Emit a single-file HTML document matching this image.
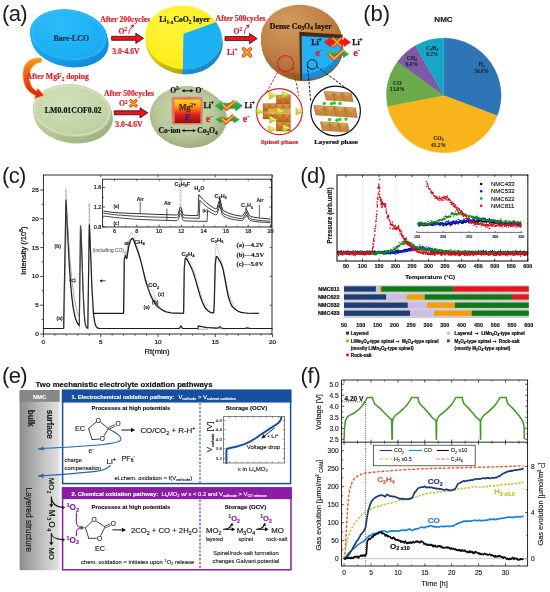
<!DOCTYPE html>
<html><head><meta charset="utf-8"><title>Figure</title>
<style>html,body{margin:0;padding:0;background:#fff;}svg{display:block;}</style>
</head><body>
<svg width="550" height="592" viewBox="0 0 550 592">
<defs><filter id="soft" x="0" y="0" width="550" height="592" filterUnits="userSpaceOnUse"><feGaussianBlur stdDeviation="0.38"/></filter></defs>
<rect width="550" height="592" fill="#ffffff"/>
<g filter="url(#soft)">
<g id="panel_a">
<defs>
<radialGradient id="gBlue" cx="0.35" cy="0.3" r="0.8"><stop offset="0" stop-color="#2fbcfa"/><stop offset="0.7" stop-color="#1bb0f5"/><stop offset="1" stop-color="#18a6ee"/></radialGradient>
<linearGradient id="gBlueRim" x1="0" y1="0" x2="0.6" y2="1"><stop offset="0" stop-color="#2aaef3"/><stop offset="0.6" stop-color="#1592dc"/><stop offset="1" stop-color="#0f7fcb"/></linearGradient>
<radialGradient id="gYel" cx="0.35" cy="0.3" r="0.8"><stop offset="0" stop-color="#fff53c"/><stop offset="0.8" stop-color="#fcee1c"/><stop offset="1" stop-color="#f4e418"/></radialGradient>
<linearGradient id="gYelRim" x1="0" y1="0" x2="0.5" y2="1"><stop offset="0" stop-color="#f7e820"/><stop offset="0.7" stop-color="#d9c916"/><stop offset="1" stop-color="#b3a510"/></linearGradient>
<radialGradient id="gBrown" cx="0.32" cy="0.28" r="0.85"><stop offset="0" stop-color="#d29a5e"/><stop offset="0.55" stop-color="#bf8147"/><stop offset="1" stop-color="#a4672f"/></radialGradient>
<linearGradient id="gBrownRim" x1="0" y1="0" x2="0.6" y2="1"><stop offset="0" stop-color="#c58a4f"/><stop offset="0.6" stop-color="#9b5f2a"/><stop offset="1" stop-color="#7a4519"/></linearGradient>
<radialGradient id="gGreen" cx="0.38" cy="0.32" r="0.8"><stop offset="0" stop-color="#d3e1bb"/><stop offset="0.7" stop-color="#c2d3a6"/><stop offset="1" stop-color="#b7c99a"/></radialGradient>
<linearGradient id="gGreenRim" x1="0" y1="0" x2="0.5" y2="1"><stop offset="0" stop-color="#c4d5a8"/><stop offset="0.7" stop-color="#a9bb8c"/><stop offset="1" stop-color="#93a676"/></linearGradient>
<radialGradient id="gGreen2" cx="0.45" cy="0.42" r="0.62"><stop offset="0" stop-color="#ccd9b1"/><stop offset="0.6" stop-color="#b9c89c"/><stop offset="1" stop-color="#98a97a"/></radialGradient>
<linearGradient id="gMg" x1="0" y1="0" x2="0" y2="1"><stop offset="0" stop-color="#ffd91c"/><stop offset="0.3" stop-color="#fb9a16"/><stop offset="0.62" stop-color="#e3241a"/><stop offset="1" stop-color="#8c1014"/></linearGradient>
<radialGradient id="gGlow" cx="0.5" cy="0.5" r="0.5"><stop offset="0.6" stop-color="#f0503a" stop-opacity="0.95"/><stop offset="1" stop-color="#f0705a" stop-opacity="0"/></radialGradient>
<linearGradient id="gArrG" x1="0" y1="0" x2="0" y2="1"><stop offset="0" stop-color="#55cf6a"/><stop offset="0.5" stop-color="#27ad45"/><stop offset="1" stop-color="#1c9a3a"/></linearGradient>
<linearGradient id="gCurv" x1="0" y1="0" x2="0" y2="1"><stop offset="0" stop-color="#f39a14"/><stop offset="0.45" stop-color="#ec5a14"/><stop offset="1" stop-color="#df1a14"/></linearGradient>
<linearGradient id="gBlueRimU" gradientUnits="userSpaceOnUse" x1="40" y1="20" x2="85" y2="70"><stop offset="0" stop-color="#27b6f8"/><stop offset="0.55" stop-color="#18a0ea"/><stop offset="1" stop-color="#128bd8"/></linearGradient>
<linearGradient id="gGreenRimU" gradientUnits="userSpaceOnUse" x1="45" y1="95" x2="90" y2="146"><stop offset="0" stop-color="#c6d7ab"/><stop offset="0.55" stop-color="#b3c596"/><stop offset="1" stop-color="#9fb283"/></linearGradient>
<linearGradient id="gBrownRimU" gradientUnits="userSpaceOnUse" x1="275" y1="20" x2="320" y2="84"><stop offset="0" stop-color="#c68b50"/><stop offset="0.6" stop-color="#a5682f"/><stop offset="1" stop-color="#85501f"/></linearGradient>
<clipPath id="cCut"><path d="M300.6 35.4 L346 38.4 L346 92 L301.8 92 Z"/></clipPath>
<linearGradient id="gBlueRimC" gradientUnits="userSpaceOnUse" x1="305" y1="40" x2="335" y2="84"><stop offset="0" stop-color="#22aef4"/><stop offset="0.6" stop-color="#168fdc"/><stop offset="1" stop-color="#0f78c4"/></linearGradient>
<clipPath id="cYface"><ellipse cx="183.4" cy="37.4" rx="38.4" ry="31.8" transform="rotate(6 183.4 37.4)"/></clipPath>
<clipPath id="cYrim"><ellipse cx="184.2" cy="41.6" rx="38.6" ry="32.6" transform="rotate(6 184.2 41.6)"/></clipPath>
<clipPath id="cSpinel"><circle cx="279.3" cy="111.6" r="23.0"/></clipPath>
<clipPath id="cLayer"><circle cx="335.6" cy="111" r="24.8"/></clipPath>
</defs>
<text x="2.00" y="20.60" font-family='"Liberation Sans", "DejaVu Sans", sans-serif' font-size="22.00" fill="#1a1a1a" letter-spacing="-0.65">(a)</text>
<ellipse cx="70.0" cy="41.5" rx="38.8" ry="25.6" transform="rotate(8 70.0 41.5)" fill="url(#gBlueRimU)" /><ellipse cx="69.8" cy="40.7" rx="38.8" ry="25.6" transform="rotate(8 69.8 40.7)" fill="url(#gBlueRimU)" /><ellipse cx="69.6" cy="39.9" rx="38.8" ry="25.6" transform="rotate(8 69.6 39.9)" fill="url(#gBlueRimU)" /><ellipse cx="69.4" cy="39.1" rx="38.8" ry="25.6" transform="rotate(8 69.4 39.1)" fill="url(#gBlueRimU)" /><ellipse cx="69.2" cy="38.2" rx="38.8" ry="25.6" transform="rotate(8 69.2 38.2)" fill="url(#gBlueRimU)" /><ellipse cx="69.1" cy="37.4" rx="38.8" ry="25.6" transform="rotate(8 69.1 37.4)" fill="url(#gBlueRimU)" /><ellipse cx="68.9" cy="36.6" rx="38.8" ry="25.6" transform="rotate(8 68.9 36.6)" fill="url(#gBlueRimU)" /><ellipse cx="68.7" cy="35.8" rx="38.8" ry="25.6" transform="rotate(8 68.7 35.8)" fill="url(#gBlueRimU)" /><ellipse cx="68.5" cy="35.0" rx="38.8" ry="25.6" transform="rotate(8 68.5 35.0)" fill="url(#gBlue)" />
<ellipse cx="68.5" cy="35.0" rx="36.8" ry="23.8" transform="rotate(8 68.5 35.0)" fill="none" stroke="#4cc4ff" stroke-width="1.6" opacity="0.35"/>
<text x="71.30" y="41.00" font-family='"Liberation Serif", "DejaVu Serif", serif' font-size="7.90" fill="#0e3148" font-weight="bold" text-anchor="middle" stroke="#0e3148" stroke-width="0.2">Bare-LCO</text>
<text x="125.20" y="22.00" font-family='"Liberation Serif", "DejaVu Serif", serif' font-size="7.70" fill="#d8222a" font-weight="bold" text-anchor="middle" stroke="#d8222a" stroke-width="0.2">After 200cycles</text>
<text x="118.60" y="33.60" font-family='"Liberation Serif", "DejaVu Serif", serif' font-size="7.70" fill="#d8222a" font-weight="bold" stroke="#d8222a" stroke-width="0.2">O<tspan dy="-2.77" font-size="5.24">2</tspan></text>
<path d="M128.9 33.8 C129.0 30.0, 130.4 28.2, 132.4 26.6" fill="none" stroke="#d8222a" stroke-width="1.0"/><path d="M130.6 25.0 L134.4 24.6 L133.0 28.2 Z" fill="#d8222a"/>
<polygon points="111.6,36.3 135.8,36.3 135.8,33.2 143.6,38.3 135.8,43.4 135.8,40.3 111.6,40.3" fill="#e8151c" stroke="#2a0606" stroke-width="0.75" stroke-linejoin="miter"/>
<text x="126.00" y="53.60" font-family='"Liberation Serif", "DejaVu Serif", serif' font-size="7.70" fill="#d8222a" font-weight="bold" text-anchor="middle" stroke="#d8222a" stroke-width="0.2">3.0-4.6V</text>
<ellipse cx="184.2" cy="41.6" rx="38.6" ry="32.6" transform="rotate(6 184.2 41.6)" fill="url(#gYelRim)" />
<path d="M182.4 60 L182.4 80 L230 80 L230 18 L214 18 Z" fill="url(#gBlueRim)" clip-path="url(#cYrim)"/>
<ellipse cx="183.4" cy="37.4" rx="38.4" ry="31.8" transform="rotate(6 183.4 37.4)" fill="url(#gYel)" />
<path d="M183.4 33.8 L218.5 21.2 L228 30 L228 72 L182.8 74 Z" fill="#1fb0f5" clip-path="url(#cYface)"/>
<text x="184.60" y="21.90" font-family='"Liberation Serif", "DejaVu Serif", serif' font-size="7.70" fill="#14140a" font-weight="bold" text-anchor="middle" stroke="#14140a" stroke-width="0.2">Li<tspan dy="1.69" font-size="5.24">1-x</tspan><tspan dy="-1.69">CoO</tspan><tspan dy="1.69" font-size="5.24">2</tspan><tspan dy="-1.69"> layer</tspan></text>
<text x="240.60" y="21.20" font-family='"Liberation Serif", "DejaVu Serif", serif' font-size="7.70" fill="#d8222a" font-weight="bold" text-anchor="middle" stroke="#d8222a" stroke-width="0.2">After 500cycles</text>
<text x="233.60" y="33.80" font-family='"Liberation Serif", "DejaVu Serif", serif' font-size="7.70" fill="#d8222a" font-weight="bold" stroke="#d8222a" stroke-width="0.2">O<tspan dy="-2.77" font-size="5.24">2</tspan></text>
<path d="M244.3 33.8 C244.4 30.0, 245.8 28.2, 247.8 26.6" fill="none" stroke="#d8222a" stroke-width="1.0"/><path d="M246.0 25.0 L249.8 24.6 L248.4 28.2 Z" fill="#d8222a"/>
<polygon points="225.0,36.6 249.4,36.6 249.4,33.5 257.2,38.6 249.4,43.7 249.4,40.6 225.0,40.6" fill="#e8151c" stroke="#2a0606" stroke-width="0.75" stroke-linejoin="miter"/>
<text x="227.00" y="54.80" font-family='"Liberation Serif", "DejaVu Serif", serif' font-size="8.00" fill="#d8222a" font-weight="bold" stroke="#d8222a" stroke-width="0.2">Li<tspan dy="-2.88" font-size="5.44">+</tspan></text>
<path d="M243.6 49.0 L250.4 55.8 M243.6 55.8 L250.4 49.0" fill="none" stroke="#e2301a" stroke-width="3.6" stroke-linecap="round"/><path d="M243.6 49.0 L250.4 55.8 M243.6 55.8 L250.4 49.0" fill="none" stroke="#f9b122" stroke-width="1.9" stroke-linecap="round"/>
<ellipse cx="302.5" cy="46.5" rx="40.8" ry="34.5" transform="rotate(8 302.5 46.5)" fill="url(#gBrownRimU)" /><ellipse cx="302.4" cy="45.6" rx="40.8" ry="34.5" transform="rotate(8 302.4 45.6)" fill="url(#gBrownRimU)" /><ellipse cx="302.2" cy="44.8" rx="40.8" ry="34.5" transform="rotate(8 302.2 44.8)" fill="url(#gBrownRimU)" /><ellipse cx="302.1" cy="43.9" rx="40.8" ry="34.5" transform="rotate(8 302.1 43.9)" fill="url(#gBrownRimU)" /><ellipse cx="302.0" cy="43.0" rx="40.8" ry="34.5" transform="rotate(8 302.0 43.0)" fill="url(#gBrownRimU)" /><ellipse cx="301.9" cy="42.1" rx="40.8" ry="34.5" transform="rotate(8 301.9 42.1)" fill="url(#gBrownRimU)" /><ellipse cx="301.8" cy="41.2" rx="40.8" ry="34.5" transform="rotate(8 301.8 41.2)" fill="url(#gBrownRimU)" /><ellipse cx="301.6" cy="40.4" rx="40.8" ry="34.5" transform="rotate(8 301.6 40.4)" fill="url(#gBrownRimU)" /><ellipse cx="301.5" cy="39.5" rx="40.8" ry="34.5" transform="rotate(8 301.5 39.5)" fill="url(#gBrown)" />
<g clip-path="url(#cCut)">
<ellipse cx="302.5" cy="45.9" rx="40.0" ry="33.7" transform="rotate(8 302.5 45.9)" fill="url(#gBlueRimC)" /><ellipse cx="302.4" cy="45.1" rx="40.0" ry="33.7" transform="rotate(8 302.4 45.1)" fill="url(#gBlueRimC)" /><ellipse cx="302.2" cy="44.3" rx="40.0" ry="33.7" transform="rotate(8 302.2 44.3)" fill="url(#gBlueRimC)" /><ellipse cx="302.1" cy="43.5" rx="40.0" ry="33.7" transform="rotate(8 302.1 43.5)" fill="url(#gBlueRimC)" /><ellipse cx="302.0" cy="42.7" rx="40.0" ry="33.7" transform="rotate(8 302.0 42.7)" fill="url(#gBlueRimC)" /><ellipse cx="301.9" cy="41.9" rx="40.0" ry="33.7" transform="rotate(8 301.9 41.9)" fill="url(#gBlueRimC)" /><ellipse cx="301.8" cy="41.1" rx="40.0" ry="33.7" transform="rotate(8 301.8 41.1)" fill="url(#gBlueRimC)" /><ellipse cx="301.6" cy="40.3" rx="40.0" ry="33.7" transform="rotate(8 301.6 40.3)" fill="url(#gBlueRimC)" /><ellipse cx="301.5" cy="39.5" rx="40.0" ry="33.7" transform="rotate(8 301.5 39.5)" fill="#20b1f5" />
</g>
<path d="M299.2 31.8 L342.8 34.8 L342.2 38.6 L301.6 36.0 L302.2 79.8 L300.2 81.0 Z" fill="#4a2a12"/>
<text x="300.80" y="28.70" font-family='"Liberation Serif", "DejaVu Serif", serif' font-size="7.85" fill="#1c1208" font-weight="bold" text-anchor="middle" stroke="#1c1208" stroke-width="0.2">Dense Co<tspan dy="1.73" font-size="5.34">3</tspan><tspan dy="-1.73">O</tspan><tspan dy="1.73" font-size="5.34">4</tspan><tspan dy="-1.73"> layer</tspan></text>
<text x="311.20" y="45.00" font-family='"Liberation Serif", "DejaVu Serif", serif' font-size="7.80" fill="#0a0a0a" font-weight="bold" stroke="#0a0a0a" stroke-width="0.25">Li<tspan dy="-2.81" font-size="5.30">+</tspan></text>
<polygon points="323.6,42.2 331.0,37.1 331.0,39.7 343.6,39.7 343.6,37.1 351.0,42.2 343.6,47.3 343.6,44.7 331.0,44.7 331.0,47.3" fill="#ee1a16" stroke="none" stroke-width="0"/>
<path d="M333.3 38.5 L340.7 45.9 M333.3 45.9 L340.7 38.5" fill="none" stroke="#e2301a" stroke-width="3.1" stroke-linecap="round"/><path d="M333.3 38.5 L340.7 45.9 M333.3 45.9 L340.7 38.5" fill="none" stroke="#f9b122" stroke-width="1.6" stroke-linecap="round"/>
<text x="352.20" y="45.00" font-family='"Liberation Serif", "DejaVu Serif", serif' font-size="7.80" fill="#0a0a0a" font-weight="bold" stroke="#0a0a0a" stroke-width="0.25">Li<tspan dy="-2.81" font-size="5.30">+</tspan></text>
<text x="315.40" y="56.00" font-family='"Liberation Serif", "DejaVu Serif", serif' font-size="10.20" fill="#d8222a" font-weight="bold" stroke="#d8222a" stroke-width="0.25">e<tspan dy="-3.67" font-size="6.94">-</tspan></text>
<polygon points="326.0,54.0 332.0,50.1 332.0,52.2 343.2,52.2 343.2,50.1 349.2,54.0 343.2,57.9 343.2,55.8 332.0,55.8 332.0,57.9" fill="url(#gArrG)" stroke="none" stroke-width="0"/>
<path d="M329.0 53.8 L334.2 58.8 L344.0 49.8" fill="none" stroke="#e2301a" stroke-width="3.7" stroke-linejoin="miter" stroke-linecap="butt"/><path d="M329.0 53.8 L334.2 58.8 L344.0 49.8" fill="none" stroke="#f9b122" stroke-width="2.0" stroke-linejoin="miter" stroke-linecap="butt"/>
<text x="353.20" y="56.00" font-family='"Liberation Serif", "DejaVu Serif", serif' font-size="10.20" fill="#d8222a" font-weight="bold" stroke="#d8222a" stroke-width="0.25">e<tspan dy="-3.67" font-size="6.94">-</tspan></text>
<circle cx="285.6" cy="63.6" r="8.0" fill="none" stroke="#dc2326" stroke-width="1.1"/>
<circle cx="312.2" cy="64.4" r="4.8" fill="none" stroke="#111" stroke-width="1.0"/>
<line x1="279.40" y1="68.80" x2="261.80" y2="101.00" stroke="#cf1c22" stroke-width="1" stroke-dasharray="2.6 1.4"/>
<line x1="293.00" y1="67.40" x2="299.00" y2="96.50" stroke="#cf1c22" stroke-width="1" stroke-dasharray="2.6 1.4"/>
<line x1="307.60" y1="66.00" x2="310.60" y2="100.50" stroke="#111" stroke-width="1" stroke-dasharray="2.6 1.4"/>
<line x1="316.60" y1="66.40" x2="348.00" y2="89.60" stroke="#111" stroke-width="1" stroke-dasharray="2.6 1.4"/>
<circle cx="279.3" cy="111.6" r="23.0" fill="#fff" stroke="#d8222a" stroke-width="1.2"/>
<g clip-path="url(#cSpinel)"><g>
<rect x="263.00" y="103.80" width="6.60" height="7.60" fill="#c9782a" stroke="#a85a18" stroke-width="0.4" /><path d="M263.0 103.8 L269.6 103.8 L266.3 107.6 Z" fill="#e09a48" opacity="0.7"/><path d="M263.0 111.4 L269.6 111.4 L266.3 107.6 Z" fill="#a85a18" opacity="0.55"/>
<rect x="269.60" y="103.80" width="6.60" height="7.60" fill="#c9782a" stroke="#a85a18" stroke-width="0.4" /><path d="M269.6 103.8 L276.2 103.8 L272.9 107.6 Z" fill="#e09a48" opacity="0.7"/><path d="M269.6 111.4 L276.2 111.4 L272.9 107.6 Z" fill="#a85a18" opacity="0.55"/>
<rect x="263.00" y="111.40" width="6.60" height="7.60" fill="#c9782a" stroke="#a85a18" stroke-width="0.4" /><path d="M263.0 111.4 L269.6 111.4 L266.3 115.2 Z" fill="#e09a48" opacity="0.7"/><path d="M263.0 119.0 L269.6 119.0 L266.3 115.2 Z" fill="#a85a18" opacity="0.55"/>
<rect x="269.60" y="111.40" width="6.60" height="7.60" fill="#c9782a" stroke="#a85a18" stroke-width="0.4" /><path d="M269.6 111.4 L276.2 111.4 L272.9 115.2 Z" fill="#e09a48" opacity="0.7"/><path d="M269.6 119.0 L276.2 119.0 L272.9 115.2 Z" fill="#a85a18" opacity="0.55"/>
<rect x="276.20" y="95.00" width="7.10" height="9.00" fill="#c9782a" stroke="#a85a18" stroke-width="0.4" /><path d="M276.2 95.0 L283.3 95.0 L279.8 99.5 Z" fill="#e09a48" opacity="0.7"/><path d="M276.2 104.0 L283.3 104.0 L279.8 99.5 Z" fill="#a85a18" opacity="0.55"/>
<rect x="283.30" y="95.00" width="7.10" height="9.00" fill="#c9782a" stroke="#a85a18" stroke-width="0.4" /><path d="M283.3 95.0 L290.4 95.0 L286.9 99.5 Z" fill="#e09a48" opacity="0.7"/><path d="M283.3 104.0 L290.4 104.0 L286.9 99.5 Z" fill="#a85a18" opacity="0.55"/>
<rect x="276.20" y="104.00" width="7.10" height="9.00" fill="#c9782a" stroke="#a85a18" stroke-width="0.4" /><path d="M276.2 104.0 L283.3 104.0 L279.8 108.5 Z" fill="#e09a48" opacity="0.7"/><path d="M276.2 113.0 L283.3 113.0 L279.8 108.5 Z" fill="#a85a18" opacity="0.55"/>
<rect x="283.30" y="104.00" width="7.10" height="9.00" fill="#c9782a" stroke="#a85a18" stroke-width="0.4" /><path d="M283.3 104.0 L290.4 104.0 L286.9 108.5 Z" fill="#e09a48" opacity="0.7"/><path d="M283.3 113.0 L290.4 113.0 L286.9 108.5 Z" fill="#a85a18" opacity="0.55"/>
<rect x="276.20" y="113.00" width="7.10" height="9.00" fill="#c9782a" stroke="#a85a18" stroke-width="0.4" /><path d="M276.2 113.0 L283.3 113.0 L279.8 117.5 Z" fill="#e09a48" opacity="0.7"/><path d="M276.2 122.0 L283.3 122.0 L279.8 117.5 Z" fill="#a85a18" opacity="0.55"/>
<rect x="283.30" y="113.00" width="7.10" height="9.00" fill="#c9782a" stroke="#a85a18" stroke-width="0.4" /><path d="M283.3 113.0 L290.4 113.0 L286.9 117.5 Z" fill="#e09a48" opacity="0.7"/><path d="M283.3 122.0 L290.4 122.0 L286.9 117.5 Z" fill="#a85a18" opacity="0.55"/>
<rect x="276.20" y="122.00" width="7.10" height="9.00" fill="#c9782a" stroke="#a85a18" stroke-width="0.4" /><path d="M276.2 122.0 L283.3 122.0 L279.8 126.5 Z" fill="#e09a48" opacity="0.7"/><path d="M276.2 131.0 L283.3 131.0 L279.8 126.5 Z" fill="#a85a18" opacity="0.55"/>
<rect x="283.30" y="122.00" width="7.10" height="9.00" fill="#c9782a" stroke="#a85a18" stroke-width="0.4" /><path d="M283.3 122.0 L290.4 122.0 L286.9 126.5 Z" fill="#e09a48" opacity="0.7"/><path d="M283.3 131.0 L290.4 131.0 L286.9 126.5 Z" fill="#a85a18" opacity="0.55"/>
<rect x="268.00" y="108.60" width="23.00" height="5.40" fill="#e8e070" stroke="none" stroke-width="1" opacity="0.55"/>
<path d="M269.2 91.8 L276.8 95.6 L269.2 99.4 Z" fill="#c6d530" stroke="#8fa01c" stroke-width="0.3"/><path d="M269.2 91.8 L276.8 95.6 L271.3 95.6 Z" fill="#e6ee62"/>
<path d="M282.0 90.8 L289.6 94.6 L282.0 98.4 Z" fill="#c6d530" stroke="#8fa01c" stroke-width="0.3"/><path d="M282.0 90.8 L289.6 94.6 L284.1 94.6 Z" fill="#e6ee62"/>
<path d="M295.8 107.7 L303.4 111.5 L295.8 115.3 Z" fill="#c6d530" stroke="#8fa01c" stroke-width="0.3"/><path d="M295.8 107.7 L303.4 111.5 L297.9 111.5 Z" fill="#e6ee62"/>
<path d="M255.8 107.7 L263.4 111.5 L255.8 115.3 Z" fill="#c6d530" stroke="#8fa01c" stroke-width="0.3"/><path d="M255.8 107.7 L263.4 111.5 L257.9 111.5 Z" fill="#e6ee62"/>
<path d="M269.5 116.0 L277.1 119.8 L269.5 123.6 Z" fill="#c6d530" stroke="#8fa01c" stroke-width="0.3"/><path d="M269.5 116.0 L277.1 119.8 L271.6 119.8 Z" fill="#e6ee62"/>
<path d="M268.4 125.6 L276.0 129.4 L268.4 133.2 Z" fill="#c6d530" stroke="#8fa01c" stroke-width="0.3"/><path d="M268.4 125.6 L276.0 129.4 L270.5 129.4 Z" fill="#e6ee62"/>
<path d="M282.8 124.4 L290.4 128.2 L282.8 132.0 Z" fill="#c6d530" stroke="#8fa01c" stroke-width="0.3"/><path d="M282.8 124.4 L290.4 128.2 L284.9 128.2 Z" fill="#e6ee62"/>
<path d="M276.6 107.6 L284.2 111.4 L276.6 115.2 Z" fill="#c6d530" stroke="#8fa01c" stroke-width="0.3"/><path d="M276.6 107.6 L284.2 111.4 L278.7 111.4 Z" fill="#e6ee62"/>
</g></g>
<text x="279.40" y="143.60" font-family='"Liberation Serif", "DejaVu Serif", serif' font-size="7.00" fill="#d8222a" font-weight="bold" text-anchor="middle" stroke="#d8222a" stroke-width="0.2">Spinel phase</text>
<circle cx="335.6" cy="111" r="24.8" fill="#fff" stroke="#111" stroke-width="1.2"/>
<g clip-path="url(#cLayer)">
<polygon points="324.2,91.4 333.2,91.9 335.2,100.5 326.2,100.0" fill="#c8883c" stroke="#8f5a1e" stroke-width="0.45"/><polygon points="324.2,91.4 333.2,91.9 329.7,96.0" fill="#dba65a" opacity="0.8"/><polygon points="333.2,91.9 342.2,92.5 344.2,101.1 335.2,100.5" fill="#c8883c" stroke="#8f5a1e" stroke-width="0.45"/><polygon points="333.2,91.9 342.2,92.5 338.7,96.5" fill="#dba65a" opacity="0.8"/><polygon points="342.2,92.5 351.2,93.0 353.2,101.6 344.2,101.1" fill="#c8883c" stroke="#8f5a1e" stroke-width="0.45"/><polygon points="342.2,92.5 351.2,93.0 347.7,97.1" fill="#dba65a" opacity="0.8"/>
<polygon points="313.8,105.4 324.2,106.0 326.2,115.6 315.8,115.0" fill="#c8883c" stroke="#8f5a1e" stroke-width="0.45"/><polygon points="313.8,105.4 324.2,106.0 320.0,110.5" fill="#dba65a" opacity="0.8"/><polygon points="324.2,106.0 334.6,106.6 336.6,116.2 326.2,115.6" fill="#c8883c" stroke="#8f5a1e" stroke-width="0.45"/><polygon points="324.2,106.0 334.6,106.6 330.4,111.1" fill="#dba65a" opacity="0.8"/><polygon points="334.6,106.6 345.0,107.3 347.0,116.9 336.6,116.2" fill="#c8883c" stroke="#8f5a1e" stroke-width="0.45"/><polygon points="334.6,106.6 345.0,107.3 340.8,111.8" fill="#dba65a" opacity="0.8"/><polygon points="345.0,107.3 355.4,107.9 357.4,117.5 347.0,116.9" fill="#c8883c" stroke="#8f5a1e" stroke-width="0.45"/><polygon points="345.0,107.3 355.4,107.9 351.2,112.4" fill="#dba65a" opacity="0.8"/>
<polygon points="320.4,121.8 329.4,122.3 331.4,130.9 322.4,130.4" fill="#c8883c" stroke="#8f5a1e" stroke-width="0.45"/><polygon points="320.4,121.8 329.4,122.3 325.9,126.4" fill="#dba65a" opacity="0.8"/><polygon points="329.4,122.3 338.4,122.9 340.4,131.5 331.4,130.9" fill="#c8883c" stroke="#8f5a1e" stroke-width="0.45"/><polygon points="329.4,122.3 338.4,122.9 334.9,126.9" fill="#dba65a" opacity="0.8"/><polygon points="338.4,122.9 347.4,123.4 349.4,132.0 340.4,131.5" fill="#c8883c" stroke="#8f5a1e" stroke-width="0.45"/><polygon points="338.4,122.9 347.4,123.4 343.9,127.4" fill="#dba65a" opacity="0.8"/>
<circle cx="324.2" cy="103.4" r="1.7" fill="#20cf20"/>
<circle cx="331.6" cy="103.8" r="1.7" fill="#20cf20"/>
<circle cx="334.4" cy="103.0" r="1.7" fill="#20cf20"/>
<circle cx="340.0" cy="103.4" r="1.7" fill="#20cf20"/>
<circle cx="329.6" cy="119.5" r="1.7" fill="#20cf20"/>
<circle cx="337.0" cy="120.2" r="1.7" fill="#20cf20"/>
<circle cx="339.8" cy="119.4" r="1.7" fill="#20cf20"/>
<circle cx="346.0" cy="119.1" r="1.7" fill="#20cf20"/>
</g>
<text x="336.00" y="143.60" font-family='"Liberation Serif", "DejaVu Serif", serif' font-size="7.00" fill="#111" font-weight="bold" text-anchor="middle" stroke="#111" stroke-width="0.2">Layered phase</text>
<ellipse cx="73.5" cy="117.0" rx="39.4" ry="26.3" transform="rotate(6 73.5 117.0)" fill="url(#gGreenRimU)" /><ellipse cx="73.3" cy="116.2" rx="39.4" ry="26.3" transform="rotate(6 73.3 116.2)" fill="url(#gGreenRimU)" /><ellipse cx="73.1" cy="115.4" rx="39.4" ry="26.3" transform="rotate(6 73.1 115.4)" fill="url(#gGreenRimU)" /><ellipse cx="72.9" cy="114.6" rx="39.4" ry="26.3" transform="rotate(6 72.9 114.6)" fill="url(#gGreenRimU)" /><ellipse cx="72.8" cy="113.8" rx="39.4" ry="26.3" transform="rotate(6 72.8 113.8)" fill="url(#gGreenRimU)" /><ellipse cx="72.6" cy="112.9" rx="39.4" ry="26.3" transform="rotate(6 72.6 112.9)" fill="url(#gGreenRimU)" /><ellipse cx="72.4" cy="112.1" rx="39.4" ry="26.3" transform="rotate(6 72.4 112.1)" fill="url(#gGreenRimU)" /><ellipse cx="72.2" cy="111.3" rx="39.4" ry="26.3" transform="rotate(6 72.2 111.3)" fill="url(#gGreenRimU)" /><ellipse cx="72.0" cy="110.5" rx="39.4" ry="26.3" transform="rotate(6 72.0 110.5)" fill="url(#gGreen)" />
<ellipse cx="72.0" cy="110.5" rx="37.4" ry="24.4" transform="rotate(6 72.0 110.5)" fill="none" stroke="#e2edcf" stroke-width="1.6" opacity="0.5"/>
<text x="73.20" y="113.40" font-family='"Liberation Serif", "DejaVu Serif", serif' font-size="7.85" fill="#10140c" font-weight="bold" text-anchor="middle" stroke="#10140c" stroke-width="0.2">LM0.01COF0.02</text>
<path d="M41.5 58.2 C27 57, 22.6 66, 23.0 76.5 C23.4 86, 28 92.5, 35.5 95.5 L34.6 98.8 L44.0 95.4 L37.6 88.0 L36.8 91.0 C31.5 88.5, 29.6 83, 29.6 76.5 C29.6 69, 33 63.4, 41.8 62.0 Z" fill="url(#gCurv)" stroke="#f8b830" stroke-width="0.7" stroke-linejoin="round"/>
<text x="26.60" y="79.40" font-family='"Liberation Serif", "DejaVu Serif", serif' font-size="7.70" fill="#d8222a" font-weight="bold" stroke="#d8222a" stroke-width="0.2">After MgF<tspan dy="1.69" font-size="5.24">2</tspan><tspan dy="-1.69"> doping</tspan></text>
<text x="129.00" y="95.60" font-family='"Liberation Serif", "DejaVu Serif", serif' font-size="7.70" fill="#d8222a" font-weight="bold" text-anchor="middle" stroke="#d8222a" stroke-width="0.2">After 500cycles</text>
<text x="119.00" y="106.40" font-family='"Liberation Serif", "DejaVu Serif", serif' font-size="7.70" fill="#d8222a" font-weight="bold" stroke="#d8222a" stroke-width="0.2">O<tspan dy="-2.77" font-size="5.24">2</tspan></text>
<path d="M130.8 100.7 L136.0 105.8 M130.8 105.8 L136.0 100.7" fill="none" stroke="#e2301a" stroke-width="3.1" stroke-linecap="round"/><path d="M130.8 100.7 L136.0 105.8 M130.8 105.8 L136.0 100.7" fill="none" stroke="#f9b122" stroke-width="1.6" stroke-linecap="round"/>
<polygon points="114.2,110.8 140.0,110.8 140.0,107.7 147.8,112.8 140.0,117.9 140.0,114.8 114.2,114.8" fill="#e8151c" stroke="#2a0606" stroke-width="0.75" stroke-linejoin="miter"/>
<text x="129.00" y="127.20" font-family='"Liberation Serif", "DejaVu Serif", serif' font-size="7.70" fill="#d8222a" font-weight="bold" text-anchor="middle" stroke="#d8222a" stroke-width="0.2">3.0-4.6V</text>
<ellipse cx="188.4" cy="117.0" rx="38.6" ry="30.8" transform="rotate(6 188.4 117.0)" fill="url(#gGreen2)" />
<text x="170.20" y="93.20" font-family='"Liberation Serif", "DejaVu Serif", serif' font-size="7.60" fill="#111" font-weight="bold" stroke="#111" stroke-width="0.2">O<tspan dy="-2.74" font-size="5.17">2-</tspan></text>
<line x1="184.1" y1="90.8" x2="191.1" y2="90.8" stroke="#111" stroke-width="1.1"/><path d="M181.6 90.8 L184.6 89.1 L184.6 92.5 Z M193.6 90.8 L190.6 89.1 L190.6 92.5 Z" fill="#111"/>
<text x="195.40" y="93.20" font-family='"Liberation Serif", "DejaVu Serif", serif' font-size="7.60" fill="#111" font-weight="bold" stroke="#111" stroke-width="0.2">O<tspan dy="-2.74" font-size="5.17">-</tspan></text>
<rect x="170.60" y="95.80" width="33.00" height="29.60" fill="url(#gGlow)" stroke="none" stroke-width="1" rx="3"/>
<rect x="171.60" y="96.80" width="31.00" height="27.60" fill="#ee4a38" stroke="none" stroke-width="1" rx="2.5" opacity="0.55"/>
<rect x="174.60" y="99.60" width="25.80" height="23.40" fill="url(#gMg)" stroke="none" stroke-width="1" />
<text x="187.60" y="109.80" font-family='"Liberation Serif", "DejaVu Serif", serif' font-size="8.00" fill="#55260a" font-weight="bold" text-anchor="middle" stroke="#55260a" stroke-width="0.25">Mg<tspan dy="-2.88" font-size="5.44">2+</tspan></text>
<text x="187.60" y="119.60" font-family='"Liberation Serif", "DejaVu Serif", serif' font-size="8.40" fill="#26269a" font-weight="bold" text-anchor="middle" stroke="#26269a" stroke-width="0.25">F</text>
<text x="203.40" y="108.20" font-family='"Liberation Serif", "DejaVu Serif", serif' font-size="7.90" fill="#111" font-weight="bold" stroke="#111" stroke-width="0.25">Li<tspan dy="-2.84" font-size="5.37">+</tspan></text>
<polygon points="214.8,105.8 222.2,100.1 222.2,102.8 235.4,102.8 235.4,100.1 242.8,105.8 235.4,111.5 235.4,108.8 222.2,108.8 222.2,111.5" fill="url(#gArrG)" stroke="none" stroke-width="0"/>
<path d="M222.6 104.6 L226.8 108.6 L234.6 101.4" fill="none" stroke="#e2301a" stroke-width="3.9" stroke-linejoin="miter" stroke-linecap="butt"/><path d="M222.6 104.6 L226.8 108.6 L234.6 101.4" fill="none" stroke="#f9b122" stroke-width="2.1" stroke-linejoin="miter" stroke-linecap="butt"/>
<text x="244.40" y="108.20" font-family='"Liberation Serif", "DejaVu Serif", serif' font-size="7.90" fill="#111" font-weight="bold" stroke="#111" stroke-width="0.25">Li<tspan dy="-2.84" font-size="5.37">+</tspan></text>
<text x="205.80" y="121.80" font-family='"Liberation Serif", "DejaVu Serif", serif' font-size="10.20" fill="#d8222a" font-weight="bold" stroke="#d8222a" stroke-width="0.25">e<tspan dy="-3.67" font-size="6.94">-</tspan></text>
<polygon points="215.4,119.4 221.6,115.4 221.6,117.6 233.6,117.6 233.6,115.4 239.8,119.4 233.6,123.4 233.6,121.2 221.6,121.2 221.6,123.4" fill="url(#gArrG)" stroke="none" stroke-width="0"/>
<path d="M221.9 118.4 L226.0 122.3 L233.7 115.3" fill="none" stroke="#e2301a" stroke-width="3.8" stroke-linejoin="miter" stroke-linecap="butt"/><path d="M221.9 118.4 L226.0 122.3 L233.7 115.3" fill="none" stroke="#f9b122" stroke-width="2.1" stroke-linejoin="miter" stroke-linecap="butt"/>
<text x="242.80" y="121.80" font-family='"Liberation Serif", "DejaVu Serif", serif' font-size="10.20" fill="#d8222a" font-weight="bold" stroke="#d8222a" stroke-width="0.25">e<tspan dy="-3.67" font-size="6.94">-</tspan></text>
<text x="158.60" y="133.00" font-family='"Liberation Serif", "DejaVu Serif", serif' font-size="7.60" fill="#111" font-weight="bold" stroke="#111" stroke-width="0.2">Co-ion</text>
<line x1="184.1" y1="130.6" x2="193.5" y2="130.6" stroke="#111" stroke-width="1.1"/><path d="M181.6 130.6 L184.6 128.9 L184.6 132.3 Z M196.0 130.6 L193.0 128.9 L193.0 132.3 Z" fill="#111"/>
<text x="197.20" y="133.00" font-family='"Liberation Serif", "DejaVu Serif", serif' font-size="7.60" fill="#111" font-weight="bold" stroke="#111" stroke-width="0.2">Co<tspan dy="1.67" font-size="5.17">3</tspan><tspan dy="-1.67">O</tspan><tspan dy="1.67" font-size="5.17">4</tspan></text>
</g>
<g id="panel_b">
<text x="363.30" y="20.60" font-family='"Liberation Sans", "DejaVu Sans", sans-serif' font-size="22.00" fill="#1a1a1a" letter-spacing="-0.05">(b)</text>
<text x="443.50" y="21.60" font-family='"Liberation Sans", "DejaVu Sans", sans-serif' font-size="8.10" fill="#222" font-weight="bold" text-anchor="middle" stroke="#222" stroke-width="0.178">NMC</text>
<path d="M443.80 95.40 L443.80 38.10 A57.30 57.30 0 0 1 497.34 115.82 Z" fill="#2e75b6" stroke="#2e75b6" stroke-width="0.3"/>
<path d="M443.80 95.40 L497.34 115.82 A57.30 57.30 0 0 1 387.51 106.14 Z" fill="#f9b41e" stroke="#f9b41e" stroke-width="0.3"/>
<path d="M443.80 95.40 L387.51 106.14 A57.30 57.30 0 0 1 397.44 61.72 Z" fill="#6aaa4a" stroke="#6aaa4a" stroke-width="0.3"/>
<path d="M443.80 95.40 L397.44 61.72 A57.30 57.30 0 0 1 415.57 45.54 Z" fill="#7c5aa6" stroke="#7c5aa6" stroke-width="0.3"/>
<path d="M443.80 95.40 L415.57 45.54 A57.30 57.30 0 0 1 443.80 38.10 Z" fill="#17a6c6" stroke="#17a6c6" stroke-width="0.3"/>
<text x="481.60" y="66.30" font-family='"Liberation Serif", "DejaVu Serif", serif' font-size="5.60" fill="#1c2530" font-weight="bold" text-anchor="middle" stroke="#1c2530" stroke-width="0.123">H<tspan dy="1.23" font-size="3.81">2</tspan></text>
<text x="481.60" y="72.60" font-family='"Liberation Serif", "DejaVu Serif", serif' font-size="5.30" fill="#1c2530" font-weight="bold" text-anchor="middle" stroke="#1c2530" stroke-width="0.117">30.8%</text>
<text x="438.40" y="140.20" font-family='"Liberation Serif", "DejaVu Serif", serif' font-size="5.60" fill="#1c2530" font-weight="bold" text-anchor="middle" stroke="#1c2530" stroke-width="0.123">CO<tspan dy="1.23" font-size="3.81">2</tspan></text>
<text x="438.40" y="146.50" font-family='"Liberation Serif", "DejaVu Serif", serif' font-size="5.30" fill="#1c2530" font-weight="bold" text-anchor="middle" stroke="#1c2530" stroke-width="0.117">41.2%</text>
<text x="397.30" y="84.60" font-family='"Liberation Serif", "DejaVu Serif", serif' font-size="5.60" fill="#1c2530" font-weight="bold" text-anchor="middle" stroke="#1c2530" stroke-width="0.123">CO</text>
<text x="397.30" y="90.90" font-family='"Liberation Serif", "DejaVu Serif", serif' font-size="5.30" fill="#1c2530" font-weight="bold" text-anchor="middle" stroke="#1c2530" stroke-width="0.117">13.0%</text>
<text x="411.80" y="59.80" font-family='"Liberation Serif", "DejaVu Serif", serif' font-size="5.60" fill="#1c2530" font-weight="bold" text-anchor="middle" stroke="#1c2530" stroke-width="0.123">CH<tspan dy="1.23" font-size="3.81">4</tspan></text>
<text x="411.80" y="66.10" font-family='"Liberation Serif", "DejaVu Serif", serif' font-size="5.30" fill="#1c2530" font-weight="bold" text-anchor="middle" stroke="#1c2530" stroke-width="0.117">6.8%</text>
<text x="432.20" y="49.60" font-family='"Liberation Serif", "DejaVu Serif", serif' font-size="5.60" fill="#1c2530" font-weight="bold" text-anchor="middle" stroke="#1c2530" stroke-width="0.123">C<tspan dy="1.23" font-size="3.81">2</tspan><tspan dy="-1.23">H</tspan><tspan dy="1.23" font-size="3.81">2</tspan></text>
<text x="432.20" y="55.90" font-family='"Liberation Serif", "DejaVu Serif", serif' font-size="5.30" fill="#1c2530" font-weight="bold" text-anchor="middle" stroke="#1c2530" stroke-width="0.117">8.2%</text>
</g>
<g id="panel_c">
<text x="2.00" y="182.50" font-family='"Liberation Sans", "DejaVu Sans", sans-serif' font-size="22.00" fill="#1a1a1a" letter-spacing="-0.65">(c)</text>
<rect x="43.40" y="175.00" width="228.60" height="159.00" fill="none" stroke="#1a1a1a" stroke-width="0.9" />
<line x1="40.20" y1="334.00" x2="43.40" y2="334.00" stroke="#1a1a1a" stroke-width="0.8" />
<text x="38.80" y="336.05" font-family='"Liberation Sans", "DejaVu Sans", sans-serif' font-size="5.70" fill="#1a1a1a" text-anchor="end" transform="translate(38.80 0) scale(1.12 1) translate(-38.80 0)" stroke="#1a1a1a" stroke-width="0.22">0</text>
<line x1="40.20" y1="305.20" x2="43.40" y2="305.20" stroke="#1a1a1a" stroke-width="0.8" />
<text x="38.80" y="307.25" font-family='"Liberation Sans", "DejaVu Sans", sans-serif' font-size="5.70" fill="#1a1a1a" text-anchor="end" transform="translate(38.80 0) scale(1.12 1) translate(-38.80 0)" stroke="#1a1a1a" stroke-width="0.22">5</text>
<line x1="40.20" y1="276.40" x2="43.40" y2="276.40" stroke="#1a1a1a" stroke-width="0.8" />
<text x="38.80" y="278.45" font-family='"Liberation Sans", "DejaVu Sans", sans-serif' font-size="5.70" fill="#1a1a1a" text-anchor="end" transform="translate(38.80 0) scale(1.12 1) translate(-38.80 0)" stroke="#1a1a1a" stroke-width="0.22">10</text>
<line x1="40.20" y1="247.60" x2="43.40" y2="247.60" stroke="#1a1a1a" stroke-width="0.8" />
<text x="38.80" y="249.65" font-family='"Liberation Sans", "DejaVu Sans", sans-serif' font-size="5.70" fill="#1a1a1a" text-anchor="end" transform="translate(38.80 0) scale(1.12 1) translate(-38.80 0)" stroke="#1a1a1a" stroke-width="0.22">15</text>
<line x1="40.20" y1="218.80" x2="43.40" y2="218.80" stroke="#1a1a1a" stroke-width="0.8" />
<text x="38.80" y="220.85" font-family='"Liberation Sans", "DejaVu Sans", sans-serif' font-size="5.70" fill="#1a1a1a" text-anchor="end" transform="translate(38.80 0) scale(1.12 1) translate(-38.80 0)" stroke="#1a1a1a" stroke-width="0.22">20</text>
<line x1="40.20" y1="190.00" x2="43.40" y2="190.00" stroke="#1a1a1a" stroke-width="0.8" />
<text x="38.80" y="192.05" font-family='"Liberation Sans", "DejaVu Sans", sans-serif' font-size="5.70" fill="#1a1a1a" text-anchor="end" transform="translate(38.80 0) scale(1.12 1) translate(-38.80 0)" stroke="#1a1a1a" stroke-width="0.22">25</text>
<line x1="41.60" y1="319.60" x2="43.40" y2="319.60" stroke="#1a1a1a" stroke-width="0.7" />
<line x1="41.60" y1="290.80" x2="43.40" y2="290.80" stroke="#1a1a1a" stroke-width="0.7" />
<line x1="41.60" y1="262.00" x2="43.40" y2="262.00" stroke="#1a1a1a" stroke-width="0.7" />
<line x1="41.60" y1="233.20" x2="43.40" y2="233.20" stroke="#1a1a1a" stroke-width="0.7" />
<line x1="41.60" y1="204.40" x2="43.40" y2="204.40" stroke="#1a1a1a" stroke-width="0.7" />
<line x1="43.40" y1="334.00" x2="43.40" y2="337.20" stroke="#1a1a1a" stroke-width="0.8" />
<text x="43.40" y="343.60" font-family='"Liberation Sans", "DejaVu Sans", sans-serif' font-size="5.70" fill="#1a1a1a" text-anchor="middle" transform="translate(43.40 0) scale(1.12 1) translate(-43.40 0)" stroke="#1a1a1a" stroke-width="0.22">0</text>
<line x1="54.86" y1="334.00" x2="54.86" y2="335.80" stroke="#1a1a1a" stroke-width="0.7" />
<line x1="66.32" y1="334.00" x2="66.32" y2="335.80" stroke="#1a1a1a" stroke-width="0.7" />
<line x1="77.78" y1="334.00" x2="77.78" y2="335.80" stroke="#1a1a1a" stroke-width="0.7" />
<line x1="89.24" y1="334.00" x2="89.24" y2="335.80" stroke="#1a1a1a" stroke-width="0.7" />
<line x1="100.70" y1="334.00" x2="100.70" y2="337.20" stroke="#1a1a1a" stroke-width="0.8" />
<text x="100.70" y="343.60" font-family='"Liberation Sans", "DejaVu Sans", sans-serif' font-size="5.70" fill="#1a1a1a" text-anchor="middle" transform="translate(100.70 0) scale(1.12 1) translate(-100.70 0)" stroke="#1a1a1a" stroke-width="0.22">5</text>
<line x1="112.16" y1="334.00" x2="112.16" y2="335.80" stroke="#1a1a1a" stroke-width="0.7" />
<line x1="123.62" y1="334.00" x2="123.62" y2="335.80" stroke="#1a1a1a" stroke-width="0.7" />
<line x1="135.08" y1="334.00" x2="135.08" y2="335.80" stroke="#1a1a1a" stroke-width="0.7" />
<line x1="146.54" y1="334.00" x2="146.54" y2="335.80" stroke="#1a1a1a" stroke-width="0.7" />
<line x1="158.00" y1="334.00" x2="158.00" y2="337.20" stroke="#1a1a1a" stroke-width="0.8" />
<text x="158.00" y="343.60" font-family='"Liberation Sans", "DejaVu Sans", sans-serif' font-size="5.70" fill="#1a1a1a" text-anchor="middle" transform="translate(158.00 0) scale(1.12 1) translate(-158.00 0)" stroke="#1a1a1a" stroke-width="0.22">10</text>
<line x1="169.46" y1="334.00" x2="169.46" y2="335.80" stroke="#1a1a1a" stroke-width="0.7" />
<line x1="180.92" y1="334.00" x2="180.92" y2="335.80" stroke="#1a1a1a" stroke-width="0.7" />
<line x1="192.38" y1="334.00" x2="192.38" y2="335.80" stroke="#1a1a1a" stroke-width="0.7" />
<line x1="203.84" y1="334.00" x2="203.84" y2="335.80" stroke="#1a1a1a" stroke-width="0.7" />
<line x1="215.30" y1="334.00" x2="215.30" y2="337.20" stroke="#1a1a1a" stroke-width="0.8" />
<text x="215.30" y="343.60" font-family='"Liberation Sans", "DejaVu Sans", sans-serif' font-size="5.70" fill="#1a1a1a" text-anchor="middle" transform="translate(215.30 0) scale(1.12 1) translate(-215.30 0)" stroke="#1a1a1a" stroke-width="0.22">15</text>
<line x1="226.76" y1="334.00" x2="226.76" y2="335.80" stroke="#1a1a1a" stroke-width="0.7" />
<line x1="238.22" y1="334.00" x2="238.22" y2="335.80" stroke="#1a1a1a" stroke-width="0.7" />
<line x1="249.68" y1="334.00" x2="249.68" y2="335.80" stroke="#1a1a1a" stroke-width="0.7" />
<line x1="261.14" y1="334.00" x2="261.14" y2="335.80" stroke="#1a1a1a" stroke-width="0.7" />
<line x1="272.60" y1="334.00" x2="272.60" y2="337.20" stroke="#1a1a1a" stroke-width="0.8" />
<text x="272.60" y="343.60" font-family='"Liberation Sans", "DejaVu Sans", sans-serif' font-size="5.70" fill="#1a1a1a" text-anchor="middle" transform="translate(272.60 0) scale(1.12 1) translate(-272.60 0)" stroke="#1a1a1a" stroke-width="0.22">20</text>
<line x1="43.40" y1="175.00" x2="43.40" y2="177.20" stroke="#1a1a1a" stroke-width="0.7" />
<line x1="100.70" y1="175.00" x2="100.70" y2="177.20" stroke="#1a1a1a" stroke-width="0.7" />
<line x1="158.00" y1="175.00" x2="158.00" y2="177.20" stroke="#1a1a1a" stroke-width="0.7" />
<line x1="215.30" y1="175.00" x2="215.30" y2="177.20" stroke="#1a1a1a" stroke-width="0.7" />
<line x1="272.60" y1="175.00" x2="272.60" y2="177.20" stroke="#1a1a1a" stroke-width="0.7" />
<line x1="269.80" y1="334.00" x2="272.00" y2="334.00" stroke="#1a1a1a" stroke-width="0.7" />
<line x1="269.80" y1="305.20" x2="272.00" y2="305.20" stroke="#1a1a1a" stroke-width="0.7" />
<line x1="269.80" y1="276.40" x2="272.00" y2="276.40" stroke="#1a1a1a" stroke-width="0.7" />
<line x1="269.80" y1="247.60" x2="272.00" y2="247.60" stroke="#1a1a1a" stroke-width="0.7" />
<line x1="269.80" y1="218.80" x2="272.00" y2="218.80" stroke="#1a1a1a" stroke-width="0.7" />
<line x1="269.80" y1="190.00" x2="272.00" y2="190.00" stroke="#1a1a1a" stroke-width="0.7" />
<text x="157.00" y="354.40" font-family='"Liberation Sans", "DejaVu Sans", sans-serif' font-size="7.70" fill="#111" text-anchor="middle" stroke="#111" stroke-width="0.2">Rt(min)</text>
<text x="25.60" y="250.60" font-family='"Liberation Sans", "DejaVu Sans", sans-serif' font-size="7.50" fill="#111" text-anchor="middle" transform="rotate(-90 25.60 250.60)" stroke="#111" stroke-width="0.25">Intensity (/10<tspan dy="-2.70" font-size="5.10">6</tspan><tspan dy="2.70">)</tspan></text>
<polyline points="43.4,328.5 63.5,328.5 63.6,328.2 66.0,200.0 69.1,262.2 70.4,281.7 71.7,296.1 73.2,308.0 74.9,316.4 75.8,319.5 76.9,322.1 78.0,324.2 79.3,325.7 80.5,225.9 80.8,228.5 81.2,235.9 83.1,291.1 84.1,313.0 84.7,320.0 85.5,324.9 86.0,326.4 86.4,327.3 87.0,328.0 87.8,328.3 89.3,224.8 89.9,235.3 91.9,286.7 93.2,308.9 94.0,317.4 94.9,322.8 95.4,324.8 96.1,326.3 96.7,327.3 97.5,327.9 99.0,328.4 101.9,328.5 178.4,328.5 179.1,328.4 179.6,328.1 180.6,326.2 180.9,325.9 181.3,326.3 182.2,328.1 183.0,328.5 198.1,328.5 198.2,325.9 201.8,326.7 206.0,327.3 216.5,328.1 218.0,328.0 219.4,326.9 219.9,326.8 220.3,326.9 221.7,328.1 223.2,328.3 244.0,328.5 245.2,328.4 247.4,327.8 249.5,328.4 250.7,328.5 272.6,328.5" fill="none" stroke="#1a1a1a" stroke-width="1.2" stroke-linejoin="round"/>
<polyline points="62.9,328.5 63.5,328.5 63.6,328.1 65.9,188.6 69.0,254.4 70.2,274.0 71.5,289.9 73.0,302.8 74.7,312.8 75.6,316.6 76.6,319.7 77.6,322.2 78.9,324.3" fill="none" stroke="#444" stroke-width="0.55" stroke-dasharray="0.7 0.7"/>
<polyline points="62.9,328.5 64.0,328.5 64.0,328.2 66.6,210.5 69.8,257.3 71.1,271.5 72.4,283.9 73.8,294.9 75.3,303.8 77.0,311.1 78.9,316.7" fill="none" stroke="#666" stroke-width="0.55" />
<polyline points="87.6,328.5 87.8,328.5 87.9,327.1 89.2,203.3 89.7,216.3 91.5,279.6 92.8,306.5 93.6,316.8 94.5,323.1 95.1,325.1 95.7,326.6 96.4,327.6 97.2,328.1" fill="none" stroke="#444" stroke-width="0.55" stroke-dasharray="0.7 0.7"/>
<polyline points="78.9,328.5 79.3,328.5 79.4,327.4 80.5,225.4 80.9,228.6 81.3,235.9 83.1,288.5 84.1,309.5 84.7,316.7 85.3,322.1 86.0,325.5 86.4,326.8 86.9,327.6" fill="none" stroke="#666" stroke-width="0.5" />
<polyline points="197.0,329.2 207.3,329.2 207.3,327.2 211.1,327.9 215.4,328.4 226.7,329.0" fill="none" stroke="#555" stroke-width="0.5" />
<polyline points="92.7,313.3 123.4,313.3 123.5,313.1 123.7,308.4 124.3,259.5 124.9,256.8 125.4,255.7 125.7,256.0 126.5,258.4 126.6,258.5 126.8,258.3 128.6,247.2 129.6,242.9 129.9,241.8 131.1,239.5 131.8,238.7 132.4,238.4 133.0,238.8 133.6,240.1 137.4,250.2 139.3,255.7 141.1,262.1 145.6,280.8 148.1,288.6 150.3,294.6 151.6,297.5 153.1,300.3 154.7,302.9 156.2,305.0 158.0,307.0 160.5,308.8 162.6,310.2 164.5,311.2 166.2,311.9 171.2,312.8 174.2,313.1 178.7,313.2 183.2,313.3 183.4,313.0 183.6,312.5 183.7,307.0 184.3,268.1 185.0,260.5 185.3,258.6 185.6,258.0 186.3,258.3 187.1,259.6 190.9,266.8 192.5,270.4 194.2,275.4 200.5,297.1 202.2,301.7 204.2,306.1 205.9,308.8 208.5,311.2 210.6,312.4 212.4,312.9 213.5,312.9 213.8,310.6 214.3,302.7 215.2,265.7 215.9,258.6 216.2,256.9 216.5,256.5 217.1,256.8 217.7,257.5 220.1,261.6 221.4,264.3 222.6,267.4 223.6,271.9 228.1,295.8 230.4,302.8 231.5,305.2 232.5,306.8 234.3,308.6 236.9,310.5 239.0,311.7 241.2,312.4 244.5,312.9 247.9,313.2 258.8,313.3" fill="none" stroke="#1a1a1a" stroke-width="1.3" stroke-linejoin="round"/>
<polyline points="127.1,253.4 128.5,242.1 129.2,237.6 130.2,234.4 130.9,233.0 131.2,232.7 131.5,232.6 132.2,233.3 134.8,239.4 137.1,246.4 139.5,254.7 144.1,272.5 148.8,287.9" fill="none" stroke="#555" stroke-width="0.55" stroke-dasharray="0.7 0.7"/>
<polyline points="123.8,264.9 124.6,254.2 124.9,251.2 125.0,251.1 125.2,251.4 125.9,256.1 126.1,256.7 126.2,256.7 127.2,246.6 127.9,244.6 129.3,241.8" fill="none" stroke="#777" stroke-width="0.45" />
<polyline points="214.2,305.2 215.1,260.4 215.8,247.4 216.0,245.0 216.2,244.1 216.6,244.5 216.9,245.3 218.6,253.0 221.5,261.4 222.6,265.2 225.9,279.8 227.9,290.0 228.8,293.5 231.2,299.8 235.9,309.2" fill="none" stroke="#555" stroke-width="0.55" stroke-dasharray="0.7 0.7"/>
<polyline points="183.8,311.0 184.7,264.5 185.4,257.4 185.8,255.6 186.1,255.1 186.8,255.4 187.5,256.5 189.9,261.6 192.5,266.1 193.7,268.7 195.2,273.3 200.7,293.4 202.2,298.2 204.3,303.0 208.4,310.4" fill="none" stroke="#777" stroke-width="0.55" stroke-dasharray="0.7 0.7"/>
<polyline points="147.7,286.2 149.1,289.2 149.7,290.1 150.2,290.2 151.8,289.7 152.3,289.9 152.9,290.6 153.5,292.1 155.9,300.5 156.7,302.5 158.3,305.0 161.4,308.7" fill="none" stroke="#666" stroke-width="0.55" stroke-dasharray="0.7 0.7"/>
<polyline points="147.7,286.8 150.0,292.5 152.3,296.1 155.9,302.2 158.2,305.4 161.4,308.7" fill="none" stroke="#888" stroke-width="0.4" />
<text x="54.60" y="247.60" font-family='"Liberation Sans", "DejaVu Sans", sans-serif' font-size="5.00" fill="#222" font-weight="bold" stroke="#222" stroke-width="0.11">(b)</text>
<text x="69.60" y="282.40" font-family='"Liberation Sans", "DejaVu Sans", sans-serif' font-size="5.00" fill="#222" font-weight="bold" stroke="#222" stroke-width="0.11">(c)</text>
<text x="56.60" y="320.20" font-family='"Liberation Sans", "DejaVu Sans", sans-serif' font-size="5.00" fill="#222" font-weight="bold" stroke="#222" stroke-width="0.11">(a)</text>
<text x="92.70" y="252.20" font-family='"Liberation Sans", "DejaVu Sans", sans-serif' font-size="4.90" fill="#666" stroke="#666" stroke-width="0.108">(including CO)</text>
<text x="124.20" y="244.80" font-family='"Liberation Sans", "DejaVu Sans", sans-serif' font-size="5.20" fill="#222" font-weight="bold" stroke="#222" stroke-width="0.114">air</text>
<text x="134.00" y="243.60" font-family='"Liberation Sans", "DejaVu Sans", sans-serif' font-size="5.90" fill="#222" font-weight="bold" stroke="#222" stroke-width="0.13">CH<tspan dy="1.30" font-size="4.01">4</tspan></text>
<text x="181.40" y="255.60" font-family='"Liberation Sans", "DejaVu Sans", sans-serif' font-size="5.90" fill="#222" font-weight="bold" stroke="#222" stroke-width="0.13">C<tspan dy="1.30" font-size="4.01">2</tspan><tspan dy="-1.30">H</tspan><tspan dy="1.30" font-size="4.01">4</tspan></text>
<text x="210.40" y="241.50" font-family='"Liberation Sans", "DejaVu Sans", sans-serif' font-size="5.90" fill="#222" font-weight="bold" stroke="#222" stroke-width="0.13">C<tspan dy="1.30" font-size="4.01">2</tspan><tspan dy="-1.30">H</tspan><tspan dy="1.30" font-size="4.01">6</tspan></text>
<text x="148.20" y="287.20" font-family='"Liberation Sans", "DejaVu Sans", sans-serif' font-size="5.90" fill="#222" font-weight="bold" stroke="#222" stroke-width="0.13">CO<tspan dy="1.30" font-size="4.01">2</tspan></text>
<text x="158.00" y="296.40" font-family='"Liberation Sans", "DejaVu Sans", sans-serif' font-size="5.00" fill="#222" font-weight="bold" stroke="#222" stroke-width="0.11">(c)</text>
<text x="152.00" y="304.20" font-family='"Liberation Sans", "DejaVu Sans", sans-serif' font-size="5.00" fill="#222" font-weight="bold" stroke="#222" stroke-width="0.11">(b)</text>
<text x="143.60" y="309.30" font-family='"Liberation Sans", "DejaVu Sans", sans-serif' font-size="5.00" fill="#222" font-weight="bold" stroke="#222" stroke-width="0.11">(a)</text>
<line x1="100.60" y1="280.80" x2="105.60" y2="280.80" stroke="#222" stroke-width="0.8" />
<path d="M99.6 280.8 L102.2 279.2 L102.2 282.4 Z" fill="#222"/>
<text x="236.50" y="247.20" font-family='"Liberation Serif", "DejaVu Serif", serif' font-size="6.60" fill="#1a1a1a" font-weight="bold" stroke="#1a1a1a" stroke-width="0.145">(a)—4.2V</text>
<text x="236.50" y="256.60" font-family='"Liberation Serif", "DejaVu Serif", serif' font-size="6.60" fill="#1a1a1a" font-weight="bold" stroke="#1a1a1a" stroke-width="0.145">(b)—4.5V</text>
<text x="236.50" y="266.00" font-family='"Liberation Serif", "DejaVu Serif", serif' font-size="6.60" fill="#1a1a1a" font-weight="bold" stroke="#1a1a1a" stroke-width="0.145">(c)—5.0V</text>
<rect x="102.60" y="179.20" width="169.00" height="47.80" fill="#fff" stroke="#1a1a1a" stroke-width="0.9" />
<line x1="103.40" y1="225.60" x2="103.40" y2="227.00" stroke="#1a1a1a" stroke-width="0.6" />
<line x1="114.54" y1="224.60" x2="114.54" y2="227.00" stroke="#1a1a1a" stroke-width="0.7" />
<line x1="114.54" y1="179.20" x2="114.54" y2="181.20" stroke="#1a1a1a" stroke-width="0.6" />
<text x="114.54" y="233.50" font-family='"Liberation Sans", "DejaVu Sans", sans-serif' font-size="5.00" fill="#1a1a1a" text-anchor="middle" transform="translate(114.54 0) scale(1.1 1) translate(-114.54 0)" stroke="#1a1a1a" stroke-width="0.2">6</text>
<line x1="125.68" y1="225.60" x2="125.68" y2="227.00" stroke="#1a1a1a" stroke-width="0.6" />
<line x1="136.82" y1="224.60" x2="136.82" y2="227.00" stroke="#1a1a1a" stroke-width="0.7" />
<line x1="136.82" y1="179.20" x2="136.82" y2="181.20" stroke="#1a1a1a" stroke-width="0.6" />
<text x="136.82" y="233.50" font-family='"Liberation Sans", "DejaVu Sans", sans-serif' font-size="5.00" fill="#1a1a1a" text-anchor="middle" transform="translate(136.82 0) scale(1.1 1) translate(-136.82 0)" stroke="#1a1a1a" stroke-width="0.2">8</text>
<line x1="147.96" y1="225.60" x2="147.96" y2="227.00" stroke="#1a1a1a" stroke-width="0.6" />
<line x1="159.10" y1="224.60" x2="159.10" y2="227.00" stroke="#1a1a1a" stroke-width="0.7" />
<line x1="159.10" y1="179.20" x2="159.10" y2="181.20" stroke="#1a1a1a" stroke-width="0.6" />
<text x="159.10" y="233.50" font-family='"Liberation Sans", "DejaVu Sans", sans-serif' font-size="5.00" fill="#1a1a1a" text-anchor="middle" transform="translate(159.10 0) scale(1.1 1) translate(-159.10 0)" stroke="#1a1a1a" stroke-width="0.2">10</text>
<line x1="170.24" y1="225.60" x2="170.24" y2="227.00" stroke="#1a1a1a" stroke-width="0.6" />
<line x1="181.38" y1="224.60" x2="181.38" y2="227.00" stroke="#1a1a1a" stroke-width="0.7" />
<line x1="181.38" y1="179.20" x2="181.38" y2="181.20" stroke="#1a1a1a" stroke-width="0.6" />
<text x="181.38" y="233.50" font-family='"Liberation Sans", "DejaVu Sans", sans-serif' font-size="5.00" fill="#1a1a1a" text-anchor="middle" transform="translate(181.38 0) scale(1.1 1) translate(-181.38 0)" stroke="#1a1a1a" stroke-width="0.2">12</text>
<line x1="192.52" y1="225.60" x2="192.52" y2="227.00" stroke="#1a1a1a" stroke-width="0.6" />
<line x1="203.66" y1="224.60" x2="203.66" y2="227.00" stroke="#1a1a1a" stroke-width="0.7" />
<line x1="203.66" y1="179.20" x2="203.66" y2="181.20" stroke="#1a1a1a" stroke-width="0.6" />
<text x="203.66" y="233.50" font-family='"Liberation Sans", "DejaVu Sans", sans-serif' font-size="5.00" fill="#1a1a1a" text-anchor="middle" transform="translate(203.66 0) scale(1.1 1) translate(-203.66 0)" stroke="#1a1a1a" stroke-width="0.2">14</text>
<line x1="214.80" y1="225.60" x2="214.80" y2="227.00" stroke="#1a1a1a" stroke-width="0.6" />
<line x1="225.94" y1="224.60" x2="225.94" y2="227.00" stroke="#1a1a1a" stroke-width="0.7" />
<line x1="225.94" y1="179.20" x2="225.94" y2="181.20" stroke="#1a1a1a" stroke-width="0.6" />
<text x="225.94" y="233.50" font-family='"Liberation Sans", "DejaVu Sans", sans-serif' font-size="5.00" fill="#1a1a1a" text-anchor="middle" transform="translate(225.94 0) scale(1.1 1) translate(-225.94 0)" stroke="#1a1a1a" stroke-width="0.2">16</text>
<line x1="237.08" y1="225.60" x2="237.08" y2="227.00" stroke="#1a1a1a" stroke-width="0.6" />
<line x1="248.22" y1="224.60" x2="248.22" y2="227.00" stroke="#1a1a1a" stroke-width="0.7" />
<line x1="248.22" y1="179.20" x2="248.22" y2="181.20" stroke="#1a1a1a" stroke-width="0.6" />
<text x="248.22" y="233.50" font-family='"Liberation Sans", "DejaVu Sans", sans-serif' font-size="5.00" fill="#1a1a1a" text-anchor="middle" transform="translate(248.22 0) scale(1.1 1) translate(-248.22 0)" stroke="#1a1a1a" stroke-width="0.2">18</text>
<line x1="259.36" y1="225.60" x2="259.36" y2="227.00" stroke="#1a1a1a" stroke-width="0.6" />
<line x1="270.50" y1="224.60" x2="270.50" y2="227.00" stroke="#1a1a1a" stroke-width="0.7" />
<line x1="270.50" y1="179.20" x2="270.50" y2="181.20" stroke="#1a1a1a" stroke-width="0.6" />
<text x="270.50" y="233.50" font-family='"Liberation Sans", "DejaVu Sans", sans-serif' font-size="5.00" fill="#1a1a1a" text-anchor="middle" transform="translate(270.50 0) scale(1.1 1) translate(-270.50 0)" stroke="#1a1a1a" stroke-width="0.2">20</text>
<line x1="102.60" y1="226.80" x2="105.00" y2="226.80" stroke="#1a1a1a" stroke-width="0.7" />
<line x1="269.20" y1="226.80" x2="271.60" y2="226.80" stroke="#1a1a1a" stroke-width="0.7" />
<text x="101.30" y="228.60" font-family='"Liberation Sans", "DejaVu Sans", sans-serif' font-size="5.00" fill="#1a1a1a" text-anchor="end" transform="translate(101.30 0) scale(1.1 1) translate(-101.30 0)" stroke="#1a1a1a" stroke-width="0.2">0.8</text>
<line x1="102.60" y1="207.12" x2="105.00" y2="207.12" stroke="#1a1a1a" stroke-width="0.7" />
<line x1="269.20" y1="207.12" x2="271.60" y2="207.12" stroke="#1a1a1a" stroke-width="0.7" />
<text x="101.30" y="208.92" font-family='"Liberation Sans", "DejaVu Sans", sans-serif' font-size="5.00" fill="#1a1a1a" text-anchor="end" transform="translate(101.30 0) scale(1.1 1) translate(-101.30 0)" stroke="#1a1a1a" stroke-width="0.2">1.2</text>
<line x1="102.60" y1="187.44" x2="105.00" y2="187.44" stroke="#1a1a1a" stroke-width="0.7" />
<line x1="269.20" y1="187.44" x2="271.60" y2="187.44" stroke="#1a1a1a" stroke-width="0.7" />
<text x="101.30" y="189.24" font-family='"Liberation Sans", "DejaVu Sans", sans-serif' font-size="5.00" fill="#1a1a1a" text-anchor="end" transform="translate(101.30 0) scale(1.1 1) translate(-101.30 0)" stroke="#1a1a1a" stroke-width="0.2">1.6</text>
<line x1="102.60" y1="216.96" x2="104.00" y2="216.96" stroke="#1a1a1a" stroke-width="0.6" />
<line x1="270.20" y1="216.96" x2="271.60" y2="216.96" stroke="#1a1a1a" stroke-width="0.6" />
<line x1="102.60" y1="197.28" x2="104.00" y2="197.28" stroke="#1a1a1a" stroke-width="0.6" />
<line x1="270.20" y1="197.28" x2="271.60" y2="197.28" stroke="#1a1a1a" stroke-width="0.6" />
<polyline points="103.4,211.1 112.7,212.4 120.5,212.9 154.5,214.3 176.4,215.0 177.4,214.7 178.1,213.8 178.8,212.0 179.9,207.7 180.2,207.0 180.5,206.7 181.1,207.7 182.7,213.4 183.2,214.5 183.8,215.0 185.1,215.2 198.0,215.7 198.8,194.7 202.5,199.0 206.5,202.8 211.0,206.2 213.6,207.9 215.3,208.7 216.0,208.8 216.4,208.6 217.2,207.4 218.8,201.9 219.1,201.1 219.4,200.9 219.6,197.6 220.2,199.6 221.7,206.7 222.6,209.3 223.1,210.1 224.0,210.9 227.5,212.7 230.8,213.9 234.7,215.0 240.0,216.0 241.9,216.1 242.5,215.8 243.1,215.3 245.1,212.1 245.5,211.7 246.0,211.5 246.1,209.1 246.9,210.2 249.0,214.8 249.9,215.8 251.0,216.5 253.8,217.2 258.1,217.9 270.5,219.1" fill="none" stroke="#1a1a1a" stroke-width="0.9" stroke-linejoin="round"/>
<polyline points="103.4,213.2 114.2,214.7 131.8,216.0 149.9,216.9 176.3,217.7 177.4,217.4 178.1,216.6 178.8,214.8 179.9,210.8 180.2,210.1 180.5,209.9 181.1,210.8 182.7,216.2 183.2,217.2 183.9,217.7 185.2,217.9 199.2,218.4 199.9,200.3 203.6,204.1 207.5,207.3 212.2,210.3 214.7,211.6 215.8,212.0 216.5,211.7 217.1,210.8 218.8,205.3 219.1,204.6 219.4,204.4 219.6,201.2 220.2,203.2 221.7,209.9 222.6,212.3 223.1,213.1 224.0,213.8 227.4,215.4 230.6,216.5 234.4,217.5 239.7,218.5 241.7,218.6 242.4,218.4 243.1,217.9 245.1,214.8 245.5,214.4 246.0,214.2 246.1,212.0 246.9,213.0 249.0,217.3 249.9,218.3 251.0,218.9 253.8,219.6 258.1,220.3 270.5,221.3" fill="none" stroke="#1a1a1a" stroke-width="0.8" stroke-linejoin="round"/>
<polyline points="103.4,216.0 114.3,217.4 133.3,219.1 148.1,219.8 176.3,220.7 177.4,220.4 178.1,219.7 178.8,218.2 179.9,214.5 180.2,213.9 180.5,213.7 181.1,214.6 182.8,219.6 183.3,220.4 184.0,220.8 185.9,221.0 207.0,221.4 207.7,210.7 210.7,212.5 213.9,214.1 215.4,214.7 216.3,214.7 216.8,214.3 217.2,213.5 218.8,208.8 219.1,208.2 219.4,208.0 219.6,205.1 220.2,206.9 221.7,212.9 222.6,215.1 223.1,215.7 224.0,216.4 227.5,217.9 230.8,218.9 234.7,219.7 240.0,220.5 241.9,220.6 242.5,220.3 243.1,219.9 245.1,217.2 245.5,216.8 246.0,216.6 246.1,214.6 246.9,215.5 249.0,219.3 249.9,220.2 251.0,220.8 253.9,221.4 258.2,221.9 270.5,222.7" fill="none" stroke="#1a1a1a" stroke-width="0.8" stroke-linejoin="round"/>
<line x1="180.04" y1="206.14" x2="180.04" y2="175.63" stroke="#666" stroke-width="0.7" stroke-dasharray="0.7 0.6"/>
<line x1="181.38" y1="206.14" x2="181.38" y2="187.44" stroke="#999" stroke-width="0.5" stroke-dasharray="0.7 0.6"/>
<line x1="140.16" y1="213.02" x2="140.16" y2="201.71" stroke="#1a1a1a" stroke-width="0.7" />
<line x1="166.90" y1="220.40" x2="166.90" y2="208.60" stroke="#1a1a1a" stroke-width="0.7" />
<line x1="259.36" y1="217.45" x2="259.36" y2="205.15" stroke="#1a1a1a" stroke-width="0.7" />
<text x="113.60" y="207.60" font-family='"Liberation Sans", "DejaVu Sans", sans-serif' font-size="4.60" fill="#222" font-weight="bold" stroke="#222" stroke-width="0.101">(a)</text>
<text x="113.60" y="225.00" font-family='"Liberation Sans", "DejaVu Sans", sans-serif' font-size="4.60" fill="#222" font-weight="bold" stroke="#222" stroke-width="0.101">(c)</text>
<text x="202.40" y="211.60" font-family='"Liberation Sans", "DejaVu Sans", sans-serif' font-size="4.40" fill="#222" font-weight="bold" stroke="#222" stroke-width="0.097">(b)</text>
<text x="140.16" y="200.80" font-family='"Liberation Sans", "DejaVu Sans", sans-serif' font-size="5.00" fill="#222" font-weight="bold" text-anchor="middle" stroke="#222" stroke-width="0.11">Air</text>
<text x="167.46" y="205.40" font-family='"Liberation Sans", "DejaVu Sans", sans-serif' font-size="5.00" fill="#222" font-weight="bold" text-anchor="middle" stroke="#222" stroke-width="0.11">Air</text>
<text x="259.92" y="201.60" font-family='"Liberation Sans", "DejaVu Sans", sans-serif' font-size="5.00" fill="#222" font-weight="bold" text-anchor="middle" stroke="#222" stroke-width="0.11">Air</text>
<text x="174.60" y="186.00" font-family='"Liberation Sans", "DejaVu Sans", sans-serif' font-size="5.50" fill="#222" font-weight="bold" stroke="#222" stroke-width="0.121">C<tspan dy="1.21" font-size="3.74">2</tspan><tspan dy="-1.21">H</tspan><tspan dy="1.21" font-size="3.74">5</tspan><tspan dy="-1.21">F</tspan></text>
<text x="194.20" y="190.40" font-family='"Liberation Sans", "DejaVu Sans", sans-serif' font-size="5.50" fill="#222" font-weight="bold" stroke="#222" stroke-width="0.121">H<tspan dy="1.21" font-size="3.74">2</tspan><tspan dy="-1.21">O</tspan></text>
<text x="214.60" y="198.00" font-family='"Liberation Sans", "DejaVu Sans", sans-serif' font-size="5.50" fill="#222" font-weight="bold" stroke="#222" stroke-width="0.121">C<tspan dy="1.21" font-size="3.74">2</tspan><tspan dy="-1.21">H</tspan><tspan dy="1.21" font-size="3.74">6</tspan></text>
<text x="241.00" y="207.40" font-family='"Liberation Sans", "DejaVu Sans", sans-serif' font-size="5.50" fill="#222" font-weight="bold" stroke="#222" stroke-width="0.121">C<tspan dy="1.21" font-size="3.74">3</tspan><tspan dy="-1.21">H</tspan><tspan dy="1.21" font-size="3.74">6</tspan></text>
</g>
<g id="panel_d">
<text x="300.20" y="182.50" font-family='"Liberation Sans", "DejaVu Sans", sans-serif' font-size="22.00" fill="#1a1a1a" letter-spacing="-0.45">(d)</text>
<line x1="346.00" y1="175.00" x2="346.00" y2="261.00" stroke="#c9c9c9" stroke-width="0.5" stroke-dasharray="0.7 0.9"/>
<line x1="362.52" y1="175.00" x2="362.52" y2="261.00" stroke="#c9c9c9" stroke-width="0.5" stroke-dasharray="0.7 0.9"/>
<line x1="379.04" y1="175.00" x2="379.04" y2="261.00" stroke="#c9c9c9" stroke-width="0.5" stroke-dasharray="0.7 0.9"/>
<line x1="395.56" y1="175.00" x2="395.56" y2="261.00" stroke="#c9c9c9" stroke-width="0.5" stroke-dasharray="0.7 0.9"/>
<line x1="412.08" y1="175.00" x2="412.08" y2="261.00" stroke="#c9c9c9" stroke-width="0.5" stroke-dasharray="0.7 0.9"/>
<line x1="428.60" y1="175.00" x2="428.60" y2="261.00" stroke="#c9c9c9" stroke-width="0.5" stroke-dasharray="0.7 0.9"/>
<line x1="445.12" y1="175.00" x2="445.12" y2="261.00" stroke="#c9c9c9" stroke-width="0.5" stroke-dasharray="0.7 0.9"/>
<line x1="461.64" y1="175.00" x2="461.64" y2="261.00" stroke="#c9c9c9" stroke-width="0.5" stroke-dasharray="0.7 0.9"/>
<line x1="478.16" y1="175.00" x2="478.16" y2="261.00" stroke="#c9c9c9" stroke-width="0.5" stroke-dasharray="0.7 0.9"/>
<line x1="494.68" y1="175.00" x2="494.68" y2="261.00" stroke="#c9c9c9" stroke-width="0.5" stroke-dasharray="0.7 0.9"/>
<line x1="511.20" y1="175.00" x2="511.20" y2="261.00" stroke="#c9c9c9" stroke-width="0.5" stroke-dasharray="0.7 0.9"/>
<line x1="527.72" y1="175.00" x2="527.72" y2="261.00" stroke="#c9c9c9" stroke-width="0.5" stroke-dasharray="0.7 0.9"/>
<path d="M337.7 252.2h.01M338.0 252.8h.01M338.3 252.5h.01M338.5 251.4h.01M338.8 252.9h.01M339.1 252.4h.01M339.3 252.3h.01M339.6 251.6h.01M339.9 252.6h.01M340.1 251.5h.01M340.4 252.6h.01M340.6 253.8h.01M340.9 251.6h.01M341.2 251.0h.01M341.4 252.2h.01M341.7 253.2h.01M342.0 252.8h.01M342.2 252.1h.01M342.5 253.5h.01M342.8 252.3h.01M343.0 252.4h.01M343.3 252.0h.01M343.6 251.3h.01M343.8 254.0h.01M344.1 252.2h.01M344.3 252.7h.01M344.6 252.7h.01M344.9 252.3h.01M345.1 252.8h.01M345.4 253.3h.01M345.7 251.3h.01M345.9 253.6h.01M346.2 251.9h.01M346.5 251.8h.01M346.7 251.7h.01M347.0 252.3h.01M347.3 253.4h.01M347.5 252.4h.01M347.8 253.0h.01M348.0 251.3h.01M348.3 253.1h.01M348.6 251.9h.01M348.8 252.1h.01M349.1 253.3h.01M349.4 252.9h.01M349.6 252.9h.01M349.9 252.5h.01M350.2 252.5h.01M350.4 253.1h.01M350.7 252.2h.01M351.0 252.7h.01M351.2 251.6h.01M351.5 252.1h.01M351.7 252.6h.01M352.0 252.2h.01M352.3 252.7h.01M352.5 252.9h.01M352.8 252.6h.01M353.1 252.2h.01M353.3 253.6h.01M353.6 252.0h.01M353.9 252.6h.01M354.1 253.0h.01M354.4 252.7h.01M354.7 252.7h.01M354.9 252.3h.01M355.2 252.6h.01M355.4 251.3h.01M355.7 251.6h.01M356.0 252.7h.01M356.2 252.8h.01M356.5 251.8h.01M356.8 252.2h.01M357.0 252.0h.01M357.3 251.5h.01M357.6 251.3h.01M357.8 253.0h.01M358.1 253.6h.01M358.4 253.0h.01M358.6 253.1h.01M358.9 252.8h.01M359.1 251.5h.01M359.4 253.2h.01M359.7 252.9h.01M359.9 252.0h.01M360.2 252.6h.01M360.5 253.1h.01M360.7 252.4h.01M361.0 252.9h.01M361.3 252.9h.01M361.5 252.8h.01M361.8 253.3h.01M362.1 251.3h.01M362.3 253.0h.01M362.6 253.2h.01M362.9 252.0h.01M363.1 252.0h.01M363.4 253.8h.01M363.6 252.9h.01M363.9 252.6h.01M364.2 253.2h.01M364.4 251.6h.01M364.7 253.0h.01M365.0 253.0h.01M365.2 252.4h.01M365.5 252.3h.01M365.8 252.3h.01M366.0 252.1h.01M366.3 252.5h.01M366.6 252.9h.01M366.8 253.6h.01M367.1 252.4h.01M367.3 252.5h.01M367.6 252.0h.01M367.9 253.0h.01M368.1 252.2h.01M368.4 252.6h.01M368.7 253.3h.01M368.9 252.3h.01M369.2 252.7h.01M369.5 251.3h.01M369.7 252.5h.01M370.0 251.7h.01M370.3 252.1h.01M370.5 251.6h.01M370.8 252.4h.01M371.0 252.8h.01M371.3 253.1h.01M371.6 251.9h.01M371.8 252.9h.01M372.1 253.0h.01M372.4 252.7h.01M372.6 252.5h.01M372.9 252.7h.01M373.2 252.9h.01M373.4 253.4h.01M373.7 252.0h.01M374.0 253.1h.01M374.2 252.2h.01M374.5 253.1h.01M374.7 251.1h.01M375.0 252.4h.01M375.3 252.4h.01M375.5 251.8h.01M375.8 253.1h.01M376.1 252.5h.01M376.3 251.9h.01M376.6 253.2h.01M376.9 252.5h.01M377.1 252.1h.01M377.4 252.4h.01M377.7 252.7h.01M377.9 252.4h.01M378.2 253.4h.01M378.4 251.5h.01M378.7 251.7h.01M379.0 252.7h.01M379.2 252.1h.01M379.5 252.1h.01M379.8 252.7h.01M380.0 252.6h.01M380.3 251.7h.01M380.6 252.5h.01M380.8 253.3h.01M381.1 252.3h.01M381.4 252.6h.01M381.6 251.6h.01M381.9 251.6h.01M382.1 251.6h.01M382.4 252.4h.01M382.7 251.8h.01M382.9 252.1h.01M383.2 252.1h.01M383.5 253.0h.01M383.7 252.0h.01M384.0 253.8h.01M384.3 251.0h.01M384.5 252.5h.01M384.8 252.5h.01M385.1 252.0h.01M385.3 253.1h.01M385.6 252.6h.01M385.8 252.0h.01M386.1 252.8h.01M386.4 251.0h.01M386.6 251.4h.01M386.9 253.6h.01M387.2 251.7h.01M387.4 253.2h.01M387.7 252.8h.01M388.0 252.4h.01M388.2 251.8h.01M388.5 251.5h.01M388.8 252.3h.01M389.0 252.3h.01M389.3 252.9h.01M389.5 252.2h.01M389.8 253.0h.01M390.1 252.7h.01M390.3 253.1h.01M390.6 252.9h.01M390.9 252.7h.01M391.1 251.3h.01M391.4 251.9h.01M391.7 252.1h.01M391.9 253.2h.01M392.2 251.3h.01M392.5 252.9h.01M392.7 251.9h.01M393.0 250.5h.01M393.2 251.4h.01M393.5 251.8h.01M393.8 252.0h.01M394.0 252.2h.01M394.3 252.0h.01M394.6 252.8h.01M394.8 252.5h.01M395.1 251.6h.01M395.4 252.4h.01M395.6 251.9h.01M395.9 252.6h.01M396.2 251.5h.01M396.4 251.8h.01M396.7 252.3h.01M396.9 250.2h.01M397.2 251.3h.01M397.5 251.5h.01M397.7 252.3h.01M398.0 250.0h.01M398.3 252.0h.01M398.5 251.6h.01M398.8 251.2h.01M399.1 252.4h.01M399.3 251.1h.01M399.6 251.5h.01M399.9 251.7h.01M400.1 251.7h.01M400.4 252.1h.01M400.6 250.7h.01M400.9 250.8h.01M401.2 252.0h.01M401.4 252.0h.01M401.7 250.9h.01M402.0 251.1h.01M402.2 251.3h.01M402.5 251.6h.01M402.8 250.8h.01M403.0 251.5h.01M403.3 250.9h.01M403.6 251.1h.01M403.8 249.6h.01M404.1 250.6h.01M404.3 251.1h.01M404.6 250.9h.01M404.9 250.7h.01M405.1 249.4h.01M405.4 249.3h.01M405.7 250.3h.01M405.9 249.5h.01M406.2 250.1h.01M406.5 251.3h.01M406.7 249.7h.01M407.0 251.0h.01M407.3 249.7h.01M407.5 250.1h.01M407.8 250.1h.01M408.0 249.0h.01M408.3 249.0h.01M408.6 249.7h.01M408.8 249.4h.01M409.1 249.5h.01M409.4 248.6h.01M409.6 249.7h.01M409.9 249.5h.01M410.2 249.2h.01M410.4 248.7h.01M410.7 248.7h.01M411.0 249.6h.01M411.2 247.9h.01M411.5 249.3h.01M411.7 248.6h.01M412.0 248.1h.01M412.3 249.2h.01M412.5 249.3h.01M412.8 249.2h.01M413.1 249.3h.01M413.3 249.6h.01M413.6 248.4h.01M413.9 249.5h.01M414.1 248.2h.01M414.4 248.3h.01M414.7 249.2h.01M414.9 248.8h.01M415.2 249.3h.01M415.5 248.9h.01M415.7 249.2h.01M416.0 249.0h.01M416.2 247.9h.01M416.5 248.7h.01M416.8 248.3h.01M417.0 247.8h.01M417.3 247.3h.01M417.6 247.7h.01M417.8 249.4h.01M418.1 249.6h.01M418.4 249.3h.01M418.6 249.2h.01M418.9 249.0h.01M419.2 248.5h.01M419.4 248.7h.01M419.7 249.1h.01M419.9 247.8h.01M420.2 249.1h.01M420.5 249.0h.01M420.7 249.7h.01M421.0 248.8h.01M421.3 248.8h.01M421.5 248.2h.01M421.8 248.0h.01M422.1 249.7h.01M422.3 249.6h.01M422.6 248.5h.01M422.9 249.5h.01M423.1 249.2h.01M423.4 249.1h.01M423.6 250.1h.01M423.9 249.5h.01M424.2 249.5h.01M424.4 249.1h.01M424.7 248.1h.01M425.0 248.9h.01M425.2 249.9h.01M425.5 248.9h.01M425.8 249.9h.01M426.0 248.9h.01M426.3 250.1h.01M426.6 250.0h.01M426.8 248.9h.01M427.1 249.4h.01M427.3 250.5h.01M427.6 249.6h.01M427.9 250.5h.01M428.1 248.4h.01M428.4 250.8h.01M428.7 250.0h.01M428.9 250.3h.01M429.2 249.9h.01M429.5 250.1h.01M429.7 249.7h.01M430.0 250.5h.01M430.3 251.2h.01M430.5 249.8h.01M430.8 251.3h.01M431.0 251.9h.01M431.3 251.9h.01M431.6 250.6h.01M431.8 252.6h.01M432.1 251.8h.01M432.4 250.4h.01M432.6 252.3h.01M432.9 251.1h.01M433.2 251.5h.01M433.4 250.7h.01M433.7 252.4h.01M434.0 250.8h.01M434.2 250.3h.01M434.5 251.2h.01M434.7 252.3h.01M435.0 251.4h.01M435.3 251.9h.01M435.5 250.7h.01M435.8 251.3h.01M436.1 251.5h.01M436.3 253.3h.01M436.6 251.1h.01M436.9 252.1h.01M437.1 251.3h.01M437.4 253.0h.01M437.7 251.7h.01M437.9 253.1h.01M438.2 252.5h.01M438.4 252.3h.01M438.7 252.6h.01M439.0 252.1h.01M439.2 251.3h.01M439.5 252.0h.01M439.8 252.2h.01M440.0 252.7h.01M440.3 252.2h.01M440.6 252.9h.01M440.8 251.7h.01M441.1 252.0h.01M441.4 251.3h.01M441.6 251.6h.01M441.9 252.6h.01M442.1 253.0h.01M442.4 252.1h.01M442.7 252.0h.01M442.9 252.4h.01M443.2 252.9h.01M443.5 252.1h.01M443.7 252.7h.01M444.0 252.4h.01M444.3 251.9h.01M444.5 252.6h.01M444.8 252.3h.01M445.1 252.6h.01M445.3 251.9h.01M445.6 253.0h.01M445.8 252.4h.01M446.1 251.7h.01M446.4 251.1h.01M446.6 252.2h.01M446.9 252.5h.01M447.2 251.5h.01M447.4 252.5h.01M447.7 252.3h.01M448.0 252.3h.01M448.2 251.8h.01M448.5 253.5h.01M448.8 252.2h.01M449.0 252.0h.01M449.3 253.5h.01M449.5 251.4h.01M449.8 253.7h.01M450.1 252.7h.01M450.3 252.2h.01M450.6 252.4h.01M450.9 252.7h.01M451.1 253.1h.01M451.4 252.9h.01M451.7 252.8h.01M451.9 253.2h.01M452.2 251.7h.01M452.5 252.9h.01M452.7 252.1h.01M453.0 252.1h.01M453.2 252.3h.01M453.5 253.4h.01M453.8 252.0h.01M454.0 253.3h.01M454.3 252.7h.01M454.6 253.5h.01M454.8 252.0h.01M455.1 252.8h.01M455.4 252.1h.01M455.6 252.9h.01M455.9 252.2h.01M456.2 251.8h.01M456.4 254.2h.01M456.7 252.1h.01M456.9 252.4h.01M457.2 253.0h.01M457.5 252.3h.01M457.7 252.7h.01M458.0 253.2h.01M458.3 253.0h.01M458.5 252.5h.01M458.8 252.3h.01M459.1 252.4h.01M459.3 253.7h.01M459.6 252.3h.01M459.9 252.1h.01M460.1 252.5h.01M460.4 252.6h.01M460.6 252.6h.01M460.9 252.0h.01M461.2 253.2h.01M461.4 251.9h.01M461.7 252.5h.01M462.0 253.2h.01M462.2 253.2h.01M462.5 253.0h.01M462.8 252.4h.01M463.0 252.4h.01M463.3 252.1h.01M463.6 253.2h.01M463.8 252.2h.01M464.1 252.9h.01M464.3 252.1h.01M464.6 252.7h.01M464.9 253.2h.01M465.1 252.6h.01M465.4 251.8h.01M465.7 252.9h.01M465.9 252.0h.01M466.2 251.7h.01M466.5 252.7h.01M466.7 252.5h.01M467.0 253.2h.01M467.3 252.4h.01M467.5 252.2h.01M467.8 254.0h.01M468.0 253.5h.01M468.3 251.5h.01M468.6 252.2h.01M468.8 253.6h.01M469.1 252.5h.01M469.4 252.2h.01M469.6 252.1h.01M469.9 251.9h.01M470.2 252.6h.01M470.4 253.5h.01M470.7 252.0h.01M471.0 251.8h.01M471.2 252.4h.01M471.5 251.7h.01M471.8 252.9h.01M472.0 251.2h.01M472.3 253.1h.01M472.5 251.5h.01M472.8 252.2h.01M473.1 253.1h.01M473.3 252.6h.01M473.6 253.1h.01M473.9 253.6h.01M474.1 252.3h.01M474.4 252.9h.01M474.7 251.8h.01M474.9 252.0h.01M475.2 251.6h.01M475.5 252.5h.01M475.7 251.9h.01M476.0 251.7h.01M476.2 252.0h.01M476.5 252.9h.01M476.8 253.0h.01M477.0 251.7h.01M477.3 252.2h.01M477.6 252.3h.01M477.8 253.0h.01M478.1 251.8h.01M478.4 252.8h.01M478.6 250.9h.01M478.9 252.4h.01M479.2 252.2h.01M479.4 252.5h.01M479.7 252.5h.01M479.9 252.9h.01M480.2 251.9h.01M480.5 251.3h.01M480.7 251.9h.01M481.0 252.5h.01M481.3 251.5h.01M481.5 253.1h.01M481.8 252.6h.01M482.1 253.1h.01M482.3 253.6h.01M482.6 252.3h.01M482.9 253.5h.01M483.1 251.0h.01M483.4 250.4h.01M483.6 252.5h.01M483.9 252.4h.01M484.2 252.3h.01M484.4 252.9h.01M484.7 252.8h.01M485.0 251.8h.01M485.2 253.0h.01M485.5 253.0h.01M485.8 251.7h.01M486.0 252.2h.01M486.3 252.7h.01M486.6 252.2h.01M486.8 252.7h.01M487.1 254.0h.01M487.3 252.7h.01M487.6 252.8h.01M487.9 253.3h.01M488.1 252.3h.01M488.4 252.4h.01M488.7 251.9h.01M488.9 253.2h.01M489.2 252.0h.01M489.5 252.6h.01M489.7 252.4h.01M490.0 252.6h.01M490.3 251.2h.01M490.5 251.5h.01M490.8 251.4h.01M491.0 252.6h.01M491.3 252.1h.01M491.6 252.6h.01M491.8 252.0h.01M492.1 251.5h.01M492.4 250.5h.01M492.6 251.7h.01M492.9 251.5h.01M493.2 251.5h.01M493.4 252.8h.01M493.7 252.8h.01M494.0 253.1h.01M494.2 253.3h.01M494.5 251.4h.01M494.7 251.7h.01M495.0 252.7h.01M495.3 252.9h.01M495.5 252.6h.01M495.8 252.4h.01M496.1 252.6h.01M496.3 252.4h.01M496.6 252.5h.01M496.9 252.6h.01M497.1 252.1h.01M497.4 253.2h.01M497.7 252.5h.01M497.9 253.3h.01M498.2 252.0h.01M498.4 251.5h.01M498.7 252.5h.01M499.0 253.1h.01M499.2 251.6h.01M499.5 252.4h.01M499.8 252.6h.01M500.0 252.9h.01M500.3 252.2h.01M500.6 252.2h.01M500.8 253.7h.01M501.1 251.7h.01M501.4 253.2h.01M501.6 252.6h.01M501.9 252.3h.01M502.1 253.5h.01M502.4 252.2h.01M502.7 253.7h.01M502.9 252.3h.01M503.2 252.8h.01M503.5 251.5h.01M503.7 252.4h.01M504.0 252.2h.01M504.3 253.6h.01M504.5 252.9h.01M504.8 252.8h.01M505.1 251.5h.01M505.3 253.0h.01M505.6 252.3h.01M505.8 251.4h.01M506.1 252.5h.01M506.4 251.7h.01M506.6 252.7h.01M506.9 253.3h.01M507.2 252.8h.01M507.4 251.6h.01M507.7 252.3h.01M508.0 251.3h.01M508.2 251.6h.01M508.5 253.5h.01M508.8 253.6h.01M509.0 251.9h.01M509.3 253.8h.01M509.5 251.8h.01M509.8 252.6h.01M510.1 252.3h.01M510.3 252.5h.01M510.6 252.3h.01M510.9 252.9h.01M511.1 253.2h.01M511.4 252.4h.01M511.7 253.5h.01M511.9 252.6h.01M512.2 252.7h.01M512.5 251.4h.01M512.7 251.4h.01M513.0 252.2h.01M513.2 252.0h.01M513.5 253.5h.01M513.8 252.0h.01M514.0 253.6h.01M514.3 252.3h.01M514.6 251.7h.01M514.8 252.9h.01M515.1 252.9h.01M515.4 253.5h.01M515.6 252.3h.01M515.9 253.2h.01M516.2 251.5h.01M516.4 252.5h.01M516.7 253.2h.01M516.9 252.0h.01M517.2 251.7h.01M517.5 252.8h.01M517.7 251.5h.01M518.0 253.3h.01M518.3 253.0h.01M518.5 252.3h.01M518.8 252.6h.01M519.1 252.4h.01M519.3 252.0h.01M519.6 252.3h.01M519.9 252.4h.01M520.1 251.3h.01M520.4 252.3h.01M520.6 251.2h.01M520.9 252.9h.01M521.2 252.7h.01M521.4 252.6h.01M521.7 253.9h.01M522.0 252.9h.01M522.2 251.7h.01M522.5 253.0h.01M522.8 252.7h.01M523.0 253.2h.01M523.3 253.6h.01M523.6 253.0h.01M523.8 251.7h.01M524.1 252.6h.01M524.3 251.9h.01M524.6 251.7h.01M524.9 252.5h.01M525.1 253.4h.01M525.4 252.7h.01M525.7 253.8h.01M525.9 253.3h.01M526.2 251.9h.01M526.5 252.4h.01M526.7 254.2h.01M527.0 251.8h.01M527.3 253.6h.01M527.5 252.7h.01" stroke="#000" stroke-width="1.44" stroke-linecap="round" fill="none"/>
<path d="M337.7 252.2h.01M338.0 251.6h.01M338.3 253.4h.01M338.5 252.9h.01M338.8 252.9h.01M339.1 253.3h.01M339.3 252.9h.01M339.6 252.5h.01M339.9 252.4h.01M340.1 253.5h.01M340.4 254.3h.01M340.6 253.9h.01M340.9 252.7h.01M341.2 252.3h.01M341.4 252.2h.01M341.7 253.1h.01M342.0 252.6h.01M342.2 253.0h.01M342.5 252.8h.01M342.8 253.2h.01M343.0 252.8h.01M343.3 252.4h.01M343.6 251.5h.01M343.8 252.2h.01M344.1 252.9h.01M344.3 254.0h.01M344.6 252.3h.01M344.9 253.4h.01M345.1 252.1h.01M345.4 253.3h.01M345.7 252.6h.01M345.9 252.4h.01M346.2 252.9h.01M346.5 252.0h.01M346.7 251.9h.01M347.0 252.3h.01M347.3 252.2h.01M347.5 252.3h.01M347.8 252.9h.01M348.0 251.2h.01M348.3 252.5h.01M348.6 252.6h.01M348.8 253.0h.01M349.1 251.9h.01M349.4 253.9h.01M349.6 252.4h.01M349.9 252.9h.01M350.2 253.3h.01M350.4 253.6h.01M350.7 253.3h.01M351.0 251.8h.01M351.2 252.1h.01M351.5 253.3h.01M351.7 253.0h.01M352.0 252.5h.01M352.3 253.7h.01M352.5 252.7h.01M352.8 253.0h.01M353.1 250.6h.01M353.3 252.4h.01M353.6 253.0h.01M353.9 253.1h.01M354.1 254.4h.01M354.4 252.5h.01M354.7 253.3h.01M354.9 253.7h.01M355.2 254.1h.01M355.4 253.0h.01M355.7 252.3h.01M356.0 253.4h.01M356.2 253.2h.01M356.5 251.9h.01M356.8 253.1h.01M357.0 253.0h.01M357.3 252.8h.01M357.6 253.3h.01M357.8 253.6h.01M358.1 253.4h.01M358.4 251.6h.01M358.6 251.4h.01M358.9 253.1h.01M359.1 253.1h.01M359.4 253.1h.01M359.7 252.8h.01M359.9 253.7h.01M360.2 253.1h.01M360.5 253.0h.01M360.7 253.5h.01M361.0 251.0h.01M361.3 253.3h.01M361.5 253.6h.01M361.8 252.6h.01M362.1 252.7h.01M362.3 251.6h.01M362.6 252.9h.01M362.9 253.1h.01M363.1 252.9h.01M363.4 253.4h.01M363.6 253.4h.01M363.9 252.2h.01M364.2 254.1h.01M364.4 253.5h.01M364.7 251.8h.01M365.0 252.2h.01M365.2 252.2h.01M365.5 253.2h.01M365.8 253.9h.01M366.0 252.3h.01M366.3 253.0h.01M366.6 251.2h.01M366.8 253.3h.01M367.1 252.8h.01M367.3 251.2h.01M367.6 251.5h.01M367.9 252.8h.01M368.1 253.1h.01M368.4 253.0h.01M368.7 252.4h.01M368.9 253.1h.01M369.2 253.6h.01M369.5 253.3h.01M369.7 253.1h.01M370.0 252.9h.01M370.3 253.4h.01M370.5 252.2h.01M370.8 252.8h.01M371.0 252.6h.01M371.3 252.4h.01M371.6 253.5h.01M371.8 253.2h.01M372.1 253.6h.01M372.4 253.0h.01M372.6 250.7h.01M372.9 252.9h.01M373.2 253.6h.01M373.4 251.8h.01M373.7 252.2h.01M374.0 252.4h.01M374.2 251.7h.01M374.5 251.1h.01M374.7 252.1h.01M375.0 251.9h.01M375.3 252.5h.01M375.5 252.9h.01M375.8 252.4h.01M376.1 253.7h.01M376.3 253.0h.01M376.6 253.2h.01M376.9 253.8h.01M377.1 252.8h.01M377.4 252.9h.01M377.7 252.9h.01M377.9 252.8h.01M378.2 252.6h.01M378.4 252.8h.01M378.7 251.3h.01M379.0 251.5h.01M379.2 251.8h.01M379.5 252.1h.01M379.8 252.1h.01M380.0 253.0h.01M380.3 253.0h.01M380.6 252.0h.01M380.8 253.1h.01M381.1 253.4h.01M381.4 253.0h.01M381.6 252.4h.01M381.9 253.1h.01M382.1 252.0h.01M382.4 252.7h.01M382.7 253.5h.01M382.9 252.8h.01M383.2 253.4h.01M383.5 254.2h.01M383.7 251.6h.01M384.0 252.4h.01M384.3 252.6h.01M384.5 252.9h.01M384.8 253.1h.01M385.1 251.7h.01M385.3 253.0h.01M385.6 254.1h.01M385.8 252.8h.01M386.1 252.4h.01M386.4 252.5h.01M386.6 252.2h.01M386.9 253.5h.01M387.2 252.3h.01M387.4 252.5h.01M387.7 253.5h.01M388.0 252.8h.01M388.2 252.4h.01M388.5 253.8h.01M388.8 253.0h.01M389.0 251.8h.01M389.3 252.3h.01M389.5 253.1h.01M389.8 253.1h.01M390.1 254.0h.01M390.3 252.8h.01M390.6 252.6h.01M390.9 252.1h.01M391.1 252.8h.01M391.4 252.6h.01M391.7 252.0h.01M391.9 252.1h.01M392.2 253.3h.01M392.5 252.0h.01M392.7 251.5h.01M393.0 252.0h.01M393.2 253.3h.01M393.5 252.1h.01M393.8 253.2h.01M394.0 252.4h.01M394.3 253.1h.01M394.6 252.1h.01M394.8 253.8h.01M395.1 251.3h.01M395.4 252.2h.01M395.6 251.2h.01M395.9 254.1h.01M396.2 251.0h.01M396.4 252.7h.01M396.7 252.9h.01M396.9 250.8h.01M397.2 252.9h.01M397.5 252.5h.01M397.7 252.0h.01M398.0 252.5h.01M398.3 253.2h.01M398.5 252.5h.01M398.8 252.4h.01M399.1 252.5h.01M399.3 250.8h.01M399.6 251.7h.01M399.9 251.5h.01M400.1 252.0h.01M400.4 251.9h.01M400.6 252.0h.01M400.9 252.3h.01M401.2 251.3h.01M401.4 252.5h.01M401.7 251.6h.01M402.0 251.2h.01M402.2 251.2h.01M402.5 251.2h.01M402.8 252.1h.01M403.0 251.3h.01M403.3 250.8h.01M403.6 251.8h.01M403.8 250.4h.01M404.1 250.8h.01M404.3 251.6h.01M404.6 250.9h.01M404.9 251.8h.01M405.1 252.0h.01M405.4 250.8h.01M405.7 250.7h.01M405.9 251.1h.01M406.2 250.9h.01M406.5 250.3h.01M406.7 251.4h.01M407.0 251.6h.01M407.3 250.5h.01M407.5 249.9h.01M407.8 251.1h.01M408.0 249.4h.01M408.3 251.1h.01M408.6 250.4h.01M408.8 249.0h.01M409.1 249.3h.01M409.4 249.4h.01M409.6 249.9h.01M409.9 250.5h.01M410.2 250.7h.01M410.4 248.7h.01M410.7 248.8h.01M411.0 249.8h.01M411.2 250.7h.01M411.5 249.9h.01M411.7 249.4h.01M412.0 249.9h.01M412.3 249.8h.01M412.5 250.1h.01M412.8 250.6h.01M413.1 248.2h.01M413.3 249.0h.01M413.6 247.9h.01M413.9 248.3h.01M414.1 250.5h.01M414.4 249.2h.01M414.7 249.1h.01M414.9 248.1h.01M415.2 250.1h.01M415.5 247.9h.01M415.7 249.0h.01M416.0 248.9h.01M416.2 249.3h.01M416.5 247.6h.01M416.8 248.4h.01M417.0 247.6h.01M417.3 248.2h.01M417.6 249.4h.01M417.8 248.7h.01M418.1 249.0h.01M418.4 248.2h.01M418.6 248.5h.01M418.9 247.6h.01M419.2 248.6h.01M419.4 247.1h.01M419.7 245.1h.01M419.9 246.7h.01M420.2 248.1h.01M420.5 247.8h.01M420.7 247.9h.01M421.0 247.9h.01M421.3 247.3h.01M421.5 248.9h.01M421.8 248.8h.01M422.1 247.8h.01M422.3 248.0h.01M422.6 246.3h.01M422.9 247.4h.01M423.1 247.9h.01M423.4 248.1h.01M423.6 248.0h.01M423.9 246.9h.01M424.2 248.5h.01M424.4 248.9h.01M424.7 248.8h.01M425.0 248.3h.01M425.2 248.1h.01M425.5 248.7h.01M425.8 248.9h.01M426.0 248.8h.01M426.3 250.3h.01M426.6 248.8h.01M426.8 246.9h.01M427.1 248.7h.01M427.3 248.7h.01M427.6 249.5h.01M427.9 248.8h.01M428.1 248.7h.01M428.4 250.0h.01M428.7 249.0h.01M428.9 247.5h.01M429.2 248.9h.01M429.5 249.0h.01M429.7 249.5h.01M430.0 250.1h.01M430.3 248.2h.01M430.5 250.1h.01M430.8 250.0h.01M431.0 250.1h.01M431.3 251.9h.01M431.6 249.0h.01M431.8 250.9h.01M432.1 248.1h.01M432.4 250.2h.01M432.6 250.6h.01M432.9 249.3h.01M433.2 249.8h.01M433.4 250.3h.01M433.7 250.4h.01M434.0 250.9h.01M434.2 251.1h.01M434.5 251.6h.01M434.7 249.0h.01M435.0 251.0h.01M435.3 250.3h.01M435.5 250.6h.01M435.8 250.9h.01M436.1 250.1h.01M436.3 251.1h.01M436.6 249.9h.01M436.9 250.6h.01M437.1 250.6h.01M437.4 251.3h.01M437.7 251.1h.01M437.9 251.7h.01M438.2 250.2h.01M438.4 251.0h.01M438.7 250.1h.01M439.0 251.3h.01M439.2 250.1h.01M439.5 251.8h.01M439.8 252.2h.01M440.0 252.2h.01M440.3 253.1h.01M440.6 252.3h.01M440.8 251.9h.01M441.1 251.4h.01M441.4 251.3h.01M441.6 251.7h.01M441.9 251.7h.01M442.1 251.5h.01M442.4 251.8h.01M442.7 253.0h.01M442.9 251.0h.01M443.2 252.9h.01M443.5 252.1h.01M443.7 252.9h.01M444.0 253.1h.01M444.3 252.3h.01M444.5 252.1h.01M444.8 250.9h.01M445.1 252.1h.01M445.3 252.5h.01M445.6 252.1h.01M445.8 252.2h.01M446.1 251.5h.01M446.4 251.6h.01M446.6 251.5h.01M446.9 250.9h.01M447.2 252.7h.01M447.4 252.1h.01M447.7 251.4h.01M448.0 253.4h.01M448.2 250.9h.01M448.5 252.9h.01M448.8 251.3h.01M449.0 253.8h.01M449.3 252.5h.01M449.5 251.3h.01M449.8 253.0h.01M450.1 251.6h.01M450.3 251.6h.01M450.6 252.7h.01M450.9 253.4h.01M451.1 253.3h.01M451.4 252.0h.01M451.7 252.0h.01M451.9 253.6h.01M452.2 251.4h.01M452.5 252.3h.01M452.7 251.5h.01M453.0 251.9h.01M453.2 253.1h.01M453.5 252.4h.01M453.8 253.1h.01M454.0 252.1h.01M454.3 253.9h.01M454.6 251.7h.01M454.8 252.1h.01M455.1 251.9h.01M455.4 252.0h.01M455.6 253.4h.01M455.9 252.2h.01M456.2 251.9h.01M456.4 253.0h.01M456.7 252.9h.01M456.9 252.1h.01M457.2 252.1h.01M457.5 252.6h.01M457.7 251.3h.01M458.0 252.5h.01M458.3 250.8h.01M458.5 252.9h.01M458.8 253.3h.01M459.1 252.9h.01M459.3 252.5h.01M459.6 252.0h.01M459.9 252.5h.01M460.1 253.6h.01M460.4 253.4h.01M460.6 251.9h.01M460.9 252.4h.01M461.2 252.8h.01M461.4 254.1h.01M461.7 252.3h.01M462.0 252.9h.01M462.2 251.6h.01M462.5 252.6h.01M462.8 252.8h.01M463.0 252.9h.01M463.3 252.7h.01M463.6 253.3h.01M463.8 252.2h.01M464.1 251.7h.01M464.3 252.2h.01M464.6 252.1h.01M464.9 250.8h.01M465.1 253.2h.01M465.4 252.5h.01M465.7 253.7h.01M465.9 253.0h.01M466.2 252.9h.01M466.5 252.3h.01M466.7 252.1h.01M467.0 252.3h.01M467.3 251.4h.01M467.5 253.2h.01M467.8 253.2h.01M468.0 252.1h.01M468.3 252.8h.01M468.6 253.8h.01M468.8 252.1h.01M469.1 252.0h.01M469.4 251.0h.01M469.6 253.2h.01M469.9 253.6h.01M470.2 252.7h.01M470.4 252.8h.01M470.7 252.2h.01M471.0 253.0h.01M471.2 253.2h.01M471.5 252.2h.01M471.8 252.6h.01M472.0 253.4h.01M472.3 252.7h.01M472.5 253.0h.01M472.8 252.3h.01M473.1 253.9h.01M473.3 251.6h.01M473.6 252.3h.01M473.9 251.6h.01M474.1 253.7h.01M474.4 252.0h.01M474.7 253.1h.01M474.9 252.7h.01M475.2 252.0h.01M475.5 251.1h.01M475.7 252.0h.01M476.0 252.3h.01M476.2 253.0h.01M476.5 252.1h.01M476.8 252.9h.01M477.0 251.8h.01M477.3 252.5h.01M477.6 253.7h.01M477.8 253.1h.01M478.1 252.0h.01M478.4 252.4h.01M478.6 253.1h.01M478.9 252.1h.01M479.2 252.6h.01M479.4 252.0h.01M479.7 252.1h.01M479.9 253.2h.01M480.2 253.8h.01M480.5 252.2h.01M480.7 252.9h.01M481.0 252.8h.01M481.3 252.0h.01M481.5 251.6h.01M481.8 251.2h.01M482.1 251.6h.01M482.3 253.0h.01M482.6 253.3h.01M482.9 253.6h.01M483.1 252.2h.01M483.4 252.6h.01M483.6 252.8h.01M483.9 253.2h.01M484.2 253.2h.01M484.4 252.6h.01M484.7 253.4h.01M485.0 253.2h.01M485.2 252.8h.01M485.5 251.4h.01M485.8 253.8h.01M486.0 250.6h.01M486.3 252.8h.01M486.6 254.4h.01M486.8 253.3h.01M487.1 253.1h.01M487.3 253.1h.01M487.6 252.8h.01M487.9 252.9h.01M488.1 252.9h.01M488.4 252.9h.01M488.7 251.6h.01M488.9 253.3h.01M489.2 252.6h.01M489.5 252.4h.01M489.7 253.1h.01M490.0 252.8h.01M490.3 252.8h.01M490.5 254.0h.01M490.8 253.0h.01M491.0 252.1h.01M491.3 252.1h.01M491.6 252.9h.01M491.8 253.9h.01M492.1 253.3h.01M492.4 251.7h.01M492.6 252.8h.01M492.9 252.6h.01M493.2 253.0h.01M493.4 252.7h.01M493.7 251.7h.01M494.0 252.1h.01M494.2 251.6h.01M494.5 252.8h.01M494.7 251.4h.01M495.0 253.2h.01M495.3 251.9h.01M495.5 254.1h.01M495.8 253.0h.01M496.1 253.6h.01M496.3 253.9h.01M496.6 253.0h.01M496.9 253.2h.01M497.1 253.3h.01M497.4 252.0h.01M497.7 252.8h.01M497.9 252.6h.01M498.2 252.8h.01M498.4 252.2h.01M498.7 251.4h.01M499.0 252.2h.01M499.2 252.5h.01M499.5 253.2h.01M499.8 252.5h.01M500.0 252.1h.01M500.3 253.0h.01M500.6 250.2h.01M500.8 254.6h.01M501.1 252.2h.01M501.4 253.5h.01M501.6 252.5h.01M501.9 252.4h.01M502.1 252.9h.01M502.4 253.4h.01M502.7 251.9h.01M502.9 253.0h.01M503.2 253.2h.01M503.5 251.7h.01M503.7 253.5h.01M504.0 254.1h.01M504.3 251.8h.01M504.5 252.8h.01M504.8 252.2h.01M505.1 251.7h.01M505.3 251.7h.01M505.6 252.2h.01M505.8 255.2h.01M506.1 252.5h.01M506.4 252.7h.01M506.6 251.9h.01M506.9 252.1h.01M507.2 252.8h.01M507.4 252.2h.01M507.7 251.8h.01M508.0 252.5h.01M508.2 251.7h.01M508.5 253.4h.01M508.8 252.9h.01M509.0 252.1h.01M509.3 252.7h.01M509.5 252.4h.01M509.8 252.3h.01M510.1 252.2h.01M510.3 253.5h.01M510.6 251.8h.01M510.9 253.0h.01M511.1 253.0h.01M511.4 253.6h.01M511.7 252.1h.01M511.9 252.8h.01M512.2 252.7h.01M512.5 251.7h.01M512.7 252.7h.01M513.0 252.8h.01M513.2 253.6h.01M513.5 251.8h.01M513.8 252.5h.01M514.0 253.2h.01M514.3 253.6h.01M514.6 252.4h.01M514.8 252.0h.01M515.1 252.1h.01M515.4 250.7h.01M515.6 253.4h.01M515.9 252.9h.01M516.2 253.7h.01M516.4 252.7h.01M516.7 252.2h.01M516.9 253.0h.01M517.2 252.9h.01M517.5 253.3h.01M517.7 251.4h.01M518.0 252.7h.01M518.3 253.0h.01M518.5 253.3h.01M518.8 252.5h.01M519.1 252.6h.01M519.3 253.2h.01M519.6 252.4h.01M519.9 252.2h.01M520.1 252.8h.01M520.4 251.4h.01M520.6 253.0h.01M520.9 252.4h.01M521.2 253.7h.01M521.4 252.9h.01M521.7 253.0h.01M522.0 252.3h.01M522.2 252.8h.01M522.5 253.1h.01M522.8 252.7h.01M523.0 252.3h.01M523.3 251.6h.01M523.6 253.3h.01M523.8 251.3h.01M524.1 252.5h.01M524.3 253.0h.01M524.6 252.7h.01M524.9 252.2h.01M525.1 252.5h.01M525.4 253.7h.01M525.7 252.4h.01M525.9 252.9h.01M526.2 253.2h.01M526.5 251.7h.01M526.7 253.4h.01M527.0 254.3h.01M527.3 252.9h.01M527.5 252.7h.01" stroke="#0a14e8" stroke-width="1.44" stroke-linecap="round" fill="none"/>
<path d="M337.7 253.6h.01M338.0 252.9h.01M338.3 253.8h.01M338.5 253.5h.01M338.8 252.7h.01M339.1 252.7h.01M339.3 252.3h.01M339.6 253.3h.01M339.9 253.9h.01M340.1 253.8h.01M340.4 253.5h.01M340.6 252.2h.01M340.9 252.8h.01M341.2 253.1h.01M341.4 253.3h.01M341.7 252.9h.01M342.0 252.7h.01M342.2 253.1h.01M342.5 255.3h.01M342.8 252.7h.01M343.0 253.4h.01M343.3 253.3h.01M343.6 252.6h.01M343.8 254.4h.01M344.1 251.9h.01M344.3 252.6h.01M344.6 252.8h.01M344.9 252.6h.01M345.1 252.5h.01M345.4 252.7h.01M345.7 251.6h.01M345.9 252.6h.01M346.2 254.3h.01M346.5 253.6h.01M346.7 252.6h.01M347.0 253.0h.01M347.3 251.3h.01M347.5 254.4h.01M347.8 254.1h.01M348.0 252.4h.01M348.3 252.9h.01M348.6 254.0h.01M348.8 252.6h.01M349.1 253.0h.01M349.4 254.4h.01M349.6 252.2h.01M349.9 255.1h.01M350.2 252.4h.01M350.4 253.2h.01M350.7 253.0h.01M351.0 252.5h.01M351.2 252.2h.01M351.5 254.0h.01M351.7 252.5h.01M352.0 253.4h.01M352.3 253.6h.01M352.5 253.0h.01M352.8 252.7h.01M353.1 252.3h.01M353.3 254.2h.01M353.6 252.4h.01M353.9 253.3h.01M354.1 253.3h.01M354.4 252.2h.01M354.7 253.7h.01M354.9 253.2h.01M355.2 253.8h.01M355.4 253.5h.01M355.7 253.2h.01M356.0 252.6h.01M356.2 253.3h.01M356.5 254.0h.01M356.8 254.4h.01M357.0 253.0h.01M357.3 251.9h.01M357.6 252.7h.01M357.8 254.6h.01M358.1 252.7h.01M358.4 252.7h.01M358.6 253.4h.01M358.9 253.1h.01M359.1 252.9h.01M359.4 254.1h.01M359.7 253.0h.01M359.9 251.7h.01M360.2 253.4h.01M360.5 253.8h.01M360.7 253.2h.01M361.0 253.3h.01M361.3 252.8h.01M361.5 253.0h.01M361.8 253.2h.01M362.1 252.4h.01M362.3 252.5h.01M362.6 252.0h.01M362.9 253.5h.01M363.1 251.9h.01M363.4 253.3h.01M363.6 252.7h.01M363.9 253.1h.01M364.2 253.9h.01M364.4 252.6h.01M364.7 252.9h.01M365.0 252.7h.01M365.2 254.2h.01M365.5 253.6h.01M365.8 253.9h.01M366.0 253.5h.01M366.3 254.7h.01M366.6 253.8h.01M366.8 253.6h.01M367.1 252.3h.01M367.3 252.4h.01M367.6 253.4h.01M367.9 254.0h.01M368.1 251.0h.01M368.4 252.6h.01M368.7 252.3h.01M368.9 253.7h.01M369.2 253.4h.01M369.5 254.0h.01M369.7 252.3h.01M370.0 251.9h.01M370.3 252.7h.01M370.5 252.1h.01M370.8 253.1h.01M371.0 253.0h.01M371.3 253.4h.01M371.6 253.6h.01M371.8 252.7h.01M372.1 251.2h.01M372.4 254.1h.01M372.6 252.4h.01M372.9 254.2h.01M373.2 253.0h.01M373.4 252.7h.01M373.7 254.4h.01M374.0 254.7h.01M374.2 253.4h.01M374.5 253.9h.01M374.7 253.6h.01M375.0 254.5h.01M375.3 252.5h.01M375.5 253.7h.01M375.8 253.2h.01M376.1 254.7h.01M376.3 252.2h.01M376.6 253.6h.01M376.9 252.6h.01M377.1 253.7h.01M377.4 253.4h.01M377.7 252.7h.01M377.9 252.1h.01M378.2 253.1h.01M378.4 253.2h.01M378.7 252.5h.01M379.0 252.5h.01M379.2 251.8h.01M379.5 253.7h.01M379.8 252.3h.01M380.0 251.6h.01M380.3 252.8h.01M380.6 252.5h.01M380.8 252.7h.01M381.1 253.3h.01M381.4 252.6h.01M381.6 252.3h.01M381.9 252.4h.01M382.1 252.5h.01M382.4 252.2h.01M382.7 252.7h.01M382.9 252.5h.01M383.2 253.5h.01M383.5 254.3h.01M383.7 254.1h.01M384.0 252.2h.01M384.3 252.5h.01M384.5 252.5h.01M384.8 253.6h.01M385.1 252.4h.01M385.3 252.6h.01M385.6 251.4h.01M385.8 251.2h.01M386.1 252.2h.01M386.4 252.5h.01M386.6 251.6h.01M386.9 252.3h.01M387.2 251.9h.01M387.4 250.4h.01M387.7 251.7h.01M388.0 252.3h.01M388.2 251.8h.01M388.5 250.5h.01M388.8 251.6h.01M389.0 251.8h.01M389.3 252.2h.01M389.5 251.4h.01M389.8 251.1h.01M390.1 251.1h.01M390.3 250.3h.01M390.6 251.2h.01M390.9 249.5h.01M391.1 251.7h.01M391.4 251.3h.01M391.7 250.7h.01M391.9 250.2h.01M392.2 250.2h.01M392.5 250.4h.01M392.7 250.2h.01M393.0 251.4h.01M393.2 249.6h.01M393.5 251.1h.01M393.8 247.8h.01M394.0 250.0h.01M394.3 248.7h.01M394.6 249.7h.01M394.8 248.6h.01M395.1 249.4h.01M395.4 248.4h.01M395.6 248.8h.01M395.9 247.4h.01M396.2 246.4h.01M396.4 246.6h.01M396.7 248.0h.01M396.9 247.1h.01M397.2 246.5h.01M397.5 246.4h.01M397.7 247.6h.01M398.0 245.8h.01M398.3 245.4h.01M398.5 246.6h.01M398.8 246.6h.01M399.1 242.6h.01M399.3 245.6h.01M399.6 246.0h.01M399.9 245.1h.01M400.1 244.8h.01M400.4 244.3h.01M400.6 243.9h.01M400.9 243.6h.01M401.2 244.1h.01M401.4 243.9h.01M401.7 243.4h.01M402.0 241.8h.01M402.2 243.9h.01M402.5 243.6h.01M402.8 243.0h.01M403.0 243.2h.01M403.3 244.5h.01M403.6 241.5h.01M403.8 242.6h.01M404.1 241.9h.01M404.3 241.3h.01M404.6 243.5h.01M404.9 244.5h.01M405.1 242.0h.01M405.4 243.0h.01M405.7 240.9h.01M405.9 241.4h.01M406.2 242.7h.01M406.5 242.8h.01M406.7 243.4h.01M407.0 242.8h.01M407.3 242.3h.01M407.5 243.4h.01M407.8 243.0h.01M408.0 242.1h.01M408.3 243.8h.01M408.6 242.8h.01M408.8 242.0h.01M409.1 243.7h.01M409.4 242.6h.01M409.6 244.0h.01M409.9 243.3h.01M410.2 242.5h.01M410.4 243.4h.01M410.7 244.8h.01M411.0 245.1h.01M411.2 243.5h.01M411.5 244.8h.01M411.7 245.6h.01M412.0 243.3h.01M412.3 244.8h.01M412.5 245.2h.01M412.8 246.4h.01M413.1 246.6h.01M413.3 244.8h.01M413.6 246.5h.01M413.9 246.0h.01M414.1 245.0h.01M414.4 246.3h.01M414.7 246.2h.01M414.9 246.8h.01M415.2 246.8h.01M415.5 246.4h.01M415.7 247.7h.01M416.0 247.2h.01M416.2 246.7h.01M416.5 248.0h.01M416.8 246.9h.01M417.0 247.1h.01M417.3 246.6h.01M417.6 247.8h.01M417.8 247.3h.01M418.1 248.4h.01M418.4 248.2h.01M418.6 247.3h.01M418.9 247.9h.01M419.2 249.2h.01M419.4 248.4h.01M419.7 247.5h.01M419.9 248.1h.01M420.2 249.4h.01M420.5 248.5h.01M420.7 249.3h.01M421.0 249.1h.01M421.3 249.7h.01M421.5 246.7h.01M421.8 249.3h.01M422.1 248.2h.01M422.3 248.2h.01M422.6 248.2h.01M422.9 249.6h.01M423.1 247.7h.01M423.4 249.0h.01M423.6 249.9h.01M423.9 248.6h.01M424.2 250.7h.01M424.4 249.8h.01M424.7 249.6h.01M425.0 249.2h.01M425.2 248.4h.01M425.5 250.1h.01M425.8 249.1h.01M426.0 248.5h.01M426.3 249.8h.01M426.6 249.2h.01M426.8 249.0h.01M427.1 250.1h.01M427.3 250.5h.01M427.6 249.8h.01M427.9 249.3h.01M428.1 250.2h.01M428.4 250.6h.01M428.7 248.1h.01M428.9 249.5h.01M429.2 248.6h.01M429.5 249.9h.01M429.7 249.7h.01M430.0 249.9h.01M430.3 250.1h.01M430.5 250.4h.01M430.8 249.9h.01M431.0 250.3h.01M431.3 250.9h.01M431.6 249.8h.01M431.8 250.1h.01M432.1 249.5h.01M432.4 250.0h.01M432.6 251.3h.01M432.9 250.7h.01M433.2 251.0h.01M433.4 250.7h.01M433.7 249.9h.01M434.0 249.8h.01M434.2 251.4h.01M434.5 249.9h.01M434.7 250.4h.01M435.0 250.2h.01M435.3 248.6h.01M435.5 250.9h.01M435.8 249.2h.01M436.1 250.5h.01M436.3 250.1h.01M436.6 250.3h.01M436.9 249.2h.01M437.1 251.1h.01M437.4 250.4h.01M437.7 251.0h.01M437.9 250.6h.01M438.2 250.4h.01M438.4 250.4h.01M438.7 249.8h.01M439.0 251.1h.01M439.2 250.8h.01M439.5 249.7h.01M439.8 252.2h.01M440.0 250.7h.01M440.3 250.6h.01M440.6 251.1h.01M440.8 251.7h.01M441.1 249.4h.01M441.4 251.8h.01M441.6 250.1h.01M441.9 251.8h.01M442.1 250.3h.01M442.4 251.6h.01M442.7 250.4h.01M442.9 251.3h.01M443.2 250.9h.01M443.5 250.7h.01M443.7 253.1h.01M444.0 251.5h.01M444.3 251.4h.01M444.5 252.4h.01M444.8 252.5h.01M445.1 250.6h.01M445.3 251.0h.01M445.6 251.7h.01M445.8 250.8h.01M446.1 252.5h.01M446.4 250.6h.01M446.6 250.9h.01M446.9 250.7h.01M447.2 251.7h.01M447.4 250.8h.01M447.7 253.1h.01M448.0 251.2h.01M448.2 251.8h.01M448.5 252.3h.01M448.8 251.3h.01M449.0 251.1h.01M449.3 252.2h.01M449.5 250.6h.01M449.8 252.5h.01M450.1 252.3h.01M450.3 251.2h.01M450.6 251.5h.01M450.9 249.6h.01M451.1 251.8h.01M451.4 251.2h.01M451.7 250.9h.01M451.9 251.9h.01M452.2 251.4h.01M452.5 251.9h.01M452.7 251.6h.01M453.0 251.6h.01M453.2 252.2h.01M453.5 253.0h.01M453.8 250.9h.01M454.0 251.4h.01M454.3 250.7h.01M454.6 253.1h.01M454.8 252.5h.01M455.1 251.6h.01M455.4 251.3h.01M455.6 253.6h.01M455.9 252.3h.01M456.2 253.0h.01M456.4 251.4h.01M456.7 251.3h.01M456.9 251.8h.01M457.2 251.9h.01M457.5 251.3h.01M457.7 252.0h.01M458.0 252.0h.01M458.3 252.9h.01M458.5 252.5h.01M458.8 251.6h.01M459.1 252.2h.01M459.3 252.4h.01M459.6 253.5h.01M459.9 251.0h.01M460.1 251.7h.01M460.4 252.5h.01M460.6 253.0h.01M460.9 251.4h.01M461.2 253.1h.01M461.4 251.8h.01M461.7 251.6h.01M462.0 252.6h.01M462.2 251.3h.01M462.5 251.5h.01M462.8 251.5h.01M463.0 251.1h.01M463.3 252.5h.01M463.6 252.1h.01M463.8 252.2h.01M464.1 251.7h.01M464.3 251.3h.01M464.6 252.9h.01M464.9 252.4h.01M465.1 251.3h.01M465.4 253.4h.01M465.7 253.7h.01M465.9 252.7h.01M466.2 252.2h.01M466.5 252.2h.01M466.7 252.4h.01M467.0 251.9h.01M467.3 252.1h.01M467.5 253.7h.01M467.8 251.4h.01M468.0 251.3h.01M468.3 252.4h.01M468.6 252.1h.01M468.8 252.8h.01M469.1 253.0h.01M469.4 252.0h.01M469.6 253.9h.01M469.9 253.3h.01M470.2 253.0h.01M470.4 252.7h.01M470.7 252.5h.01M471.0 252.8h.01M471.2 252.9h.01M471.5 253.2h.01M471.8 251.1h.01M472.0 253.0h.01M472.3 251.8h.01M472.5 252.1h.01M472.8 251.2h.01M473.1 252.2h.01M473.3 253.8h.01M473.6 252.2h.01M473.9 252.1h.01M474.1 252.9h.01M474.4 252.0h.01M474.7 252.4h.01M474.9 252.1h.01M475.2 252.1h.01M475.5 252.4h.01M475.7 252.3h.01M476.0 251.5h.01M476.2 253.6h.01M476.5 252.5h.01M476.8 253.8h.01M477.0 251.2h.01M477.3 251.9h.01M477.6 252.5h.01M477.8 253.0h.01M478.1 253.8h.01M478.4 252.2h.01M478.6 253.0h.01M478.9 251.7h.01M479.2 253.8h.01M479.4 252.3h.01M479.7 253.6h.01M479.9 251.9h.01M480.2 253.9h.01M480.5 251.5h.01M480.7 253.5h.01M481.0 253.1h.01M481.3 252.8h.01M481.5 255.6h.01M481.8 253.8h.01M482.1 254.0h.01M482.3 252.9h.01M482.6 252.1h.01M482.9 252.0h.01M483.1 254.2h.01M483.4 253.5h.01M483.6 251.6h.01M483.9 252.1h.01M484.2 252.7h.01M484.4 252.9h.01M484.7 252.6h.01M485.0 253.8h.01M485.2 253.7h.01M485.5 253.1h.01M485.8 253.6h.01M486.0 253.8h.01M486.3 252.6h.01M486.6 253.7h.01M486.8 252.1h.01M487.1 252.5h.01M487.3 254.2h.01M487.6 254.8h.01M487.9 252.3h.01M488.1 254.8h.01M488.4 253.2h.01M488.7 253.3h.01M488.9 252.7h.01M489.2 252.6h.01M489.5 252.7h.01M489.7 253.1h.01M490.0 252.9h.01M490.3 252.1h.01M490.5 253.0h.01M490.8 253.1h.01M491.0 253.5h.01M491.3 253.1h.01M491.6 252.7h.01M491.8 252.2h.01M492.1 253.5h.01M492.4 251.8h.01M492.6 252.8h.01M492.9 253.3h.01M493.2 252.8h.01M493.4 252.4h.01M493.7 252.8h.01M494.0 251.4h.01M494.2 252.6h.01M494.5 251.3h.01M494.7 254.1h.01M495.0 252.5h.01M495.3 251.8h.01M495.5 252.3h.01M495.8 253.6h.01M496.1 253.4h.01M496.3 252.4h.01M496.6 252.0h.01M496.9 252.9h.01M497.1 252.6h.01M497.4 252.1h.01M497.7 252.7h.01M497.9 253.6h.01M498.2 252.8h.01M498.4 253.2h.01M498.7 252.8h.01M499.0 253.1h.01M499.2 252.8h.01M499.5 253.5h.01M499.8 254.1h.01M500.0 253.2h.01M500.3 251.9h.01M500.6 251.5h.01M500.8 253.7h.01M501.1 253.5h.01M501.4 252.1h.01M501.6 252.1h.01M501.9 252.8h.01M502.1 253.2h.01M502.4 253.6h.01M502.7 252.0h.01M502.9 253.0h.01M503.2 252.3h.01M503.5 252.5h.01M503.7 252.3h.01M504.0 252.6h.01M504.3 251.8h.01M504.5 252.9h.01M504.8 252.2h.01M505.1 253.5h.01M505.3 252.3h.01M505.6 251.9h.01M505.8 252.6h.01M506.1 252.0h.01M506.4 253.3h.01M506.6 251.7h.01M506.9 251.6h.01M507.2 252.2h.01M507.4 253.0h.01M507.7 252.9h.01M508.0 254.1h.01M508.2 252.8h.01M508.5 252.4h.01M508.8 254.3h.01M509.0 253.2h.01M509.3 253.6h.01M509.5 254.2h.01M509.8 251.5h.01M510.1 252.2h.01M510.3 253.5h.01M510.6 253.2h.01M510.9 251.9h.01M511.1 252.9h.01M511.4 254.6h.01M511.7 253.4h.01M511.9 251.4h.01M512.2 252.7h.01M512.5 252.6h.01M512.7 253.5h.01M513.0 252.6h.01M513.2 254.0h.01M513.5 253.5h.01M513.8 251.4h.01M514.0 253.8h.01M514.3 252.5h.01M514.6 254.0h.01M514.8 252.4h.01M515.1 251.8h.01M515.4 251.2h.01M515.6 253.5h.01M515.9 252.7h.01M516.2 253.6h.01M516.4 253.0h.01M516.7 253.1h.01M516.9 253.4h.01M517.2 252.9h.01M517.5 254.5h.01M517.7 254.7h.01M518.0 252.8h.01M518.3 252.7h.01M518.5 253.9h.01M518.8 252.5h.01M519.1 253.8h.01M519.3 254.0h.01M519.6 252.6h.01M519.9 252.8h.01M520.1 252.9h.01M520.4 252.4h.01M520.6 253.8h.01M520.9 252.5h.01M521.2 254.1h.01M521.4 252.8h.01M521.7 251.8h.01M522.0 254.1h.01M522.2 253.7h.01M522.5 253.4h.01M522.8 253.0h.01M523.0 253.0h.01M523.3 254.8h.01M523.6 253.3h.01M523.8 252.5h.01M524.1 254.0h.01M524.3 253.4h.01M524.6 252.8h.01M524.9 255.3h.01M525.1 253.4h.01M525.4 254.2h.01M525.7 252.8h.01M525.9 253.7h.01M526.2 251.8h.01M526.5 252.8h.01M526.7 252.8h.01M527.0 253.3h.01M527.3 253.9h.01M527.5 251.6h.01" stroke="#0c8a12" stroke-width="1.44" stroke-linecap="round" fill="none"/>
<path d="M337.7 253.3h.01M337.9 253.8h.01M338.2 254.2h.01M338.4 254.4h.01M338.4 251.4h.01M338.7 255.6h.01M339.2 253.2h.01M339.6 253.0h.01M339.9 253.4h.01M340.7 254.3h.01M340.4 253.9h.01M340.8 252.5h.01M341.2 252.8h.01M341.4 253.5h.01M341.7 254.5h.01M341.9 253.0h.01M341.9 253.8h.01M342.1 253.0h.01M342.4 253.1h.01M342.9 253.0h.01M343.0 252.8h.01M342.8 254.0h.01M343.8 252.9h.01M344.0 253.6h.01M343.7 254.3h.01M343.7 253.3h.01M344.8 252.5h.01M345.3 252.9h.01M345.5 253.2h.01M345.6 253.3h.01M346.4 253.7h.01M346.2 253.9h.01M346.2 253.2h.01M346.6 254.2h.01M347.0 253.8h.01M346.9 254.0h.01M347.0 253.4h.01M346.9 252.8h.01M347.7 252.3h.01M347.7 254.1h.01M348.5 254.3h.01M348.9 253.9h.01M349.1 253.6h.01M349.5 252.2h.01M349.3 254.2h.01M349.9 253.5h.01M349.8 254.1h.01M350.1 252.5h.01M350.8 253.1h.01M350.8 252.1h.01M350.2 253.8h.01M351.7 251.6h.01M351.3 253.9h.01M351.8 253.5h.01M352.0 252.6h.01M352.6 254.2h.01M352.7 251.6h.01M353.3 253.4h.01M353.2 255.0h.01M353.7 253.3h.01M353.9 253.9h.01M353.7 253.5h.01M353.6 252.2h.01M354.5 254.6h.01M354.4 254.4h.01M355.0 254.9h.01M355.1 255.8h.01M355.6 253.2h.01M355.8 252.0h.01M356.1 253.2h.01M356.4 253.2h.01M355.7 251.3h.01M356.6 252.4h.01M357.3 252.5h.01M357.4 253.3h.01M358.0 253.5h.01M357.9 252.6h.01M358.2 253.9h.01M358.3 254.0h.01M358.3 253.2h.01M359.0 253.2h.01M359.5 253.9h.01M359.2 252.7h.01M359.7 252.8h.01M359.8 252.5h.01M360.4 253.5h.01M360.6 254.1h.01M360.0 253.4h.01M360.9 254.0h.01M361.4 253.8h.01M361.9 251.9h.01M361.5 254.4h.01M362.5 252.8h.01M362.7 254.1h.01M362.2 252.9h.01M363.0 253.3h.01M363.7 253.9h.01M363.7 252.9h.01M363.3 252.9h.01M364.3 254.9h.01M363.9 253.3h.01M363.7 254.4h.01M364.3 254.1h.01M365.4 252.3h.01M365.0 254.0h.01M365.9 253.0h.01M365.4 253.7h.01M366.4 252.5h.01M366.1 254.3h.01M366.6 252.7h.01M366.8 253.8h.01M367.4 253.6h.01M367.3 252.1h.01M367.8 253.8h.01M367.9 253.4h.01M368.2 254.2h.01M368.3 252.4h.01M368.9 253.1h.01M368.8 253.7h.01M369.1 253.3h.01M369.1 254.4h.01M369.3 254.5h.01M369.6 252.8h.01M370.1 254.1h.01M370.6 253.0h.01M370.4 254.2h.01M370.9 253.7h.01M371.0 253.0h.01M371.4 253.6h.01M371.7 253.6h.01M371.1 254.0h.01M371.7 253.2h.01M370.9 252.6h.01M372.0 252.4h.01M372.2 252.9h.01M372.3 251.0h.01M372.5 251.3h.01M372.5 248.5h.01M372.3 250.0h.01M372.8 246.8h.01M373.0 247.5h.01M373.3 246.8h.01M373.4 244.6h.01M372.9 243.6h.01M374.0 241.5h.01M374.0 240.3h.01M373.5 240.7h.01M373.8 239.1h.01M373.8 238.2h.01M374.6 235.0h.01M374.7 235.8h.01M374.9 231.2h.01M375.1 231.1h.01M374.9 230.5h.01M374.8 228.5h.01M375.0 228.4h.01M375.6 226.2h.01M375.8 225.3h.01M376.0 221.5h.01M375.9 221.8h.01M376.0 220.8h.01M376.4 218.8h.01M376.4 216.5h.01M376.4 214.2h.01M376.9 214.8h.01M377.1 211.0h.01M376.8 214.2h.01M377.3 205.8h.01M377.4 207.0h.01M377.2 204.2h.01M377.2 201.9h.01M377.4 199.0h.01M377.6 197.6h.01M378.1 198.9h.01M378.0 194.7h.01M378.4 193.1h.01M379.0 186.9h.01M377.8 187.6h.01M378.8 188.8h.01M378.7 185.5h.01M378.9 184.3h.01M379.7 179.5h.01M379.9 187.6h.01M379.3 189.0h.01M379.5 191.4h.01M379.8 194.3h.01M379.5 196.5h.01M379.8 197.3h.01M380.4 198.0h.01M380.4 199.9h.01M380.5 197.8h.01M380.7 200.7h.01M381.4 199.2h.01M381.2 200.8h.01M380.9 204.9h.01M381.1 203.9h.01M381.4 201.6h.01M381.4 202.9h.01M381.6 207.4h.01M381.9 201.3h.01M382.5 204.7h.01M382.3 206.6h.01M382.0 204.3h.01M382.3 203.0h.01M382.5 203.5h.01M383.2 204.3h.01M383.2 204.7h.01M382.7 202.6h.01M383.8 203.7h.01M384.4 204.1h.01M384.6 204.2h.01M384.7 205.3h.01M384.7 206.7h.01M385.2 204.9h.01M385.5 207.0h.01M385.5 203.9h.01M385.8 206.3h.01M386.3 209.2h.01M386.2 211.3h.01M386.2 212.6h.01M386.5 213.3h.01M387.4 216.8h.01M387.8 215.2h.01M387.3 217.0h.01M388.4 215.4h.01M388.6 217.3h.01M387.6 218.2h.01M389.3 219.9h.01M389.3 220.0h.01M388.7 216.4h.01M389.2 220.1h.01M389.4 220.1h.01M390.2 224.2h.01M389.8 221.0h.01M390.5 222.9h.01M390.1 228.0h.01M391.3 224.5h.01M390.8 224.7h.01M391.2 225.3h.01M391.9 225.0h.01M392.3 224.4h.01M392.4 222.1h.01M392.9 225.6h.01M393.7 226.4h.01M392.5 228.7h.01M393.2 225.3h.01M393.7 229.0h.01M394.6 226.9h.01M394.3 228.0h.01M394.3 227.2h.01M394.7 228.0h.01M395.4 225.6h.01M395.4 229.0h.01M396.0 228.1h.01M395.7 229.0h.01M395.9 228.2h.01M396.2 228.3h.01M396.3 228.5h.01M396.6 227.8h.01M396.7 229.6h.01M397.5 227.8h.01M397.3 228.2h.01M397.9 226.7h.01M398.2 226.2h.01M398.8 225.9h.01M398.5 227.9h.01M398.9 229.1h.01M399.5 230.9h.01M399.8 229.3h.01M399.7 229.9h.01M400.4 230.8h.01M400.1 230.3h.01M400.8 231.0h.01M400.1 233.5h.01M401.2 234.1h.01M401.7 234.3h.01M401.8 234.2h.01M401.7 232.1h.01M401.6 235.6h.01M402.7 235.7h.01M402.5 236.9h.01M403.0 236.6h.01M403.1 235.6h.01M403.2 237.9h.01M404.2 239.8h.01M404.0 238.7h.01M404.3 238.8h.01M404.7 240.0h.01M404.5 241.4h.01M405.0 238.7h.01M406.0 239.2h.01M405.6 239.8h.01M406.2 238.1h.01M406.2 239.7h.01M406.9 244.0h.01M406.9 241.2h.01M407.3 244.6h.01M407.3 242.3h.01M407.9 241.6h.01M407.6 243.2h.01M408.0 244.7h.01M408.2 242.8h.01M408.1 244.0h.01M408.9 245.5h.01M409.2 243.4h.01M409.5 244.4h.01M410.0 245.1h.01M409.8 245.2h.01M410.4 245.9h.01M411.2 247.5h.01M410.3 246.5h.01M411.2 247.5h.01M411.3 247.2h.01M411.0 245.8h.01M411.9 246.8h.01M412.0 248.2h.01M411.7 246.1h.01M412.6 247.5h.01M412.6 249.3h.01M412.9 248.4h.01M413.4 247.1h.01M414.1 249.3h.01M413.6 250.2h.01M413.8 248.7h.01M414.0 249.4h.01M414.4 250.0h.01M414.7 250.2h.01M415.3 250.5h.01M415.5 250.5h.01M415.4 248.8h.01M416.0 249.4h.01M416.3 250.7h.01M416.4 250.8h.01M416.9 250.1h.01M417.1 251.9h.01M417.5 252.0h.01M417.4 251.1h.01M418.3 251.7h.01M418.1 252.2h.01M418.0 251.4h.01M418.7 251.6h.01M419.3 252.1h.01M419.3 251.1h.01M419.3 251.9h.01M419.8 252.4h.01M419.9 252.6h.01M420.8 252.2h.01M420.2 253.3h.01M421.1 252.6h.01M421.2 250.8h.01M421.3 252.5h.01M422.1 252.9h.01M422.3 252.7h.01M421.9 252.5h.01M421.9 252.5h.01M422.9 251.7h.01M422.8 253.9h.01M423.1 253.4h.01M423.4 253.4h.01M423.0 254.2h.01M424.0 252.6h.01M424.0 253.0h.01M424.6 252.2h.01M424.3 252.1h.01M425.2 252.4h.01M425.2 252.2h.01M425.4 252.8h.01M425.5 254.1h.01M426.0 252.5h.01M426.9 252.5h.01M426.1 251.9h.01M427.2 253.5h.01M427.1 254.2h.01M427.3 253.9h.01M428.1 253.6h.01M428.1 253.5h.01M428.1 254.5h.01M428.5 253.6h.01M428.1 252.7h.01M428.7 253.4h.01M429.3 253.6h.01M429.4 253.8h.01M429.8 254.2h.01M429.4 254.4h.01M430.8 254.5h.01M430.3 252.9h.01M430.7 254.7h.01M431.1 252.0h.01M430.3 253.8h.01M432.2 252.4h.01M431.6 253.7h.01M432.1 254.4h.01M431.8 253.8h.01M432.4 254.4h.01M432.9 254.6h.01M432.7 252.9h.01M433.1 253.4h.01M433.4 252.8h.01M433.7 252.5h.01M434.4 253.4h.01M434.0 254.0h.01M434.2 254.1h.01M434.8 255.2h.01M435.4 253.3h.01M435.7 254.0h.01M435.9 251.4h.01M435.9 253.5h.01M436.6 253.0h.01M436.6 253.7h.01M436.4 253.4h.01M437.2 253.7h.01M437.3 253.8h.01M437.6 254.1h.01M437.8 252.7h.01M438.0 253.9h.01M438.9 253.1h.01M439.1 253.4h.01M439.4 252.2h.01M439.1 252.0h.01M439.0 253.5h.01M439.8 253.2h.01M440.0 253.2h.01M440.7 253.4h.01M441.1 255.3h.01M440.5 254.3h.01M440.9 255.0h.01M441.4 255.3h.01M441.5 253.6h.01M441.6 254.0h.01M442.2 253.9h.01M442.4 254.5h.01M442.6 253.3h.01M442.6 253.4h.01M443.0 254.7h.01M443.7 253.3h.01M443.8 253.1h.01M444.2 252.6h.01M444.5 253.7h.01M444.5 253.8h.01M444.4 254.0h.01M445.0 254.5h.01M445.4 254.9h.01M445.7 253.0h.01M446.0 252.9h.01M445.8 253.9h.01M446.1 253.6h.01M446.9 253.4h.01M446.6 252.8h.01M447.9 253.5h.01M447.4 253.9h.01M448.0 253.4h.01M447.6 253.6h.01M447.9 252.7h.01M447.9 253.9h.01M448.6 255.0h.01M448.8 253.6h.01M449.6 252.5h.01M449.7 253.2h.01M449.4 254.2h.01M450.0 253.0h.01M450.3 255.1h.01M450.8 254.0h.01M450.6 253.8h.01M451.2 253.7h.01M451.5 254.7h.01M451.1 254.0h.01M452.0 253.7h.01M451.9 255.1h.01M452.4 253.8h.01M452.5 253.6h.01M452.8 253.8h.01M452.7 252.6h.01M453.3 253.6h.01M453.5 254.4h.01M454.0 254.5h.01M454.3 252.1h.01M454.6 255.0h.01M454.8 253.8h.01M454.7 254.1h.01M455.0 252.5h.01M455.6 254.5h.01M455.7 253.7h.01M455.9 255.2h.01M456.5 253.6h.01M456.5 254.0h.01M457.2 253.4h.01M456.9 254.1h.01M457.4 252.7h.01M457.6 253.6h.01M457.8 254.0h.01M458.3 255.2h.01M458.6 254.5h.01M458.6 253.9h.01M458.8 253.3h.01M459.5 255.6h.01M459.7 254.2h.01M459.9 254.5h.01M460.0 253.8h.01M460.5 255.1h.01M460.6 252.6h.01M461.1 254.0h.01M460.9 253.2h.01M460.4 253.3h.01M461.6 254.3h.01M461.9 253.1h.01M462.0 253.9h.01M462.6 254.1h.01M462.9 252.4h.01M463.0 254.1h.01M462.9 254.0h.01M463.3 252.9h.01M463.4 254.3h.01M464.2 254.7h.01M464.5 254.3h.01M464.2 253.7h.01M464.7 255.5h.01M464.8 252.9h.01M465.0 254.7h.01M465.4 254.5h.01M465.7 254.7h.01M465.7 253.5h.01M466.6 253.7h.01M466.4 255.0h.01M466.5 253.2h.01M467.5 255.2h.01M467.5 252.9h.01M467.3 253.2h.01M468.0 255.0h.01M468.5 254.7h.01M468.4 254.5h.01M469.0 254.6h.01M469.0 253.6h.01M469.6 255.1h.01M469.5 254.2h.01M470.2 255.1h.01M470.6 253.9h.01M470.7 253.0h.01M470.0 253.6h.01M471.0 252.7h.01M471.1 254.0h.01M471.4 254.1h.01M472.0 253.7h.01M471.8 254.3h.01M472.5 253.6h.01M472.9 254.5h.01M472.6 253.9h.01M472.8 254.4h.01M473.3 255.5h.01M472.8 252.9h.01M473.6 254.3h.01M474.0 253.3h.01M474.5 253.6h.01M474.7 254.6h.01M475.1 252.7h.01M474.9 254.3h.01M475.3 253.3h.01M475.8 254.0h.01M476.0 254.6h.01M476.1 254.7h.01M476.5 254.1h.01M477.0 252.6h.01M476.5 253.0h.01M477.5 254.0h.01M477.3 253.1h.01M477.3 254.1h.01M478.0 254.2h.01M478.6 254.1h.01M479.0 253.6h.01M479.3 254.2h.01M478.9 254.0h.01M480.0 252.9h.01M479.4 253.6h.01M479.9 254.0h.01M480.7 253.7h.01M480.6 253.5h.01M480.3 253.8h.01M480.9 254.4h.01M481.6 253.5h.01M481.8 253.1h.01M482.2 252.7h.01M481.8 254.1h.01M482.1 253.0h.01M482.7 253.1h.01M483.1 252.8h.01M483.3 254.5h.01M483.5 254.7h.01M483.5 253.8h.01M484.2 253.1h.01M484.0 253.7h.01M484.3 253.7h.01M483.9 253.9h.01M485.0 254.8h.01M485.4 253.4h.01M485.3 253.1h.01M485.6 253.4h.01M486.3 254.2h.01M486.4 253.6h.01M486.4 254.3h.01M486.5 254.3h.01M487.3 253.4h.01M487.3 253.2h.01M488.0 254.2h.01M488.1 253.7h.01M487.8 253.8h.01M488.7 255.2h.01M488.8 253.9h.01M489.0 254.7h.01M488.8 254.6h.01M489.2 254.1h.01M489.9 254.1h.01M490.0 254.9h.01M490.1 253.6h.01M490.2 254.1h.01M490.9 253.8h.01M490.4 254.3h.01M491.4 253.2h.01M491.4 253.9h.01M491.6 254.1h.01M492.1 253.0h.01M491.5 253.2h.01M493.0 254.8h.01M492.7 253.1h.01M493.5 254.4h.01M493.7 255.3h.01M493.8 254.0h.01M493.7 254.0h.01M493.9 254.7h.01M494.4 255.1h.01M494.6 254.2h.01M494.7 254.6h.01M495.0 254.9h.01M495.6 252.5h.01M495.3 254.1h.01M496.0 255.5h.01M496.0 253.7h.01M496.5 254.1h.01M497.3 253.8h.01M496.6 255.1h.01M497.4 252.7h.01M497.4 253.7h.01M497.9 254.5h.01M498.0 253.5h.01M498.1 253.8h.01M498.7 254.3h.01M498.3 253.2h.01M499.3 255.2h.01M499.7 252.1h.01M499.1 254.3h.01M500.0 254.0h.01M500.8 253.1h.01M500.9 254.0h.01M500.6 252.3h.01M500.7 255.1h.01M501.3 254.5h.01M501.7 253.8h.01M502.1 254.2h.01M502.0 253.7h.01M502.1 254.1h.01M502.6 254.8h.01M502.8 253.2h.01M502.6 254.5h.01M504.1 253.9h.01M503.0 254.6h.01M503.7 254.4h.01M504.3 254.5h.01M504.5 253.7h.01M505.0 253.7h.01M505.3 253.4h.01M505.3 253.3h.01M505.8 253.4h.01M505.5 254.6h.01M506.1 253.8h.01M506.0 253.9h.01M506.7 254.4h.01M506.6 254.3h.01M506.5 253.9h.01M507.1 254.5h.01M507.5 255.7h.01M507.9 254.1h.01M507.5 252.8h.01M508.7 253.4h.01M509.0 253.3h.01M509.1 253.3h.01M509.3 254.4h.01M509.7 253.3h.01M509.4 254.3h.01M510.1 254.4h.01M509.9 254.5h.01M510.5 253.0h.01M510.7 254.6h.01M511.1 254.0h.01M511.4 253.6h.01M512.0 253.9h.01M511.4 252.8h.01M512.0 253.6h.01M512.6 251.9h.01M512.9 254.8h.01M512.8 254.9h.01M513.0 253.8h.01M513.3 255.2h.01M514.1 254.8h.01M513.6 254.0h.01M513.9 254.0h.01M514.7 255.0h.01M514.7 254.1h.01M515.0 253.1h.01M515.8 254.2h.01M516.0 254.6h.01M515.4 253.4h.01M516.3 254.6h.01M516.6 253.9h.01M516.9 253.1h.01M516.8 253.0h.01M517.4 254.2h.01M517.6 253.7h.01M516.9 253.3h.01M518.0 253.9h.01M518.5 254.8h.01M518.3 254.5h.01M518.2 254.4h.01M518.4 254.3h.01M518.6 254.3h.01M520.0 253.8h.01M520.0 254.8h.01M519.2 252.4h.01M520.3 253.0h.01M520.5 256.1h.01M521.4 254.4h.01M520.9 254.3h.01M521.5 253.8h.01M522.1 252.4h.01M522.4 253.6h.01M522.6 253.8h.01M522.3 253.4h.01M522.8 254.2h.01M523.9 255.2h.01M523.2 252.9h.01M523.5 254.4h.01M523.2 253.9h.01M524.4 253.5h.01M523.8 254.5h.01M525.1 253.8h.01M524.9 254.9h.01M525.3 253.4h.01M525.2 253.9h.01M525.6 254.9h.01M525.6 254.3h.01M526.1 252.2h.01M526.6 254.1h.01M526.3 252.5h.01M527.2 255.3h.01M527.2 253.8h.01M527.7 253.4h.01" stroke="#d4111f" stroke-width="1.56" stroke-linecap="round" fill="none"/>
<rect x="337.00" y="175.00" width="190.80" height="86.00" fill="none" stroke="#000" stroke-width="1" />
<line x1="346.00" y1="258.80" x2="346.00" y2="261.00" stroke="#000" stroke-width="0.7" />
<line x1="346.00" y1="175.00" x2="346.00" y2="177.20" stroke="#000" stroke-width="0.7" />
<text x="346.00" y="267.90" font-family='"Liberation Sans", "DejaVu Sans", sans-serif' font-size="5.40" fill="#111" font-weight="bold" text-anchor="middle" stroke="#111" stroke-width="0.15">50</text>
<line x1="362.52" y1="258.80" x2="362.52" y2="261.00" stroke="#000" stroke-width="0.7" />
<line x1="362.52" y1="175.00" x2="362.52" y2="177.20" stroke="#000" stroke-width="0.7" />
<text x="362.52" y="267.90" font-family='"Liberation Sans", "DejaVu Sans", sans-serif' font-size="5.40" fill="#111" font-weight="bold" text-anchor="middle" stroke="#111" stroke-width="0.15">100</text>
<line x1="379.04" y1="258.80" x2="379.04" y2="261.00" stroke="#000" stroke-width="0.7" />
<line x1="379.04" y1="175.00" x2="379.04" y2="177.20" stroke="#000" stroke-width="0.7" />
<text x="379.04" y="267.90" font-family='"Liberation Sans", "DejaVu Sans", sans-serif' font-size="5.40" fill="#111" font-weight="bold" text-anchor="middle" stroke="#111" stroke-width="0.15">150</text>
<line x1="395.56" y1="258.80" x2="395.56" y2="261.00" stroke="#000" stroke-width="0.7" />
<line x1="395.56" y1="175.00" x2="395.56" y2="177.20" stroke="#000" stroke-width="0.7" />
<text x="395.56" y="267.90" font-family='"Liberation Sans", "DejaVu Sans", sans-serif' font-size="5.40" fill="#111" font-weight="bold" text-anchor="middle" stroke="#111" stroke-width="0.15">200</text>
<line x1="412.08" y1="258.80" x2="412.08" y2="261.00" stroke="#000" stroke-width="0.7" />
<line x1="412.08" y1="175.00" x2="412.08" y2="177.20" stroke="#000" stroke-width="0.7" />
<text x="412.08" y="267.90" font-family='"Liberation Sans", "DejaVu Sans", sans-serif' font-size="5.40" fill="#111" font-weight="bold" text-anchor="middle" stroke="#111" stroke-width="0.15">250</text>
<line x1="428.60" y1="258.80" x2="428.60" y2="261.00" stroke="#000" stroke-width="0.7" />
<line x1="428.60" y1="175.00" x2="428.60" y2="177.20" stroke="#000" stroke-width="0.7" />
<text x="428.60" y="267.90" font-family='"Liberation Sans", "DejaVu Sans", sans-serif' font-size="5.40" fill="#111" font-weight="bold" text-anchor="middle" stroke="#111" stroke-width="0.15">300</text>
<line x1="445.12" y1="258.80" x2="445.12" y2="261.00" stroke="#000" stroke-width="0.7" />
<line x1="445.12" y1="175.00" x2="445.12" y2="177.20" stroke="#000" stroke-width="0.7" />
<text x="445.12" y="267.90" font-family='"Liberation Sans", "DejaVu Sans", sans-serif' font-size="5.40" fill="#111" font-weight="bold" text-anchor="middle" stroke="#111" stroke-width="0.15">350</text>
<line x1="461.64" y1="258.80" x2="461.64" y2="261.00" stroke="#000" stroke-width="0.7" />
<line x1="461.64" y1="175.00" x2="461.64" y2="177.20" stroke="#000" stroke-width="0.7" />
<text x="461.64" y="267.90" font-family='"Liberation Sans", "DejaVu Sans", sans-serif' font-size="5.40" fill="#111" font-weight="bold" text-anchor="middle" stroke="#111" stroke-width="0.15">400</text>
<line x1="478.16" y1="258.80" x2="478.16" y2="261.00" stroke="#000" stroke-width="0.7" />
<line x1="478.16" y1="175.00" x2="478.16" y2="177.20" stroke="#000" stroke-width="0.7" />
<text x="478.16" y="267.90" font-family='"Liberation Sans", "DejaVu Sans", sans-serif' font-size="5.40" fill="#111" font-weight="bold" text-anchor="middle" stroke="#111" stroke-width="0.15">450</text>
<line x1="494.68" y1="258.80" x2="494.68" y2="261.00" stroke="#000" stroke-width="0.7" />
<line x1="494.68" y1="175.00" x2="494.68" y2="177.20" stroke="#000" stroke-width="0.7" />
<text x="494.68" y="267.90" font-family='"Liberation Sans", "DejaVu Sans", sans-serif' font-size="5.40" fill="#111" font-weight="bold" text-anchor="middle" stroke="#111" stroke-width="0.15">500</text>
<line x1="511.20" y1="258.80" x2="511.20" y2="261.00" stroke="#000" stroke-width="0.7" />
<line x1="511.20" y1="175.00" x2="511.20" y2="177.20" stroke="#000" stroke-width="0.7" />
<text x="511.20" y="267.90" font-family='"Liberation Sans", "DejaVu Sans", sans-serif' font-size="5.40" fill="#111" font-weight="bold" text-anchor="middle" stroke="#111" stroke-width="0.15">550</text>
<line x1="527.72" y1="258.80" x2="527.72" y2="261.00" stroke="#000" stroke-width="0.7" />
<line x1="527.72" y1="175.00" x2="527.72" y2="177.20" stroke="#000" stroke-width="0.7" />
<text x="527.72" y="267.90" font-family='"Liberation Sans", "DejaVu Sans", sans-serif' font-size="5.40" fill="#111" font-weight="bold" text-anchor="middle" stroke="#111" stroke-width="0.15">600</text>
<text x="430.20" y="279.00" font-family='"Liberation Sans", "DejaVu Sans", sans-serif' font-size="6.20" fill="#111" font-weight="bold" text-anchor="middle" stroke="#111" stroke-width="0.15">Temperature (°C)</text>
<text x="332.40" y="215.50" font-family='"Liberation Sans", "DejaVu Sans", sans-serif' font-size="6.30" fill="#111" font-weight="bold" text-anchor="middle" transform="rotate(-90 332.40 215.50)" stroke="#111" stroke-width="0.139">Pressure (arb.unit)</text>
<rect x="415.50" y="178.50" width="110.00" height="52.00" fill="#fff" stroke="none" stroke-width="1" />
<line x1="428.60" y1="176.00" x2="428.60" y2="240.00" stroke="#d5d5d5" stroke-width="0.5" stroke-dasharray="0.7 0.9"/>
<line x1="445.12" y1="176.00" x2="445.12" y2="240.00" stroke="#d5d5d5" stroke-width="0.5" stroke-dasharray="0.7 0.9"/>
<line x1="461.64" y1="176.00" x2="461.64" y2="240.00" stroke="#d5d5d5" stroke-width="0.5" stroke-dasharray="0.7 0.9"/>
<line x1="478.16" y1="176.00" x2="478.16" y2="240.00" stroke="#d5d5d5" stroke-width="0.5" stroke-dasharray="0.7 0.9"/>
<line x1="494.68" y1="176.00" x2="494.68" y2="240.00" stroke="#d5d5d5" stroke-width="0.5" stroke-dasharray="0.7 0.9"/>
<line x1="511.20" y1="176.00" x2="511.20" y2="240.00" stroke="#d5d5d5" stroke-width="0.5" stroke-dasharray="0.7 0.9"/>
<line x1="527.72" y1="176.00" x2="527.72" y2="240.00" stroke="#d5d5d5" stroke-width="0.5" stroke-dasharray="0.7 0.9"/>
<path d="M418.0 223.8h.01M418.3 225.0h.01M418.6 223.3h.01M418.9 225.2h.01M419.2 224.5h.01M419.5 225.3h.01M419.8 222.7h.01M420.1 225.3h.01M420.3 224.2h.01M420.6 224.8h.01M420.9 223.6h.01M421.2 223.4h.01M421.5 225.2h.01M421.8 224.6h.01M422.1 224.7h.01M422.3 224.8h.01M422.6 224.7h.01M422.9 222.9h.01M423.2 224.0h.01M423.5 224.0h.01M423.8 225.9h.01M424.1 225.3h.01M424.4 223.5h.01M424.6 223.0h.01M424.9 224.8h.01M425.2 224.7h.01M425.5 225.4h.01M425.8 223.3h.01M426.1 225.6h.01M426.4 224.4h.01M426.6 225.3h.01M426.9 224.5h.01M427.2 223.9h.01M427.5 223.6h.01M427.8 225.3h.01M428.1 221.6h.01M428.4 225.1h.01M428.7 224.8h.01M428.9 223.7h.01M429.2 224.9h.01M429.5 224.1h.01M429.8 223.1h.01M430.1 224.0h.01M430.4 224.7h.01M430.7 224.2h.01M431.0 223.6h.01M431.2 224.8h.01M431.5 224.8h.01M431.8 225.2h.01M432.1 224.4h.01M432.4 225.4h.01M432.7 223.6h.01M433.0 223.8h.01M433.2 223.0h.01M433.5 224.1h.01M433.8 224.2h.01M434.1 224.1h.01M434.4 223.1h.01M434.7 225.0h.01M435.0 222.7h.01M435.3 223.4h.01M435.5 221.7h.01M435.8 225.0h.01M436.1 224.8h.01M436.4 223.9h.01M436.7 224.4h.01M437.0 223.1h.01M437.3 223.2h.01M437.5 223.3h.01M437.8 224.3h.01M438.1 223.7h.01M438.4 224.2h.01M438.7 223.2h.01M439.0 222.9h.01M439.3 224.4h.01M439.6 224.3h.01M439.8 224.4h.01M440.1 223.5h.01M440.4 224.2h.01M440.7 222.7h.01M441.0 223.1h.01M441.3 224.2h.01M441.6 223.2h.01M441.8 223.0h.01M442.1 223.2h.01M442.4 225.3h.01M442.7 223.6h.01M443.0 224.2h.01M443.3 223.8h.01M443.6 225.9h.01M443.9 223.8h.01M444.1 224.8h.01M444.4 224.7h.01M444.7 224.2h.01M445.0 223.9h.01M445.3 222.6h.01M445.6 224.3h.01M445.9 225.6h.01M446.2 224.2h.01M446.4 225.5h.01M446.7 224.4h.01M447.0 224.5h.01M447.3 223.4h.01M447.6 223.6h.01M447.9 224.1h.01M448.2 224.6h.01M448.4 222.8h.01M448.7 222.5h.01M449.0 223.5h.01M449.3 223.5h.01M449.6 224.0h.01M449.9 225.0h.01M450.2 223.1h.01M450.5 225.1h.01M450.7 224.0h.01M451.0 223.5h.01M451.3 222.1h.01M451.6 224.7h.01M451.9 224.9h.01M452.2 223.8h.01M452.5 223.8h.01M452.7 223.0h.01M453.0 221.7h.01M453.3 222.6h.01M453.6 222.1h.01M453.9 222.1h.01M454.2 222.5h.01M454.5 222.7h.01M454.8 223.6h.01M455.0 224.2h.01M455.3 222.9h.01M455.6 223.7h.01M455.9 222.7h.01M456.2 222.7h.01M456.5 223.2h.01M456.8 222.4h.01M457.1 223.1h.01M457.3 222.4h.01M457.6 222.1h.01M457.9 222.2h.01M458.2 224.0h.01M458.5 222.9h.01M458.8 222.3h.01M459.1 222.8h.01M459.3 222.0h.01M459.6 222.2h.01M459.9 222.2h.01M460.2 221.1h.01M460.5 222.3h.01M460.8 222.8h.01M461.1 222.6h.01M461.4 222.2h.01M461.6 223.2h.01M461.9 221.6h.01M462.2 223.2h.01M462.5 223.0h.01M462.8 222.4h.01M463.1 223.4h.01M463.4 221.5h.01M463.6 222.3h.01M463.9 222.0h.01M464.2 221.4h.01M464.5 221.7h.01M464.8 222.3h.01M465.1 222.3h.01M465.4 222.4h.01M465.7 221.3h.01M465.9 221.8h.01M466.2 221.7h.01M466.5 221.3h.01M466.8 221.8h.01M467.1 220.0h.01M467.4 220.8h.01M467.7 221.3h.01M468.0 221.3h.01M468.2 222.1h.01M468.5 221.1h.01M468.8 222.9h.01M469.1 220.4h.01M469.4 223.0h.01M469.7 220.7h.01M470.0 220.5h.01M470.2 220.8h.01M470.5 220.9h.01M470.8 221.2h.01M471.1 221.0h.01M471.4 221.7h.01M471.7 222.0h.01M472.0 220.5h.01M472.3 222.3h.01M472.5 221.5h.01M472.8 221.3h.01M473.1 222.0h.01M473.4 221.2h.01M473.7 222.4h.01M474.0 220.3h.01M474.3 222.2h.01M474.5 220.8h.01M474.8 221.8h.01M475.1 220.8h.01M475.4 222.5h.01M475.7 221.5h.01M476.0 221.8h.01M476.3 220.3h.01M476.6 220.0h.01M476.8 221.4h.01M477.1 222.4h.01M477.4 221.3h.01M477.7 220.0h.01M478.0 222.6h.01M478.3 220.8h.01M478.6 221.8h.01M478.8 220.6h.01M479.1 220.6h.01M479.4 221.5h.01M479.7 219.1h.01M480.0 220.4h.01M480.3 220.9h.01M480.6 220.9h.01M480.9 220.0h.01M481.1 222.2h.01M481.4 221.1h.01M481.7 221.2h.01M482.0 219.8h.01M482.3 221.3h.01M482.6 221.9h.01M482.9 222.0h.01M483.2 221.9h.01M483.4 221.3h.01M483.7 221.2h.01M484.0 221.6h.01M484.3 222.0h.01M484.6 221.3h.01M484.9 221.3h.01M485.2 221.8h.01M485.4 221.3h.01M485.7 221.8h.01M486.0 221.7h.01M486.3 220.9h.01M486.6 222.8h.01M486.9 222.2h.01M487.2 221.0h.01M487.5 221.0h.01M487.7 221.4h.01M488.0 221.3h.01M488.3 221.0h.01M488.6 222.0h.01M488.9 221.6h.01M489.2 221.2h.01M489.5 223.2h.01M489.7 221.7h.01M490.0 222.3h.01M490.3 221.0h.01M490.6 221.2h.01M490.9 221.3h.01M491.2 222.9h.01M491.5 222.7h.01M491.8 222.0h.01M492.0 222.0h.01M492.3 222.5h.01M492.6 221.6h.01M492.9 222.1h.01M493.2 223.1h.01M493.5 221.7h.01M493.8 222.9h.01M494.1 222.4h.01M494.3 222.6h.01M494.6 222.4h.01M494.9 223.2h.01M495.2 223.3h.01M495.5 223.0h.01M495.8 221.4h.01M496.1 222.8h.01M496.3 223.6h.01M496.6 221.9h.01M496.9 221.6h.01M497.2 222.6h.01M497.5 223.5h.01M497.8 221.9h.01M498.1 223.2h.01M498.4 222.7h.01M498.6 222.9h.01M498.9 223.3h.01M499.2 222.9h.01M499.5 222.6h.01M499.8 223.2h.01M500.1 224.3h.01M500.4 223.6h.01M500.6 223.7h.01M500.9 222.4h.01M501.2 222.8h.01M501.5 222.2h.01M501.8 224.0h.01M502.1 224.1h.01M502.4 223.6h.01M502.7 223.9h.01M502.9 223.0h.01M503.2 223.1h.01M503.5 224.4h.01M503.8 223.1h.01M504.1 224.3h.01M504.4 224.8h.01M504.7 222.6h.01M505.0 222.8h.01M505.2 224.9h.01M505.5 224.3h.01M505.8 224.8h.01M506.1 224.9h.01M506.4 223.4h.01M506.7 225.2h.01M507.0 224.8h.01M507.2 224.5h.01M507.5 224.0h.01M507.8 223.4h.01M508.1 223.1h.01M508.4 222.6h.01M508.7 223.1h.01M509.0 223.2h.01M509.3 223.9h.01M509.5 223.2h.01M509.8 222.4h.01M510.1 224.0h.01M510.4 222.2h.01M510.7 223.6h.01M511.0 224.4h.01M511.3 222.7h.01M511.5 222.9h.01M511.8 223.8h.01M512.1 225.0h.01M512.4 223.8h.01M512.7 223.6h.01M513.0 224.1h.01M513.3 222.5h.01M513.6 222.7h.01M513.8 224.5h.01M514.1 224.6h.01M514.4 224.4h.01M514.7 224.1h.01M515.0 224.3h.01M515.3 222.6h.01M515.6 223.1h.01M515.9 223.7h.01M516.1 224.8h.01M516.4 224.2h.01M516.7 224.0h.01M517.0 223.1h.01M517.3 224.1h.01M517.6 224.3h.01M517.9 224.5h.01M518.1 223.9h.01M518.4 225.7h.01M518.7 223.1h.01M519.0 224.8h.01M519.3 223.1h.01M519.6 223.1h.01M519.9 224.7h.01M520.2 223.8h.01M520.4 223.5h.01M520.7 224.1h.01M521.0 226.1h.01" stroke="#000" stroke-width="1.24" stroke-linecap="round" fill="none"/>
<path d="M418.0 223.6h.01M418.3 223.9h.01M418.6 225.3h.01M418.9 223.6h.01M419.2 226.3h.01M419.5 223.0h.01M419.8 224.0h.01M420.1 225.0h.01M420.3 223.9h.01M420.6 223.7h.01M420.9 222.9h.01M421.2 224.0h.01M421.5 224.9h.01M421.8 223.9h.01M422.1 223.3h.01M422.3 225.3h.01M422.6 224.9h.01M422.9 224.7h.01M423.2 223.9h.01M423.5 223.4h.01M423.8 225.2h.01M424.1 224.2h.01M424.4 223.8h.01M424.6 224.0h.01M424.9 224.5h.01M425.2 224.9h.01M425.5 224.1h.01M425.8 223.8h.01M426.1 223.1h.01M426.4 223.9h.01M426.6 223.9h.01M426.9 224.4h.01M427.2 224.1h.01M427.5 223.6h.01M427.8 224.0h.01M428.1 224.6h.01M428.4 224.0h.01M428.7 223.9h.01M428.9 223.8h.01M429.2 223.8h.01M429.5 224.4h.01M429.8 224.6h.01M430.1 223.8h.01M430.4 223.9h.01M430.7 224.4h.01M431.0 224.7h.01M431.2 225.3h.01M431.5 222.8h.01M431.8 224.8h.01M432.1 223.6h.01M432.4 224.6h.01M432.7 224.8h.01M433.0 225.6h.01M433.2 223.5h.01M433.5 224.9h.01M433.8 221.8h.01M434.1 224.0h.01M434.4 222.0h.01M434.7 223.3h.01M435.0 222.9h.01M435.3 222.6h.01M435.5 223.9h.01M435.8 222.9h.01M436.1 222.9h.01M436.4 223.2h.01M436.7 223.4h.01M437.0 224.3h.01M437.3 223.4h.01M437.5 223.0h.01M437.8 222.3h.01M438.1 224.3h.01M438.4 224.0h.01M438.7 224.3h.01M439.0 223.1h.01M439.3 224.8h.01M439.6 224.2h.01M439.8 225.7h.01M440.1 223.3h.01M440.4 224.4h.01M440.7 225.1h.01M441.0 223.4h.01M441.3 223.6h.01M441.6 223.1h.01M441.8 223.3h.01M442.1 224.3h.01M442.4 223.7h.01M442.7 222.6h.01M443.0 225.7h.01M443.3 222.8h.01M443.6 224.5h.01M443.9 223.5h.01M444.1 224.0h.01M444.4 223.9h.01M444.7 224.1h.01M445.0 224.0h.01M445.3 224.8h.01M445.6 222.7h.01M445.9 222.1h.01M446.2 221.7h.01M446.4 221.4h.01M446.7 223.6h.01M447.0 221.6h.01M447.3 221.7h.01M447.6 223.3h.01M447.9 222.8h.01M448.2 223.1h.01M448.4 220.6h.01M448.7 221.8h.01M449.0 221.5h.01M449.3 222.8h.01M449.6 222.8h.01M449.9 223.1h.01M450.2 223.8h.01M450.5 225.8h.01M450.7 222.2h.01M451.0 223.2h.01M451.3 223.4h.01M451.6 222.4h.01M451.9 221.6h.01M452.2 223.2h.01M452.5 223.2h.01M452.7 222.9h.01M453.0 221.7h.01M453.3 220.3h.01M453.6 221.3h.01M453.9 223.3h.01M454.2 223.2h.01M454.5 221.2h.01M454.8 222.3h.01M455.0 223.2h.01M455.3 223.2h.01M455.6 221.1h.01M455.9 221.7h.01M456.2 221.8h.01M456.5 220.8h.01M456.8 223.3h.01M457.1 220.1h.01M457.3 222.0h.01M457.6 222.5h.01M457.9 222.0h.01M458.2 222.2h.01M458.5 219.5h.01M458.8 221.5h.01M459.1 221.7h.01M459.3 221.6h.01M459.6 220.1h.01M459.9 221.0h.01M460.2 220.5h.01M460.5 222.4h.01M460.8 220.5h.01M461.1 221.0h.01M461.4 220.9h.01M461.6 220.8h.01M461.9 222.5h.01M462.2 222.2h.01M462.5 221.2h.01M462.8 220.5h.01M463.1 220.4h.01M463.4 219.1h.01M463.6 220.7h.01M463.9 220.9h.01M464.2 220.4h.01M464.5 219.7h.01M464.8 221.6h.01M465.1 221.2h.01M465.4 220.6h.01M465.7 221.8h.01M465.9 220.6h.01M466.2 222.0h.01M466.5 220.1h.01M466.8 220.4h.01M467.1 219.7h.01M467.4 221.0h.01M467.7 219.7h.01M468.0 220.5h.01M468.2 220.2h.01M468.5 219.4h.01M468.8 222.0h.01M469.1 221.0h.01M469.4 219.8h.01M469.7 220.7h.01M470.0 220.3h.01M470.2 219.5h.01M470.5 221.5h.01M470.8 220.6h.01M471.1 220.4h.01M471.4 220.3h.01M471.7 220.4h.01M472.0 220.5h.01M472.3 220.0h.01M472.5 220.0h.01M472.8 219.9h.01M473.1 218.4h.01M473.4 219.6h.01M473.7 220.8h.01M474.0 221.1h.01M474.3 219.9h.01M474.5 219.0h.01M474.8 220.6h.01M475.1 219.0h.01M475.4 217.8h.01M475.7 217.5h.01M476.0 216.9h.01M476.3 220.4h.01M476.6 218.8h.01M476.8 216.2h.01M477.1 218.0h.01M477.4 217.3h.01M477.7 219.6h.01M478.0 218.2h.01M478.3 218.2h.01M478.6 219.4h.01M478.8 220.3h.01M479.1 218.2h.01M479.4 218.9h.01M479.7 218.1h.01M480.0 219.8h.01M480.3 219.2h.01M480.6 219.1h.01M480.9 218.3h.01M481.1 220.4h.01M481.4 218.8h.01M481.7 220.2h.01M482.0 220.2h.01M482.3 218.2h.01M482.6 219.0h.01M482.9 219.5h.01M483.2 218.3h.01M483.4 219.2h.01M483.7 219.7h.01M484.0 217.9h.01M484.3 219.2h.01M484.6 219.8h.01M484.9 219.1h.01M485.2 219.0h.01M485.4 218.4h.01M485.7 219.7h.01M486.0 219.9h.01M486.3 219.7h.01M486.6 221.0h.01M486.9 219.9h.01M487.2 219.5h.01M487.5 221.5h.01M487.7 220.6h.01M488.0 221.0h.01M488.3 221.2h.01M488.6 219.7h.01M488.9 219.3h.01M489.2 221.7h.01M489.5 218.6h.01M489.7 219.9h.01M490.0 221.8h.01M490.3 219.9h.01M490.6 221.2h.01M490.9 219.8h.01M491.2 222.7h.01M491.5 220.6h.01M491.8 221.4h.01M492.0 219.6h.01M492.3 221.5h.01M492.6 221.5h.01M492.9 220.5h.01M493.2 221.6h.01M493.5 220.8h.01M493.8 221.4h.01M494.1 220.7h.01M494.3 220.8h.01M494.6 220.1h.01M494.9 221.7h.01M495.2 221.1h.01M495.5 220.7h.01M495.8 222.9h.01M496.1 221.5h.01M496.3 221.4h.01M496.6 220.9h.01M496.9 222.4h.01M497.2 221.8h.01M497.5 221.0h.01M497.8 221.5h.01M498.1 222.3h.01M498.4 221.9h.01M498.6 222.9h.01M498.9 222.9h.01M499.2 223.9h.01M499.5 221.4h.01M499.8 222.0h.01M500.1 221.9h.01M500.4 221.9h.01M500.6 222.3h.01M500.9 221.9h.01M501.2 223.1h.01M501.5 221.2h.01M501.8 222.4h.01M502.1 223.0h.01M502.4 223.3h.01M502.7 222.5h.01M502.9 222.8h.01M503.2 222.6h.01M503.5 223.0h.01M503.8 222.5h.01M504.1 223.3h.01M504.4 223.9h.01M504.7 224.6h.01M505.0 222.4h.01M505.2 223.5h.01M505.5 223.1h.01M505.8 223.2h.01M506.1 222.5h.01M506.4 223.0h.01M506.7 223.4h.01M507.0 223.0h.01M507.2 222.6h.01M507.5 224.1h.01M507.8 223.2h.01M508.1 222.9h.01M508.4 223.1h.01M508.7 222.9h.01M509.0 222.5h.01M509.3 223.6h.01M509.5 223.0h.01M509.8 222.1h.01M510.1 224.1h.01M510.4 222.9h.01M510.7 222.0h.01M511.0 223.2h.01M511.3 222.7h.01M511.5 223.5h.01M511.8 222.3h.01M512.1 223.0h.01M512.4 221.9h.01M512.7 222.2h.01M513.0 223.5h.01M513.3 222.9h.01M513.6 224.8h.01M513.8 222.8h.01M514.1 223.6h.01M514.4 222.3h.01M514.7 224.8h.01M515.0 223.5h.01M515.3 222.1h.01M515.6 223.7h.01M515.9 223.1h.01M516.1 225.5h.01M516.4 224.5h.01M516.7 222.9h.01M517.0 224.2h.01M517.3 224.0h.01M517.6 223.3h.01M517.9 223.3h.01M518.1 223.4h.01M518.4 222.8h.01M518.7 223.9h.01M519.0 223.2h.01M519.3 223.6h.01M519.6 223.4h.01M519.9 223.0h.01M520.2 225.4h.01M520.4 224.0h.01M520.7 224.3h.01M521.0 226.1h.01" stroke="#0a14e8" stroke-width="1.24" stroke-linecap="round" fill="none"/>
<path d="M418.0 224.1h.01M418.3 223.5h.01M418.6 222.6h.01M418.9 222.8h.01M419.2 224.6h.01M419.5 222.8h.01M419.8 222.2h.01M420.1 224.1h.01M420.3 224.0h.01M420.6 225.5h.01M420.9 222.7h.01M421.2 224.9h.01M421.5 221.9h.01M421.8 225.1h.01M422.1 224.2h.01M422.3 223.1h.01M422.6 225.0h.01M422.9 224.1h.01M423.2 224.4h.01M423.5 223.9h.01M423.8 224.9h.01M424.1 224.4h.01M424.4 223.0h.01M424.6 223.0h.01M424.9 223.1h.01M425.2 224.5h.01M425.5 224.3h.01M425.8 224.0h.01M426.1 223.5h.01M426.4 223.2h.01M426.6 224.0h.01M426.9 224.4h.01M427.2 224.3h.01M427.5 225.0h.01M427.8 225.1h.01M428.1 223.2h.01M428.4 225.7h.01M428.7 224.8h.01M428.9 223.7h.01M429.2 223.7h.01M429.5 223.8h.01M429.8 222.8h.01M430.1 222.6h.01M430.4 223.2h.01M430.7 222.8h.01M431.0 220.5h.01M431.2 223.6h.01M431.5 221.3h.01M431.8 223.2h.01M432.1 222.5h.01M432.4 222.2h.01M432.7 223.4h.01M433.0 221.9h.01M433.2 221.7h.01M433.5 222.8h.01M433.8 222.6h.01M434.1 221.8h.01M434.4 221.6h.01M434.7 221.6h.01M435.0 222.4h.01M435.3 222.4h.01M435.5 222.7h.01M435.8 221.8h.01M436.1 221.0h.01M436.4 222.4h.01M436.7 224.0h.01M437.0 223.0h.01M437.3 220.5h.01M437.5 222.0h.01M437.8 221.1h.01M438.1 221.0h.01M438.4 220.8h.01M438.7 220.2h.01M439.0 219.5h.01M439.3 221.1h.01M439.6 219.7h.01M439.8 220.0h.01M440.1 220.0h.01M440.4 220.3h.01M440.7 219.7h.01M441.0 219.9h.01M441.3 219.5h.01M441.6 220.0h.01M441.8 219.9h.01M442.1 220.8h.01M442.4 219.9h.01M442.7 218.7h.01M443.0 219.6h.01M443.3 219.8h.01M443.6 218.3h.01M443.9 218.2h.01M444.1 216.5h.01M444.4 219.7h.01M444.7 218.4h.01M445.0 219.3h.01M445.3 216.6h.01M445.6 215.8h.01M445.9 218.0h.01M446.2 216.8h.01M446.4 217.6h.01M446.7 216.6h.01M447.0 217.9h.01M447.3 216.7h.01M447.6 216.7h.01M447.9 217.2h.01M448.2 216.2h.01M448.4 216.1h.01M448.7 217.4h.01M449.0 216.1h.01M449.3 216.3h.01M449.6 216.4h.01M449.9 215.9h.01M450.2 216.1h.01M450.5 217.2h.01M450.7 216.4h.01M451.0 214.0h.01M451.3 213.2h.01M451.6 214.3h.01M451.9 212.8h.01M452.2 212.4h.01M452.5 213.8h.01M452.7 213.7h.01M453.0 214.7h.01M453.3 214.8h.01M453.6 216.2h.01M453.9 213.6h.01M454.2 213.6h.01M454.5 214.2h.01M454.8 214.9h.01M455.0 213.6h.01M455.3 213.0h.01M455.6 211.3h.01M455.9 214.4h.01M456.2 213.4h.01M456.5 214.9h.01M456.8 215.1h.01M457.1 215.1h.01M457.3 213.8h.01M457.6 214.1h.01M457.9 212.1h.01M458.2 213.7h.01M458.5 212.9h.01M458.8 214.2h.01M459.1 212.8h.01M459.3 213.0h.01M459.6 212.5h.01M459.9 214.9h.01M460.2 213.4h.01M460.5 212.5h.01M460.8 213.1h.01M461.1 212.4h.01M461.4 214.7h.01M461.6 214.8h.01M461.9 213.9h.01M462.2 214.1h.01M462.5 212.7h.01M462.8 215.4h.01M463.1 214.1h.01M463.4 216.0h.01M463.6 213.8h.01M463.9 214.8h.01M464.2 215.2h.01M464.5 215.3h.01M464.8 214.5h.01M465.1 215.7h.01M465.4 215.2h.01M465.7 215.0h.01M465.9 214.1h.01M466.2 216.3h.01M466.5 215.2h.01M466.8 215.7h.01M467.1 215.3h.01M467.4 215.8h.01M467.7 215.3h.01M468.0 218.0h.01M468.2 217.4h.01M468.5 216.5h.01M468.8 216.2h.01M469.1 216.7h.01M469.4 215.4h.01M469.7 216.8h.01M470.0 216.3h.01M470.2 216.1h.01M470.5 215.9h.01M470.8 216.0h.01M471.1 217.2h.01M471.4 216.8h.01M471.7 216.2h.01M472.0 217.4h.01M472.3 217.2h.01M472.5 217.1h.01M472.8 218.5h.01M473.1 217.1h.01M473.4 216.2h.01M473.7 217.6h.01M474.0 216.7h.01M474.3 218.4h.01M474.5 218.2h.01M474.8 217.5h.01M475.1 218.3h.01M475.4 217.6h.01M475.7 217.6h.01M476.0 216.5h.01M476.3 216.3h.01M476.6 217.9h.01M476.8 219.9h.01M477.1 217.3h.01M477.4 218.4h.01M477.7 217.9h.01M478.0 219.0h.01M478.3 217.9h.01M478.6 218.6h.01M478.8 219.1h.01M479.1 218.3h.01M479.4 218.7h.01M479.7 218.7h.01M480.0 219.4h.01M480.3 219.6h.01M480.6 219.7h.01M480.9 219.5h.01M481.1 218.3h.01M481.4 218.8h.01M481.7 219.7h.01M482.0 219.3h.01M482.3 220.1h.01M482.6 218.3h.01M482.9 218.6h.01M483.2 218.7h.01M483.4 219.8h.01M483.7 219.0h.01M484.0 218.8h.01M484.3 219.9h.01M484.6 219.3h.01M484.9 218.8h.01M485.2 220.1h.01M485.4 219.7h.01M485.7 220.3h.01M486.0 220.4h.01M486.3 219.4h.01M486.6 219.7h.01M486.9 219.9h.01M487.2 220.6h.01M487.5 220.0h.01M487.7 221.0h.01M488.0 219.6h.01M488.3 220.1h.01M488.6 221.3h.01M488.9 219.0h.01M489.2 219.1h.01M489.5 220.9h.01M489.7 221.0h.01M490.0 221.2h.01M490.3 221.1h.01M490.6 221.3h.01M490.9 220.0h.01M491.2 220.5h.01M491.5 221.0h.01M491.8 219.5h.01M492.0 219.5h.01M492.3 220.1h.01M492.6 221.5h.01M492.9 221.3h.01M493.2 219.5h.01M493.5 220.2h.01M493.8 220.2h.01M494.1 220.8h.01M494.3 220.9h.01M494.6 220.8h.01M494.9 220.0h.01M495.2 221.8h.01M495.5 221.8h.01M495.8 220.0h.01M496.1 220.8h.01M496.3 221.9h.01M496.6 221.3h.01M496.9 221.4h.01M497.2 220.6h.01M497.5 222.3h.01M497.8 220.1h.01M498.1 221.9h.01M498.4 222.6h.01M498.6 220.5h.01M498.9 222.3h.01M499.2 221.9h.01M499.5 220.7h.01M499.8 221.4h.01M500.1 222.5h.01M500.4 220.9h.01M500.6 220.9h.01M500.9 218.9h.01M501.2 219.9h.01M501.5 221.1h.01M501.8 221.3h.01M502.1 221.9h.01M502.4 222.2h.01M502.7 223.2h.01M502.9 222.1h.01M503.2 224.0h.01M503.5 222.2h.01M503.8 222.7h.01M504.1 220.9h.01M504.4 222.0h.01M504.7 222.5h.01M505.0 222.5h.01M505.2 221.3h.01M505.5 221.7h.01M505.8 220.6h.01M506.1 222.0h.01M506.4 220.9h.01M506.7 222.6h.01M507.0 222.0h.01M507.2 222.4h.01M507.5 222.3h.01M507.8 222.2h.01M508.1 222.6h.01M508.4 222.0h.01M508.7 220.5h.01M509.0 223.0h.01M509.3 221.3h.01M509.5 222.7h.01M509.8 222.4h.01M510.1 222.3h.01M510.4 222.2h.01M510.7 222.3h.01M511.0 222.2h.01M511.3 222.1h.01M511.5 222.0h.01M511.8 222.4h.01M512.1 222.6h.01M512.4 221.8h.01M512.7 222.4h.01M513.0 221.0h.01M513.3 221.5h.01M513.6 220.7h.01M513.8 222.0h.01M514.1 222.5h.01M514.4 222.8h.01M514.7 221.1h.01M515.0 223.0h.01M515.3 221.4h.01M515.6 221.9h.01M515.9 221.9h.01M516.1 223.7h.01M516.4 222.5h.01M516.7 224.1h.01M517.0 223.2h.01M517.3 222.2h.01M517.6 222.7h.01M517.9 223.6h.01M518.1 221.7h.01M518.4 222.0h.01M518.7 222.4h.01M519.0 222.2h.01M519.3 222.3h.01M519.6 224.0h.01M519.9 222.6h.01M520.2 222.3h.01M520.4 222.2h.01M520.7 221.4h.01M521.0 223.3h.01" stroke="#0c8a12" stroke-width="1.24" stroke-linecap="round" fill="none"/>
<path d="M426.4 181.5h.01M426.6 186.7h.01M426.9 184.0h.01M427.2 183.5h.01M427.4 183.4h.01M427.7 184.8h.01M428.0 186.4h.01M428.2 185.9h.01M428.5 187.9h.01M428.7 188.5h.01M429.0 188.8h.01M429.3 189.3h.01M429.5 189.2h.01M429.8 189.0h.01M430.0 188.9h.01M430.3 188.9h.01M430.6 190.7h.01M430.8 192.4h.01M431.1 192.2h.01M431.3 191.3h.01M431.6 193.7h.01M431.9 192.0h.01M432.1 192.0h.01M432.4 192.5h.01M432.6 193.1h.01M432.9 194.0h.01M433.2 193.0h.01M433.4 192.9h.01M433.7 195.4h.01M433.9 195.5h.01M434.2 196.0h.01M434.5 196.6h.01M434.7 196.1h.01M435.0 198.3h.01M435.3 196.4h.01M435.5 196.7h.01M435.8 198.3h.01M436.0 197.5h.01M436.3 197.0h.01M436.6 197.3h.01M436.8 196.2h.01M437.1 198.4h.01M437.3 197.6h.01M437.6 198.4h.01M437.9 199.5h.01M438.1 199.1h.01M438.4 198.7h.01M438.6 199.0h.01M438.9 198.8h.01M439.2 200.5h.01M439.4 196.6h.01M439.7 198.1h.01M439.9 197.7h.01M440.2 199.0h.01M440.5 198.3h.01M440.7 198.6h.01M441.0 200.5h.01M441.2 198.7h.01M441.5 199.3h.01M441.8 197.9h.01M442.0 197.6h.01M442.3 197.2h.01M442.6 199.8h.01M442.8 197.0h.01M443.1 197.7h.01M443.3 200.6h.01M443.6 198.5h.01M443.9 198.0h.01M444.1 197.6h.01M444.4 196.5h.01M444.6 198.1h.01M444.9 198.7h.01M445.2 196.6h.01M445.4 196.9h.01M445.7 199.2h.01M445.9 196.9h.01M446.2 198.0h.01M446.5 199.9h.01M446.7 196.8h.01M447.0 197.9h.01M447.2 197.2h.01M447.5 196.0h.01M447.8 200.1h.01M448.0 199.6h.01M448.3 198.9h.01M448.6 200.0h.01M448.8 199.1h.01M449.1 198.5h.01M449.3 199.7h.01M449.6 199.8h.01M449.9 199.8h.01M450.1 202.4h.01M450.4 200.6h.01M450.6 200.6h.01M450.9 202.3h.01M451.2 202.8h.01M451.4 204.4h.01M451.7 203.2h.01M451.9 201.7h.01M452.2 202.5h.01M452.5 204.8h.01M452.7 203.3h.01M453.0 204.8h.01M453.2 206.6h.01M453.5 203.3h.01M453.8 203.5h.01M454.0 205.2h.01M454.3 205.7h.01M454.5 207.0h.01M454.8 204.5h.01M455.1 207.2h.01M455.3 206.6h.01M455.6 205.3h.01M455.9 207.1h.01M456.1 208.2h.01M456.4 209.9h.01M456.6 207.5h.01M456.9 209.2h.01M457.2 207.2h.01M457.4 210.1h.01M457.7 209.3h.01M457.9 211.2h.01M458.2 208.2h.01M458.5 208.7h.01M458.7 208.3h.01M459.0 212.4h.01M459.2 210.2h.01M459.5 208.9h.01M459.8 210.4h.01M460.0 212.4h.01M460.3 212.4h.01M460.5 212.4h.01M460.8 210.7h.01M461.1 212.2h.01M461.3 210.5h.01M461.6 211.3h.01M461.8 213.8h.01M462.1 214.4h.01M462.4 213.4h.01M462.6 211.9h.01M462.9 213.1h.01M463.2 214.0h.01M463.4 216.4h.01M463.7 214.2h.01M463.9 213.6h.01M464.2 214.1h.01M464.5 214.7h.01M464.7 215.3h.01M465.0 215.9h.01M465.2 218.6h.01M465.5 216.0h.01M465.8 214.6h.01M466.0 218.3h.01M466.3 216.6h.01M466.5 216.8h.01M466.8 217.3h.01M467.1 218.5h.01M467.3 218.6h.01M467.6 219.2h.01M467.8 218.5h.01M468.1 219.2h.01M468.4 218.2h.01M468.6 218.5h.01M468.9 219.2h.01M469.1 219.5h.01M469.4 218.3h.01M469.7 219.1h.01M469.9 222.0h.01M470.2 222.1h.01M470.5 222.8h.01M470.7 222.4h.01M471.0 222.3h.01M471.2 223.5h.01M471.5 222.4h.01M471.8 221.6h.01M472.0 221.8h.01M472.3 222.7h.01M472.5 223.0h.01M472.8 222.5h.01M473.1 222.4h.01M473.3 222.8h.01M473.6 222.1h.01M473.8 225.6h.01M474.1 223.7h.01M474.4 221.0h.01M474.6 224.3h.01M474.9 222.5h.01M475.1 223.3h.01M475.4 223.6h.01M475.7 224.7h.01M475.9 223.8h.01M476.2 224.2h.01M476.5 223.9h.01M476.7 226.7h.01M477.0 224.2h.01M477.2 223.2h.01M477.5 222.8h.01M477.8 224.3h.01M478.0 223.8h.01M478.3 224.5h.01M478.5 224.8h.01M478.8 223.1h.01M479.1 224.5h.01M479.3 223.6h.01M479.6 223.7h.01M479.8 223.4h.01M480.1 224.2h.01M480.4 223.7h.01M480.6 223.8h.01M480.9 224.2h.01M481.1 223.2h.01M481.4 226.1h.01M481.7 225.4h.01M481.9 224.3h.01M482.2 225.0h.01M482.4 223.7h.01M482.7 224.9h.01M483.0 223.1h.01M483.2 224.7h.01M483.5 225.0h.01M483.8 224.4h.01M484.0 225.7h.01M484.3 224.0h.01M484.5 225.1h.01M484.8 225.6h.01M485.1 225.6h.01M485.3 225.0h.01M485.6 226.9h.01M485.8 225.9h.01M486.1 225.8h.01M486.4 224.3h.01M486.6 225.2h.01M486.9 224.6h.01M487.1 227.4h.01M487.4 225.6h.01M487.7 224.4h.01M487.9 226.2h.01M488.2 226.4h.01M488.4 224.6h.01M488.7 225.4h.01M489.0 228.0h.01M489.2 225.2h.01M489.5 225.6h.01M489.7 228.7h.01M490.0 225.2h.01M490.3 223.9h.01M490.5 224.1h.01M490.8 225.4h.01M491.1 226.1h.01M491.3 224.2h.01M491.6 222.9h.01M491.8 225.8h.01M492.1 225.0h.01M492.4 224.6h.01M492.6 224.2h.01M492.9 226.4h.01M493.1 225.0h.01M493.4 223.7h.01M493.7 224.1h.01M493.9 224.7h.01M494.2 223.6h.01M494.4 224.6h.01M494.7 226.5h.01M495.0 226.1h.01M495.2 226.3h.01M495.5 226.3h.01M495.7 225.4h.01M496.0 225.6h.01M496.3 223.3h.01M496.5 226.0h.01M496.8 225.9h.01M497.1 225.5h.01M497.3 225.4h.01M497.6 224.0h.01M497.8 224.7h.01M498.1 223.4h.01M498.4 224.7h.01M498.6 224.9h.01M498.9 224.5h.01M499.1 226.5h.01M499.4 224.3h.01M499.7 225.6h.01M499.9 225.4h.01M500.2 225.0h.01M500.4 225.8h.01M500.7 225.6h.01M501.0 224.8h.01M501.2 226.7h.01M501.5 225.0h.01M501.7 225.9h.01M502.0 224.0h.01M502.3 224.2h.01M502.5 225.4h.01M502.8 227.8h.01M503.0 223.8h.01M503.3 223.9h.01M503.6 224.3h.01M503.8 224.7h.01M504.1 225.3h.01M504.4 226.4h.01M504.6 225.0h.01M504.9 225.9h.01M505.1 225.2h.01M505.4 224.6h.01M505.7 224.7h.01M505.9 225.7h.01M506.2 225.4h.01M506.4 226.7h.01M506.7 225.4h.01M507.0 225.1h.01M507.2 223.9h.01M507.5 224.4h.01M507.7 225.6h.01M508.0 225.6h.01M508.3 227.1h.01M508.5 224.5h.01M508.8 225.9h.01M509.0 225.1h.01M509.3 222.9h.01M509.6 223.9h.01M509.8 225.5h.01M510.1 224.8h.01M510.3 224.5h.01M510.6 226.5h.01M510.9 225.0h.01M511.1 225.5h.01M511.4 226.1h.01M511.7 224.7h.01M511.9 225.9h.01M512.2 224.1h.01M512.4 223.8h.01M512.7 226.5h.01M513.0 226.7h.01M513.2 226.0h.01M513.5 224.4h.01M513.7 224.9h.01M514.0 224.2h.01M514.3 224.2h.01M514.5 225.4h.01M514.8 224.7h.01M515.0 226.5h.01M515.3 223.5h.01M515.6 224.6h.01M515.8 223.9h.01M516.1 223.8h.01M516.3 227.3h.01M516.6 227.0h.01M516.9 225.7h.01M517.1 225.8h.01M517.4 225.9h.01M517.6 225.3h.01M517.9 221.7h.01M518.2 222.7h.01M518.4 225.8h.01M518.7 222.3h.01M519.0 226.8h.01M519.2 226.1h.01M519.5 225.5h.01M519.7 225.6h.01M520.0 226.0h.01M520.3 224.5h.01M520.5 227.2h.01M520.8 224.9h.01M521.0 224.2h.01" stroke="#d4111f" stroke-width="1.32" stroke-linecap="round" fill="none"/>
<line x1="416.50" y1="232.40" x2="522.50" y2="232.40" stroke="#333" stroke-width="0.7" />
<line x1="417.00" y1="231.00" x2="417.00" y2="232.40" stroke="#333" stroke-width="0.6" />
<text x="417.00" y="237.60" font-family='"Liberation Sans", "DejaVu Sans", sans-serif' font-size="3.70" fill="#222" font-weight="bold" text-anchor="middle" stroke="#222" stroke-width="0.081">150</text>
<line x1="443.07" y1="231.00" x2="443.07" y2="232.40" stroke="#333" stroke-width="0.6" />
<text x="443.07" y="237.60" font-family='"Liberation Sans", "DejaVu Sans", sans-serif' font-size="3.70" fill="#222" font-weight="bold" text-anchor="middle" stroke="#222" stroke-width="0.081">200</text>
<line x1="469.15" y1="231.00" x2="469.15" y2="232.40" stroke="#333" stroke-width="0.6" />
<text x="469.15" y="237.60" font-family='"Liberation Sans", "DejaVu Sans", sans-serif' font-size="3.70" fill="#222" font-weight="bold" text-anchor="middle" stroke="#222" stroke-width="0.081">250</text>
<line x1="495.23" y1="231.00" x2="495.23" y2="232.40" stroke="#333" stroke-width="0.6" />
<text x="495.23" y="237.60" font-family='"Liberation Sans", "DejaVu Sans", sans-serif' font-size="3.70" fill="#222" font-weight="bold" text-anchor="middle" stroke="#222" stroke-width="0.081">300</text>
<line x1="521.30" y1="231.00" x2="521.30" y2="232.40" stroke="#333" stroke-width="0.6" />
<text x="521.30" y="237.60" font-family='"Liberation Sans", "DejaVu Sans", sans-serif' font-size="3.70" fill="#222" font-weight="bold" text-anchor="middle" stroke="#222" stroke-width="0.081">350</text>
<circle cx="481.2" cy="184.00" r="1.25" fill="#000"/>
<text x="491.00" y="186.10" font-family='"Liberation Sans", "DejaVu Sans", sans-serif' font-size="6.00" fill="#111" stroke="#111" stroke-width="0.132">NMC433</text>
<circle cx="481.2" cy="191.25" r="1.25" fill="#0a14e8"/>
<text x="491.00" y="193.35" font-family='"Liberation Sans", "DejaVu Sans", sans-serif' font-size="6.00" fill="#111" stroke="#111" stroke-width="0.132">NMC532</text>
<circle cx="481.2" cy="198.50" r="1.25" fill="#0c8a12"/>
<text x="491.00" y="200.60" font-family='"Liberation Sans", "DejaVu Sans", sans-serif' font-size="6.00" fill="#111" stroke="#111" stroke-width="0.132">NMC622</text>
<circle cx="481.2" cy="205.75" r="1.25" fill="#d4111f"/>
<text x="491.00" y="207.85" font-family='"Liberation Sans", "DejaVu Sans", sans-serif' font-size="6.00" fill="#111" stroke="#111" stroke-width="0.132">NMC811</text>
<rect x="344.00" y="285.20" width="184.80" height="33.00" fill="#cfcfcf" stroke="none" stroke-width="1" />
<line x1="360.80" y1="285.20" x2="360.80" y2="318.20" stroke="#dedede" stroke-width="0.5" />
<line x1="377.60" y1="285.20" x2="377.60" y2="318.20" stroke="#dedede" stroke-width="0.5" />
<line x1="394.40" y1="285.20" x2="394.40" y2="318.20" stroke="#dedede" stroke-width="0.5" />
<line x1="411.20" y1="285.20" x2="411.20" y2="318.20" stroke="#dedede" stroke-width="0.5" />
<line x1="428.00" y1="285.20" x2="428.00" y2="318.20" stroke="#dedede" stroke-width="0.5" />
<line x1="444.80" y1="285.20" x2="444.80" y2="318.20" stroke="#dedede" stroke-width="0.5" />
<line x1="461.60" y1="285.20" x2="461.60" y2="318.20" stroke="#dedede" stroke-width="0.5" />
<line x1="478.40" y1="285.20" x2="478.40" y2="318.20" stroke="#dedede" stroke-width="0.5" />
<line x1="495.20" y1="285.20" x2="495.20" y2="318.20" stroke="#dedede" stroke-width="0.5" />
<line x1="512.00" y1="285.20" x2="512.00" y2="318.20" stroke="#dedede" stroke-width="0.5" />
<rect x="344.00" y="286.35" width="31.92" height="5.30" fill="#1f3d78" stroke="none" stroke-width="1" />
<rect x="375.92" y="286.35" width="3.70" height="5.30" fill="#cbbde8" stroke="none" stroke-width="1" />
<rect x="379.62" y="286.35" width="1.68" height="5.30" fill="#f59d0f" stroke="none" stroke-width="1" />
<rect x="381.30" y="286.35" width="71.90" height="5.30" fill="#0b7a14" stroke="none" stroke-width="1" />
<rect x="453.20" y="286.35" width="75.60" height="5.30" fill="#e8141c" stroke="none" stroke-width="1" />
<text x="339.60" y="291.00" font-family='"Liberation Sans", "DejaVu Sans", sans-serif' font-size="5.50" fill="#111" font-weight="bold" text-anchor="end" stroke="#111" stroke-width="0.2">NMC811</text>
<rect x="344.00" y="294.35" width="42.34" height="5.30" fill="#1f3d78" stroke="none" stroke-width="1" />
<rect x="386.34" y="294.35" width="20.50" height="5.30" fill="#cbbde8" stroke="none" stroke-width="1" />
<rect x="406.83" y="294.35" width="17.81" height="5.30" fill="#f59d0f" stroke="none" stroke-width="1" />
<rect x="424.64" y="294.35" width="87.36" height="5.30" fill="#0b7a14" stroke="none" stroke-width="1" />
<rect x="512.00" y="294.35" width="16.80" height="5.30" fill="#e8141c" stroke="none" stroke-width="1" />
<text x="339.60" y="299.00" font-family='"Liberation Sans", "DejaVu Sans", sans-serif' font-size="5.50" fill="#111" font-weight="bold" text-anchor="end" stroke="#111" stroke-width="0.2">NMC622</text>
<rect x="344.00" y="302.55" width="63.84" height="5.30" fill="#1f3d78" stroke="none" stroke-width="1" />
<rect x="407.84" y="302.55" width="19.15" height="5.30" fill="#cbbde8" stroke="none" stroke-width="1" />
<rect x="426.99" y="302.55" width="27.89" height="5.30" fill="#f59d0f" stroke="none" stroke-width="1" />
<rect x="454.88" y="302.55" width="73.92" height="5.30" fill="#0b7a14" stroke="none" stroke-width="1" />
<text x="339.60" y="307.20" font-family='"Liberation Sans", "DejaVu Sans", sans-serif' font-size="5.50" fill="#111" font-weight="bold" text-anchor="end" stroke="#111" stroke-width="0.2">NMC532</text>
<rect x="344.00" y="310.55" width="66.19" height="5.30" fill="#1f3d78" stroke="none" stroke-width="1" />
<rect x="410.19" y="310.55" width="23.86" height="5.30" fill="#cbbde8" stroke="none" stroke-width="1" />
<rect x="434.05" y="310.55" width="37.63" height="5.30" fill="#f59d0f" stroke="none" stroke-width="1" />
<rect x="471.68" y="310.55" width="57.12" height="5.30" fill="#0b7a14" stroke="none" stroke-width="1" />
<text x="339.60" y="315.20" font-family='"Liberation Sans", "DejaVu Sans", sans-serif' font-size="5.50" fill="#111" font-weight="bold" text-anchor="end" stroke="#111" stroke-width="0.2">NMC433</text>
<text x="344.00" y="327.00" font-family='"Liberation Sans", "DejaVu Sans", sans-serif' font-size="5.40" fill="#111" font-weight="bold" text-anchor="middle" stroke="#111" stroke-width="0.15">50</text>
<text x="360.80" y="327.00" font-family='"Liberation Sans", "DejaVu Sans", sans-serif' font-size="5.40" fill="#111" font-weight="bold" text-anchor="middle" stroke="#111" stroke-width="0.15">100</text>
<text x="377.60" y="327.00" font-family='"Liberation Sans", "DejaVu Sans", sans-serif' font-size="5.40" fill="#111" font-weight="bold" text-anchor="middle" stroke="#111" stroke-width="0.15">150</text>
<text x="394.40" y="327.00" font-family='"Liberation Sans", "DejaVu Sans", sans-serif' font-size="5.40" fill="#111" font-weight="bold" text-anchor="middle" stroke="#111" stroke-width="0.15">200</text>
<text x="411.20" y="327.00" font-family='"Liberation Sans", "DejaVu Sans", sans-serif' font-size="5.40" fill="#111" font-weight="bold" text-anchor="middle" stroke="#111" stroke-width="0.15">250</text>
<text x="428.00" y="327.00" font-family='"Liberation Sans", "DejaVu Sans", sans-serif' font-size="5.40" fill="#111" font-weight="bold" text-anchor="middle" stroke="#111" stroke-width="0.15">300</text>
<text x="444.80" y="327.00" font-family='"Liberation Sans", "DejaVu Sans", sans-serif' font-size="5.40" fill="#111" font-weight="bold" text-anchor="middle" stroke="#111" stroke-width="0.15">350</text>
<text x="461.60" y="327.00" font-family='"Liberation Sans", "DejaVu Sans", sans-serif' font-size="5.40" fill="#111" font-weight="bold" text-anchor="middle" stroke="#111" stroke-width="0.15">400</text>
<text x="478.40" y="327.00" font-family='"Liberation Sans", "DejaVu Sans", sans-serif' font-size="5.40" fill="#111" font-weight="bold" text-anchor="middle" stroke="#111" stroke-width="0.15">450</text>
<text x="495.20" y="327.00" font-family='"Liberation Sans", "DejaVu Sans", sans-serif' font-size="5.40" fill="#111" font-weight="bold" text-anchor="middle" stroke="#111" stroke-width="0.15">500</text>
<text x="512.00" y="327.00" font-family='"Liberation Sans", "DejaVu Sans", sans-serif' font-size="5.40" fill="#111" font-weight="bold" text-anchor="middle" stroke="#111" stroke-width="0.15">550</text>
<text x="528.80" y="327.00" font-family='"Liberation Sans", "DejaVu Sans", sans-serif' font-size="5.40" fill="#111" font-weight="bold" text-anchor="middle" stroke="#111" stroke-width="0.15">600</text>
<rect x="345.90" y="331.60" width="3.20" height="3.20" fill="#1f3d78" stroke="none" stroke-width="1" rx="1"/>
<text x="350.80" y="334.90" font-family='"Liberation Sans", "DejaVu Sans", sans-serif' font-size="4.62" fill="#111" font-weight="bold" stroke="#111" stroke-width="0.22">Layered</text>
<circle cx="347.5" cy="340.8" r="1.7" fill="#f59d0f"/>
<text x="350.80" y="342.50" font-family='"Liberation Sans", "DejaVu Sans", sans-serif' font-size="4.62" fill="#111" font-weight="bold" stroke="#111" stroke-width="0.22">LiMn<tspan dy="1.02" font-size="3.14">2</tspan><tspan dy="-1.02">O</tspan><tspan dy="1.02" font-size="3.14">4</tspan><tspan dy="-1.02">-type spinel <tspan font-family="DejaVu Sans, sans-serif" font-weight="bold">→</tspan>  M</tspan><tspan dy="1.02" font-size="3.14">3</tspan><tspan dy="-1.02">O</tspan><tspan dy="1.02" font-size="3.14">4</tspan><tspan dy="-1.02">-type spinel</tspan></text>
<text x="350.80" y="349.50" font-family='"Liberation Sans", "DejaVu Sans", sans-serif' font-size="4.62" fill="#111" font-weight="bold" stroke="#111" stroke-width="0.22">(mostly LiMn<tspan dy="1.02" font-size="3.14">2</tspan><tspan dy="-1.02">O</tspan><tspan dy="1.02" font-size="3.14">4</tspan><tspan dy="-1.02">-type spinel)</tspan></text>
<rect x="346.20" y="353.60" width="2.70" height="2.70" fill="#e8141c" stroke="none" stroke-width="1" />
<text x="350.80" y="356.70" font-family='"Liberation Sans", "DejaVu Sans", sans-serif' font-size="4.62" fill="#111" font-weight="bold" stroke="#111" stroke-width="0.22">Rock-salt</text>
<circle cx="448.4" cy="333.2" r="1.7" fill="#cbbde8"/>
<text x="454.60" y="334.90" font-family='"Liberation Sans", "DejaVu Sans", sans-serif' font-size="4.62" fill="#111" font-weight="bold" stroke="#111" stroke-width="0.22">Layered  <tspan font-family="DejaVu Sans, sans-serif" font-weight="bold">→</tspan>  LiMn<tspan dy="1.02" font-size="3.14">2</tspan><tspan dy="-1.02">O</tspan><tspan dy="1.02" font-size="3.14">4</tspan><tspan dy="-1.02">-type spinel</tspan></text>
<rect x="446.90" y="339.40" width="2.90" height="2.90" fill="#0b7a14" stroke="none" stroke-width="1" />
<text x="454.60" y="342.50" font-family='"Liberation Sans", "DejaVu Sans", sans-serif' font-size="4.62" fill="#111" font-weight="bold" stroke="#111" stroke-width="0.22">M<tspan dy="1.02" font-size="3.14">3</tspan><tspan dy="-1.02">O</tspan><tspan dy="1.02" font-size="3.14">4</tspan><tspan dy="-1.02">-type spinel <tspan font-family="DejaVu Sans, sans-serif" font-weight="bold">→</tspan>  Rock-salt</tspan></text>
<text x="454.60" y="349.50" font-family='"Liberation Sans", "DejaVu Sans", sans-serif' font-size="4.62" fill="#111" font-weight="bold" stroke="#111" stroke-width="0.22">(mostly M<tspan dy="1.02" font-size="3.14">3</tspan><tspan dy="-1.02">O</tspan><tspan dy="1.02" font-size="3.14">4</tspan><tspan dy="-1.02">-type spinel)</tspan></text>
</g>
<g id="panel_e">
<text x="2.00" y="382.50" font-family='"Liberation Sans", "DejaVu Sans", sans-serif' font-size="22.00" fill="#1a1a1a" letter-spacing="-0.65">(e)</text>
<text x="35.60" y="387.20" font-family='"Liberation Sans", "DejaVu Sans", sans-serif' font-size="7.75" fill="#111" font-weight="bold" stroke="#111" stroke-width="0.17">Two mechanistic electrolyte oxidation pathways</text>
<defs><linearGradient id="egrey" x1="0" x2="1" y1="0" y2="0"><stop offset="0" stop-color="#8d8d8d"/><stop offset="0.45" stop-color="#b6b6b6"/><stop offset="1" stop-color="#e4e4e4"/></linearGradient></defs>
<rect x="19.60" y="390.00" width="40.00" height="180.20" fill="url(#egrey)" stroke="none" stroke-width="1" />
<rect x="19.60" y="390.00" width="40.00" height="11.80" fill="#878787" stroke="none" stroke-width="1" />
<text x="39.60" y="398.80" font-family='"Liberation Sans", "DejaVu Sans", sans-serif' font-size="5.70" fill="#fff" font-weight="bold" text-anchor="middle" stroke="#fff" stroke-width="0.125">NMC</text>
<text x="27.60" y="409.80" font-family='"Liberation Sans", "DejaVu Sans", sans-serif' font-size="8.20" fill="#222" font-weight="bold" transform="rotate(90 27.60 409.80)" stroke="#222" stroke-width="0.18">bulk</text>
<text x="46.70" y="409.80" font-family='"Liberation Sans", "DejaVu Sans", sans-serif' font-size="8.20" fill="#222" font-weight="bold" transform="rotate(90 46.70 409.80)" stroke="#222" stroke-width="0.18">surface</text>
<text x="25.60" y="487.60" font-family='"Liberation Sans", "DejaVu Sans", sans-serif' font-size="8.30" fill="#222" transform="rotate(90 25.60 487.60)" stroke="#222" stroke-width="0.183">Layered  structure</text>
<text x="48.80" y="477.80" font-family='"Liberation Sans", "DejaVu Sans", sans-serif' font-size="7.60" fill="#111" transform="rotate(90 48.80 477.80)" letter-spacing="0.2" stroke="#111" stroke-width="0.167">MO<tspan dy="1.67" font-size="5.17">2</tspan></text>
<text x="48.80" y="509.80" font-family='"Liberation Sans", "DejaVu Sans", sans-serif' font-size="8.20" fill="#111" transform="rotate(90 48.80 509.80)" letter-spacing="0.7" stroke="#111" stroke-width="0.18">M<tspan dy="1.80" font-size="5.58">3</tspan><tspan dy="-1.80">O</tspan><tspan dy="1.80" font-size="5.58">4</tspan></text>
<text x="48.80" y="547.60" font-family='"Liberation Sans", "DejaVu Sans", sans-serif' font-size="7.60" fill="#111" transform="rotate(90 48.80 547.60)" stroke="#111" stroke-width="0.167">MO</text>
<rect x="62.60" y="390.40" width="228.00" height="93.20" fill="#fff" stroke="#17509f" stroke-width="1.5" />
<rect x="62.60" y="390.40" width="228.00" height="11.40" fill="#17509f" stroke="#17509f" stroke-width="1.5" />
<text x="71.50" y="398.60" font-family='"Liberation Sans", "DejaVu Sans", sans-serif' font-size="5.68" fill="#fff" font-weight="bold" stroke="#fff" stroke-width="0.125">1. Electrochemical oxidation pathway:</text>
<text x="178.40" y="398.60" font-family='"Liberation Sans", "DejaVu Sans", sans-serif' font-size="5.80" fill="#fff" stroke="#fff" stroke-width="0.128">V<tspan dy="1.28" font-size="3.94">cathode</tspan><tspan dy="-1.28">  &gt; V</tspan><tspan dy="1.28" font-size="3.94">solvent  oxidation</tspan></text>
<line x1="200.00" y1="403.00" x2="200.00" y2="483.50" stroke="#2a62b0" stroke-width="1.15" stroke-dasharray="2.4 1.5"/>
<text x="130.90" y="410.30" font-family='"Liberation Sans", "DejaVu Sans", sans-serif' font-size="5.80" fill="#111" font-weight="bold" text-anchor="middle" stroke="#111" stroke-width="0.128">Processes at high potentials</text>
<text x="246.50" y="410.40" font-family='"Liberation Sans", "DejaVu Sans", sans-serif' font-size="6.05" fill="#111" font-weight="bold" text-anchor="middle" stroke="#111" stroke-width="0.133">Storage (OCV)</text>
<text x="75.00" y="431.20" font-family='"Liberation Sans", "DejaVu Sans", sans-serif' font-size="7.20" fill="#1a1a1a" stroke="#1a1a1a" stroke-width="0.158">EC</text>
<line x1="88.60" y1="428.60" x2="96.02" y2="422.11" stroke="#222" stroke-width="0.85" stroke-linecap="round"/>
<line x1="100.44" y1="422.04" x2="108.40" y2="428.60" stroke="#222" stroke-width="0.85" stroke-linecap="round"/>
<line x1="108.40" y1="428.60" x2="103.92" y2="436.21" stroke="#222" stroke-width="0.85" stroke-linecap="round"/>
<line x1="99.41" y1="439.03" x2="92.20" y2="439.60" stroke="#222" stroke-width="0.85" stroke-linecap="round"/>
<line x1="92.20" y1="439.60" x2="88.60" y2="428.60" stroke="#222" stroke-width="0.85" stroke-linecap="round"/>
<line x1="108.30" y1="427.70" x2="114.93" y2="424.53" stroke="#222" stroke-width="0.75" />
<line x1="109.04" y1="429.24" x2="115.66" y2="426.06" stroke="#222" stroke-width="0.75" />
<text x="98.20" y="422.55" font-family='"Liberation Sans", "DejaVu Sans", sans-serif' font-size="6.60" fill="#222" text-anchor="middle" stroke="#222" stroke-width="0.145">O</text>
<text x="102.40" y="441.15" font-family='"Liberation Sans", "DejaVu Sans", sans-serif' font-size="6.60" fill="#222" text-anchor="middle" stroke="#222" stroke-width="0.145">O</text>
<text x="118.00" y="426.35" font-family='"Liberation Sans", "DejaVu Sans", sans-serif' font-size="6.60" fill="#222" text-anchor="middle" stroke="#222" stroke-width="0.145">O</text>
<line x1="121.40" y1="430.00" x2="132.50" y2="430.00" stroke="#111" stroke-width="1" />
<path d="M131.0 427.8 L135.2 430.0 L131.0 432.2 Z" fill="#111"/>
<text x="140.40" y="432.90" font-family='"Liberation Sans", "DejaVu Sans", sans-serif' font-size="7.90" fill="#1a1a1a" stroke="#1a1a1a" stroke-width="0.174">CO/CO<tspan dy="1.74" font-size="5.37">2</tspan><tspan dy="-1.74"> + R-H</tspan><tspan dy="-2.84" font-size="5.37">+</tspan></text>
<path d="M108.6 429.0 C114 431.5, 121.5 435.5, 121.0 439.4 C120.5 442.6, 110 444.0, 98 445.0 C80 446.4, 60 447.6, 41.5 448.5" fill="none" stroke="#2565ad" stroke-width="1.15"/>
<path d="M43.4 446.4 L38.4 448.7 L43.6 450.8 Z" fill="#2565ad"/>
<circle cx="39.3" cy="448.7" r="1.05" fill="#2565ad"/>
<text x="88.60" y="452.90" font-family='"Liberation Sans", "DejaVu Sans", sans-serif' font-size="6.60" fill="#1a1a1a" stroke="#1a1a1a" stroke-width="0.145">e<tspan dy="-2.38" font-size="4.49">-</tspan></text>
<text x="106.40" y="464.30" font-family='"Liberation Sans", "DejaVu Sans", sans-serif' font-size="8.10" fill="#1a1a1a" stroke="#1a1a1a" stroke-width="0.178">Li<tspan dy="-2.92" font-size="5.51">+</tspan></text>
<text x="121.40" y="460.80" font-family='"Liberation Sans", "DejaVu Sans", sans-serif' font-size="7.35" fill="#1a1a1a" stroke="#1a1a1a" stroke-width="0.162">PF<tspan dy="1.62" font-size="5.00">6</tspan><tspan dy="-4.26" font-size="5.00">-</tspan></text>
<text x="64.60" y="461.50" font-family='"Liberation Sans", "DejaVu Sans", sans-serif' font-size="5.65" fill="#1a1a1a" stroke="#1a1a1a" stroke-width="0.124">charge</text>
<text x="64.60" y="469.70" font-family='"Liberation Sans", "DejaVu Sans", sans-serif' font-size="5.85" fill="#1a1a1a" stroke="#1a1a1a" stroke-width="0.129">compensation</text>
<path d="M110.4 465.2 C108 469.2, 103 470.6, 94 471.6 C80 473.0, 60 474.6, 41.5 475.8" fill="none" stroke="#2565ad" stroke-width="1.15"/>
<path d="M43.4 473.6 L38.4 476.0 L43.6 478.0 Z" fill="#2565ad"/>
<circle cx="39.3" cy="476.0" r="1.05" fill="#2565ad"/>
<text x="114.50" y="480.10" font-family='"Liberation Sans", "DejaVu Sans", sans-serif' font-size="5.88" fill="#1a1a1a" stroke="#1a1a1a" stroke-width="0.129">el.chem. oxidation = f(V<tspan dy="1.29" font-size="4.00">cathode</tspan><tspan dy="-1.29">)</tspan></text>
<rect x="223.40" y="416.60" width="61.20" height="46.40" fill="#fff" stroke="#666" stroke-width="0.8" />
<line x1="223.40" y1="420.40" x2="225.20" y2="420.40" stroke="#222" stroke-width="0.5" />
<line x1="282.80" y1="420.40" x2="284.60" y2="420.40" stroke="#222" stroke-width="0.5" />
<text x="221.80" y="421.90" font-family='"Liberation Sans", "DejaVu Sans", sans-serif' font-size="4.30" fill="#222" text-anchor="end" stroke="#222" stroke-width="0.095">4.8</text>
<line x1="223.40" y1="429.60" x2="225.20" y2="429.60" stroke="#222" stroke-width="0.5" />
<line x1="282.80" y1="429.60" x2="284.60" y2="429.60" stroke="#222" stroke-width="0.5" />
<text x="221.80" y="431.10" font-family='"Liberation Sans", "DejaVu Sans", sans-serif' font-size="4.30" fill="#222" text-anchor="end" stroke="#222" stroke-width="0.095">4.4</text>
<line x1="223.40" y1="439.00" x2="225.20" y2="439.00" stroke="#222" stroke-width="0.5" />
<line x1="282.80" y1="439.00" x2="284.60" y2="439.00" stroke="#222" stroke-width="0.5" />
<text x="221.80" y="440.50" font-family='"Liberation Sans", "DejaVu Sans", sans-serif' font-size="4.30" fill="#222" text-anchor="end" stroke="#222" stroke-width="0.095">4.0</text>
<line x1="223.40" y1="448.60" x2="225.20" y2="448.60" stroke="#222" stroke-width="0.5" />
<line x1="282.80" y1="448.60" x2="284.60" y2="448.60" stroke="#222" stroke-width="0.5" />
<text x="221.80" y="450.10" font-family='"Liberation Sans", "DejaVu Sans", sans-serif' font-size="4.30" fill="#222" text-anchor="end" stroke="#222" stroke-width="0.095">3.6</text>
<line x1="223.40" y1="458.40" x2="225.20" y2="458.40" stroke="#222" stroke-width="0.5" />
<line x1="282.80" y1="458.40" x2="284.60" y2="458.40" stroke="#222" stroke-width="0.5" />
<text x="221.80" y="459.90" font-family='"Liberation Sans", "DejaVu Sans", sans-serif' font-size="4.30" fill="#222" text-anchor="end" stroke="#222" stroke-width="0.095">3.2</text>
<line x1="223.40" y1="425.00" x2="224.50" y2="425.00" stroke="#222" stroke-width="0.45" />
<line x1="283.50" y1="425.00" x2="284.60" y2="425.00" stroke="#222" stroke-width="0.45" />
<line x1="223.40" y1="434.30" x2="224.50" y2="434.30" stroke="#222" stroke-width="0.45" />
<line x1="283.50" y1="434.30" x2="284.60" y2="434.30" stroke="#222" stroke-width="0.45" />
<line x1="223.40" y1="443.80" x2="224.50" y2="443.80" stroke="#222" stroke-width="0.45" />
<line x1="283.50" y1="443.80" x2="284.60" y2="443.80" stroke="#222" stroke-width="0.45" />
<line x1="223.40" y1="453.50" x2="224.50" y2="453.50" stroke="#222" stroke-width="0.45" />
<line x1="283.50" y1="453.50" x2="284.60" y2="453.50" stroke="#222" stroke-width="0.45" />
<line x1="229.52" y1="461.50" x2="229.52" y2="463.00" stroke="#222" stroke-width="0.45" />
<line x1="229.52" y1="416.60" x2="229.52" y2="418.10" stroke="#222" stroke-width="0.45" />
<line x1="235.64" y1="461.50" x2="235.64" y2="463.00" stroke="#222" stroke-width="0.45" />
<line x1="235.64" y1="416.60" x2="235.64" y2="418.10" stroke="#222" stroke-width="0.45" />
<line x1="241.76" y1="461.50" x2="241.76" y2="463.00" stroke="#222" stroke-width="0.45" />
<line x1="241.76" y1="416.60" x2="241.76" y2="418.10" stroke="#222" stroke-width="0.45" />
<line x1="247.88" y1="461.50" x2="247.88" y2="463.00" stroke="#222" stroke-width="0.45" />
<line x1="247.88" y1="416.60" x2="247.88" y2="418.10" stroke="#222" stroke-width="0.45" />
<line x1="254.00" y1="461.50" x2="254.00" y2="463.00" stroke="#222" stroke-width="0.45" />
<line x1="254.00" y1="416.60" x2="254.00" y2="418.10" stroke="#222" stroke-width="0.45" />
<line x1="260.12" y1="461.50" x2="260.12" y2="463.00" stroke="#222" stroke-width="0.45" />
<line x1="260.12" y1="416.60" x2="260.12" y2="418.10" stroke="#222" stroke-width="0.45" />
<line x1="266.24" y1="461.50" x2="266.24" y2="463.00" stroke="#222" stroke-width="0.45" />
<line x1="266.24" y1="416.60" x2="266.24" y2="418.10" stroke="#222" stroke-width="0.45" />
<line x1="272.36" y1="461.50" x2="272.36" y2="463.00" stroke="#222" stroke-width="0.45" />
<line x1="272.36" y1="416.60" x2="272.36" y2="418.10" stroke="#222" stroke-width="0.45" />
<line x1="278.48" y1="461.50" x2="278.48" y2="463.00" stroke="#222" stroke-width="0.45" />
<line x1="278.48" y1="416.60" x2="278.48" y2="418.10" stroke="#222" stroke-width="0.45" />
<text x="212.00" y="437.00" font-family='"Liberation Sans", "DejaVu Sans", sans-serif' font-size="8.00" fill="#1a1a1a" text-anchor="middle" transform="rotate(-90 212.00 437.00)" stroke="#1a1a1a" stroke-width="0.176">V<tspan dy="1.76" font-size="3.68">cathode</tspan><tspan dy="-1.76"> [V]</tspan></text>
<polyline points="226.4,463.0 226.4,450.8 226.8,449.0 229.0,448.3 236.0,446.8 244.0,444.4 250.0,441.7 256.0,438.0 262.0,433.8 268.0,429.8 273.0,426.6 277.0,424.0 279.6,421.8 280.8,419.6 281.4,417.4" fill="none" stroke="#1a4f9e" stroke-width="2" stroke-linejoin="round" stroke-linecap="round"/>
<line x1="274.60" y1="428.00" x2="263.60" y2="436.60" stroke="#111" stroke-width="0.9" />
<path d="M261.2 438.4 L265.9 437.2 L263.5 434.2 Z" fill="#111"/>
<text x="267.60" y="438.40" font-family='"Liberation Sans", "DejaVu Sans", sans-serif' font-size="6.00" fill="#1a1a1a" stroke="#1a1a1a" stroke-width="0.132">• Li<tspan dy="-2.16" font-size="4.08">+</tspan></text>
<text x="246.80" y="449.30" font-family='"Liberation Sans", "DejaVu Sans", sans-serif' font-size="5.95" fill="#1a1a1a" stroke="#1a1a1a" stroke-width="0.131">Voltage drop</text>
<text x="252.80" y="470.90" font-family='"Liberation Sans", "DejaVu Sans", sans-serif' font-size="6.10" fill="#1a1a1a" text-anchor="middle" stroke="#1a1a1a" stroke-width="0.134">x in Li<tspan dy="1.34" font-size="4.15">x</tspan><tspan dy="-1.34">MO</tspan><tspan dy="1.34" font-size="4.15">2</tspan></text>
<rect x="62.60" y="488.00" width="228.40" height="81.80" fill="#fff" stroke="#8a1ea6" stroke-width="1.5" />
<rect x="62.60" y="488.00" width="228.40" height="10.40" fill="#8a1ea6" stroke="#8a1ea6" stroke-width="1.5" />
<text x="71.40" y="495.70" font-family='"Liberation Sans", "DejaVu Sans", sans-serif' font-size="5.83" fill="#fff" font-weight="bold" stroke="#fff" stroke-width="0.128">2. Chemical oxidation pathway:</text>
<text x="161.50" y="495.70" font-family='"Liberation Sans", "DejaVu Sans", sans-serif' font-size="5.80" fill="#fff" stroke="#fff" stroke-width="0.128">Li<tspan dy="1.28" font-size="3.94">x</tspan><tspan dy="-1.28">MO</tspan><tspan dy="1.28" font-size="3.94">2</tspan><tspan dy="-1.28"> w/ x &lt; 0.2 and V</tspan><tspan dy="1.28" font-size="3.94">cathode</tspan><tspan dy="-1.28">  &gt; V</tspan><tspan dy="1.28" font-size="3.94">O2 release</tspan></text>
<line x1="200.00" y1="499.50" x2="200.00" y2="569.50" stroke="#8a1ea6" stroke-width="1.15" stroke-dasharray="2.4 1.5"/>
<text x="130.90" y="508.60" font-family='"Liberation Sans", "DejaVu Sans", sans-serif' font-size="5.80" fill="#111" font-weight="bold" text-anchor="middle" stroke="#111" stroke-width="0.128">Processes at high potentials</text>
<text x="245.50" y="508.60" font-family='"Liberation Sans", "DejaVu Sans", sans-serif' font-size="6.05" fill="#111" font-weight="bold" text-anchor="middle" stroke="#111" stroke-width="0.133">Storage (OCV)</text>
<text x="66.40" y="509.80" font-family='"Liberation Sans", "DejaVu Sans", sans-serif' font-size="8.20" fill="#8a1ea6" font-weight="bold" stroke="#8a1ea6" stroke-width="0.18"><tspan dy="-2.95" font-size="5.58">1</tspan><tspan dy="2.95">O</tspan><tspan dy="1.80" font-size="5.58">2</tspan></text>
<text x="66.40" y="542.60" font-family='"Liberation Sans", "DejaVu Sans", sans-serif' font-size="8.20" fill="#8a1ea6" font-weight="bold" stroke="#8a1ea6" stroke-width="0.18"><tspan dy="-2.95" font-size="5.58">1</tspan><tspan dy="2.95">O</tspan><tspan dy="1.80" font-size="5.58">2</tspan></text>
<path d="M76.4 512.6 L76.4 521.5 C76.4 525.5, 77.5 527.2, 82.0 527.7 M76.4 536.0 L76.4 533.0 C76.4 529.6, 77.5 528.2, 82.0 527.7" fill="none" stroke="#8a1ea6" stroke-width="1.15"/>
<path d="M80.6 525.5 L84.6 527.7 L80.6 529.9 Z" fill="#8a1ea6"/>
<line x1="85.40" y1="527.70" x2="91.97" y2="521.66" stroke="#222" stroke-width="0.85" stroke-linecap="round"/>
<line x1="96.51" y1="521.31" x2="105.00" y2="527.00" stroke="#222" stroke-width="0.85" stroke-linecap="round"/>
<line x1="105.00" y1="527.00" x2="100.82" y2="535.51" stroke="#222" stroke-width="0.85" stroke-linecap="round"/>
<line x1="96.50" y1="538.26" x2="88.80" y2="538.40" stroke="#222" stroke-width="0.85" stroke-linecap="round"/>
<line x1="88.80" y1="538.40" x2="85.40" y2="527.70" stroke="#222" stroke-width="0.85" stroke-linecap="round"/>
<line x1="104.94" y1="526.10" x2="110.31" y2="523.80" stroke="#222" stroke-width="0.75" />
<line x1="105.61" y1="527.66" x2="110.98" y2="525.36" stroke="#222" stroke-width="0.75" />
<text x="94.10" y="522.05" font-family='"Liberation Sans", "DejaVu Sans", sans-serif' font-size="6.60" fill="#222" text-anchor="middle" stroke="#222" stroke-width="0.145">O</text>
<text x="99.50" y="540.55" font-family='"Liberation Sans", "DejaVu Sans", sans-serif' font-size="6.60" fill="#222" text-anchor="middle" stroke="#222" stroke-width="0.145">O</text>
<text x="113.40" y="525.75" font-family='"Liberation Sans", "DejaVu Sans", sans-serif' font-size="6.60" fill="#222" text-anchor="middle" stroke="#222" stroke-width="0.145">O</text>
<text x="100.00" y="551.30" font-family='"Liberation Sans", "DejaVu Sans", sans-serif' font-size="7.20" fill="#1a1a1a" text-anchor="middle" stroke="#1a1a1a" stroke-width="0.158">EC</text>
<line x1="112.40" y1="529.90" x2="123.40" y2="529.90" stroke="#111" stroke-width="1" />
<path d="M121.9 527.7 L126.1 529.9 L121.9 532.1 Z" fill="#111"/>
<text x="130.90" y="532.80" font-family='"Liberation Sans", "DejaVu Sans", sans-serif' font-size="7.73" fill="#1a1a1a" stroke="#1a1a1a" stroke-width="0.17">2CO<tspan dy="1.70" font-size="5.26">2</tspan><tspan dy="-1.70"> + CO + 2H</tspan><tspan dy="1.70" font-size="5.26">2</tspan><tspan dy="-1.70">O</tspan></text>
<text x="81.00" y="563.70" font-family='"Liberation Sans", "DejaVu Sans", sans-serif' font-size="5.84" fill="#1a1a1a" stroke="#1a1a1a" stroke-width="0.128">chem. oxidation = initiates upon <tspan dy="-2.10" font-size="3.97">1</tspan><tspan dy="2.10">O</tspan><tspan dy="1.28" font-size="3.97">2</tspan><tspan dy="-1.28"> release</tspan></text>
<text x="205.90" y="533.30" font-family='"Liberation Sans", "DejaVu Sans", sans-serif' font-size="7.80" fill="#1a1a1a" stroke="#1a1a1a" stroke-width="0.172">MO<tspan dy="1.72" font-size="5.30">2</tspan></text>
<text x="236.70" y="533.30" font-family='"Liberation Sans", "DejaVu Sans", sans-serif' font-size="7.80" fill="#1a1a1a" stroke="#1a1a1a" stroke-width="0.172">M<tspan dy="1.72" font-size="5.30">3</tspan><tspan dy="-1.72">O</tspan><tspan dy="1.72" font-size="5.30">4</tspan></text>
<text x="271.20" y="533.30" font-family='"Liberation Sans", "DejaVu Sans", sans-serif' font-size="7.80" fill="#1a1a1a" stroke="#1a1a1a" stroke-width="0.172">MO</text>
<text x="228.30" y="520.90" font-family='"Liberation Sans", "DejaVu Sans", sans-serif' font-size="7.60" fill="#8a1ea6" font-weight="bold" stroke="#8a1ea6" stroke-width="0.167"><tspan dy="-2.74" font-size="5.17">1</tspan><tspan dy="2.74">O</tspan><tspan dy="1.67" font-size="5.17">2</tspan></text>
<text x="260.20" y="520.90" font-family='"Liberation Sans", "DejaVu Sans", sans-serif' font-size="7.60" fill="#8a1ea6" font-weight="bold" stroke="#8a1ea6" stroke-width="0.167"><tspan dy="-2.74" font-size="5.17">1</tspan><tspan dy="2.74">O</tspan><tspan dy="1.67" font-size="5.17">2</tspan></text>
<line x1="223.00" y1="529.30" x2="233.20" y2="529.30" stroke="#111" stroke-width="1" />
<path d="M231.6 527.2 L235.2 529.3 L231.6 531.4 Z" fill="#111"/>
<path d="M224.5 529.3 Q230.4 529.0 231.6 524.2" fill="none" stroke="#111" stroke-width="1.1"/>
<path d="M230.0 525.4 L232.2 522.6 L233.2 525.8 Z" fill="#111"/>
<line x1="255.80" y1="529.30" x2="266.60" y2="529.30" stroke="#111" stroke-width="1" />
<path d="M265.0 527.2 L268.6 529.3 L265.0 531.4 Z" fill="#111"/>
<path d="M257.3 529.3 Q263.2 529.0 264.4 524.2" fill="none" stroke="#111" stroke-width="1.1"/>
<path d="M262.8 525.4 L265.0 522.6 L266.0 525.8 Z" fill="#111"/>
<text x="214.40" y="540.60" font-family='"Liberation Sans", "DejaVu Sans", sans-serif' font-size="5.25" fill="#1a1a1a" text-anchor="middle" stroke="#1a1a1a" stroke-width="0.115">layered</text>
<text x="245.80" y="540.60" font-family='"Liberation Sans", "DejaVu Sans", sans-serif' font-size="5.60" fill="#1a1a1a" text-anchor="middle" stroke="#1a1a1a" stroke-width="0.123">spinel</text>
<text x="276.80" y="540.60" font-family='"Liberation Sans", "DejaVu Sans", sans-serif' font-size="5.60" fill="#1a1a1a" text-anchor="middle" stroke="#1a1a1a" stroke-width="0.123">rock-salt</text>
<text x="246.00" y="555.00" font-family='"Liberation Sans", "DejaVu Sans", sans-serif' font-size="5.80" fill="#1a1a1a" text-anchor="middle" stroke="#1a1a1a" stroke-width="0.128">Spinel/rock-salt formation</text>
<text x="245.90" y="563.30" font-family='"Liberation Sans", "DejaVu Sans", sans-serif' font-size="5.80" fill="#1a1a1a" text-anchor="middle" stroke="#1a1a1a" stroke-width="0.128">changes Galvani potential</text>
<line x1="51.30" y1="496.60" x2="51.30" y2="505.60" stroke="#111" stroke-width="1" />
<path d="M49.2 504.2 L51.3 507.6 L53.4 504.2 Z" fill="#111"/>
<path d="M51.3 497.1 Q52.0 506.8 63.0 507.4" fill="none" stroke="#111" stroke-width="1.1"/>
<path d="M62.0 505.8 L65.2 507.6 L62.0 509.2 Z" fill="#111"/>
<line x1="51.30" y1="533.00" x2="51.30" y2="543.60" stroke="#111" stroke-width="1" />
<path d="M49.2 542.2 L51.3 545.6 L53.4 542.2 Z" fill="#111"/>
<path d="M51.3 533.5 Q52.0 539.0 63.0 539.6" fill="none" stroke="#111" stroke-width="1.1"/>
<path d="M62.0 538.0 L65.2 539.8 L62.0 541.4 Z" fill="#111"/>
</g>
<g id="panel_f">
<text x="300.40" y="383.30" font-family='"Liberation Sans", "DejaVu Sans", sans-serif' font-size="22.00" fill="#1a1a1a" letter-spacing="-0.2">(f)</text>
<polyline points="344.1,439.3 344.5,428.3 345.4,420.6 347.3,416.8 350.0,415.1 353.8,413.3 358.1,410.2 361.9,406.2 365.1,401.8 367.2,397.4 372.6,397.4 372.8,399.0 374.5,403.6 376.9,405.8 380.7,408.9 388.8,417.3 391.7,419.9 392.0,439.3 392.2,439.3 392.4,421.7 393.2,418.4 395.6,415.1 399.4,412.4 403.2,408.9 406.9,405.1 409.9,400.7 411.8,397.4 418.0,397.4 418.1,399.0 419.6,403.6 421.7,405.8 425.0,408.9 428.7,413.3 432.0,417.3 435.2,419.9 436.1,421.0 436.3,439.3 436.5,439.3 436.6,421.7 437.4,418.4 439.9,415.1 443.6,412.4 447.4,408.9 451.2,405.1 454.1,400.7 456.0,397.4 462.2,397.4 462.4,399.0 463.8,403.6 466.0,405.8 469.2,408.9 473.0,413.3 476.2,417.3 479.4,419.9 480.3,421.0 480.5,439.3 480.7,439.3 480.6,421.7 481.5,418.4 483.9,415.1 487.6,412.4 491.4,408.9 495.2,405.1 498.1,400.7 500.0,397.4 506.2,397.4 506.4,399.0 507.8,403.6 510.0,405.8 513.2,408.9 517.0,413.3 520.2,417.3 523.0,421.7 524.1,426.1 524.3,439.3" fill="none" stroke="#3a9b22" stroke-width="1.5" stroke-linejoin="round"/>
<line x1="341.60" y1="401.84" x2="365.62" y2="401.84" stroke="#222" stroke-width="0.8" stroke-dasharray="0.9 1.3"/>
<line x1="365.62" y1="401.84" x2="365.62" y2="566.00" stroke="#222" stroke-width="0.8" stroke-dasharray="0.9 1.3"/>
<text x="344.40" y="400.60" font-family='"Liberation Sans", "DejaVu Sans", sans-serif' font-size="6.60" fill="#111" font-weight="bold" stroke="#111" stroke-width="0.145">4.20 V</text>
<rect x="341.60" y="380.00" width="186.00" height="186.00" fill="none" stroke="#111" stroke-width="0.9" />
<line x1="341.60" y1="442.20" x2="527.60" y2="442.20" stroke="#111" stroke-width="0.9" />
<line x1="341.60" y1="439.32" x2="344.20" y2="439.32" stroke="#111" stroke-width="0.7" />
<line x1="525.00" y1="439.32" x2="527.60" y2="439.32" stroke="#111" stroke-width="0.7" />
<text x="338.60" y="441.72" font-family='"Liberation Sans", "DejaVu Sans", sans-serif' font-size="6.60" fill="#222" text-anchor="end" stroke="#222" stroke-width="0.145">2.5</text>
<line x1="341.60" y1="428.30" x2="344.20" y2="428.30" stroke="#111" stroke-width="0.7" />
<line x1="525.00" y1="428.30" x2="527.60" y2="428.30" stroke="#111" stroke-width="0.7" />
<text x="338.60" y="430.70" font-family='"Liberation Sans", "DejaVu Sans", sans-serif' font-size="6.60" fill="#222" text-anchor="end" stroke="#222" stroke-width="0.145">3.0</text>
<line x1="341.60" y1="417.27" x2="344.20" y2="417.27" stroke="#111" stroke-width="0.7" />
<line x1="525.00" y1="417.27" x2="527.60" y2="417.27" stroke="#111" stroke-width="0.7" />
<text x="338.60" y="419.67" font-family='"Liberation Sans", "DejaVu Sans", sans-serif' font-size="6.60" fill="#222" text-anchor="end" stroke="#222" stroke-width="0.145">3.5</text>
<line x1="341.60" y1="406.25" x2="344.20" y2="406.25" stroke="#111" stroke-width="0.7" />
<line x1="525.00" y1="406.25" x2="527.60" y2="406.25" stroke="#111" stroke-width="0.7" />
<text x="338.60" y="408.65" font-family='"Liberation Sans", "DejaVu Sans", sans-serif' font-size="6.60" fill="#222" text-anchor="end" stroke="#222" stroke-width="0.145">4.0</text>
<line x1="341.60" y1="395.22" x2="344.20" y2="395.22" stroke="#111" stroke-width="0.7" />
<line x1="525.00" y1="395.22" x2="527.60" y2="395.22" stroke="#111" stroke-width="0.7" />
<text x="338.60" y="397.62" font-family='"Liberation Sans", "DejaVu Sans", sans-serif' font-size="6.60" fill="#222" text-anchor="end" stroke="#222" stroke-width="0.145">4.5</text>
<line x1="341.60" y1="384.20" x2="344.20" y2="384.20" stroke="#111" stroke-width="0.7" />
<line x1="525.00" y1="384.20" x2="527.60" y2="384.20" stroke="#111" stroke-width="0.7" />
<text x="338.60" y="386.60" font-family='"Liberation Sans", "DejaVu Sans", sans-serif' font-size="6.60" fill="#222" text-anchor="end" stroke="#222" stroke-width="0.145">5.0</text>
<line x1="341.60" y1="433.81" x2="343.10" y2="433.81" stroke="#111" stroke-width="0.6" />
<line x1="526.10" y1="433.81" x2="527.60" y2="433.81" stroke="#111" stroke-width="0.6" />
<line x1="341.60" y1="422.79" x2="343.10" y2="422.79" stroke="#111" stroke-width="0.6" />
<line x1="526.10" y1="422.79" x2="527.60" y2="422.79" stroke="#111" stroke-width="0.6" />
<line x1="341.60" y1="411.76" x2="343.10" y2="411.76" stroke="#111" stroke-width="0.6" />
<line x1="526.10" y1="411.76" x2="527.60" y2="411.76" stroke="#111" stroke-width="0.6" />
<line x1="341.60" y1="400.74" x2="343.10" y2="400.74" stroke="#111" stroke-width="0.6" />
<line x1="526.10" y1="400.74" x2="527.60" y2="400.74" stroke="#111" stroke-width="0.6" />
<line x1="341.60" y1="389.71" x2="343.10" y2="389.71" stroke="#111" stroke-width="0.6" />
<line x1="526.10" y1="389.71" x2="527.60" y2="389.71" stroke="#111" stroke-width="0.6" />
<line x1="344.10" y1="380.00" x2="344.10" y2="382.60" stroke="#111" stroke-width="0.7" />
<line x1="344.10" y1="442.20" x2="344.10" y2="439.60" stroke="#111" stroke-width="0.7" />
<line x1="344.10" y1="442.20" x2="344.10" y2="444.80" stroke="#111" stroke-width="0.7" />
<line x1="344.10" y1="566.00" x2="344.10" y2="563.40" stroke="#111" stroke-width="0.7" />
<text x="344.10" y="574.60" font-family='"Liberation Sans", "DejaVu Sans", sans-serif' font-size="6.60" fill="#222" text-anchor="middle" stroke="#222" stroke-width="0.145">0</text>
<line x1="357.55" y1="380.00" x2="357.55" y2="381.50" stroke="#111" stroke-width="0.6" />
<line x1="357.55" y1="442.20" x2="357.55" y2="440.70" stroke="#111" stroke-width="0.6" />
<line x1="357.55" y1="442.20" x2="357.55" y2="443.70" stroke="#111" stroke-width="0.6" />
<line x1="357.55" y1="566.00" x2="357.55" y2="564.50" stroke="#111" stroke-width="0.6" />
<line x1="371.00" y1="380.00" x2="371.00" y2="382.60" stroke="#111" stroke-width="0.7" />
<line x1="371.00" y1="442.20" x2="371.00" y2="439.60" stroke="#111" stroke-width="0.7" />
<line x1="371.00" y1="442.20" x2="371.00" y2="444.80" stroke="#111" stroke-width="0.7" />
<line x1="371.00" y1="566.00" x2="371.00" y2="563.40" stroke="#111" stroke-width="0.7" />
<text x="371.00" y="574.60" font-family='"Liberation Sans", "DejaVu Sans", sans-serif' font-size="6.60" fill="#222" text-anchor="middle" stroke="#222" stroke-width="0.145">5</text>
<line x1="384.45" y1="380.00" x2="384.45" y2="381.50" stroke="#111" stroke-width="0.6" />
<line x1="384.45" y1="442.20" x2="384.45" y2="440.70" stroke="#111" stroke-width="0.6" />
<line x1="384.45" y1="442.20" x2="384.45" y2="443.70" stroke="#111" stroke-width="0.6" />
<line x1="384.45" y1="566.00" x2="384.45" y2="564.50" stroke="#111" stroke-width="0.6" />
<line x1="397.90" y1="380.00" x2="397.90" y2="382.60" stroke="#111" stroke-width="0.7" />
<line x1="397.90" y1="442.20" x2="397.90" y2="439.60" stroke="#111" stroke-width="0.7" />
<line x1="397.90" y1="442.20" x2="397.90" y2="444.80" stroke="#111" stroke-width="0.7" />
<line x1="397.90" y1="566.00" x2="397.90" y2="563.40" stroke="#111" stroke-width="0.7" />
<text x="397.90" y="574.60" font-family='"Liberation Sans", "DejaVu Sans", sans-serif' font-size="6.60" fill="#222" text-anchor="middle" stroke="#222" stroke-width="0.145">10</text>
<line x1="411.35" y1="380.00" x2="411.35" y2="381.50" stroke="#111" stroke-width="0.6" />
<line x1="411.35" y1="442.20" x2="411.35" y2="440.70" stroke="#111" stroke-width="0.6" />
<line x1="411.35" y1="442.20" x2="411.35" y2="443.70" stroke="#111" stroke-width="0.6" />
<line x1="411.35" y1="566.00" x2="411.35" y2="564.50" stroke="#111" stroke-width="0.6" />
<line x1="424.80" y1="380.00" x2="424.80" y2="382.60" stroke="#111" stroke-width="0.7" />
<line x1="424.80" y1="442.20" x2="424.80" y2="439.60" stroke="#111" stroke-width="0.7" />
<line x1="424.80" y1="442.20" x2="424.80" y2="444.80" stroke="#111" stroke-width="0.7" />
<line x1="424.80" y1="566.00" x2="424.80" y2="563.40" stroke="#111" stroke-width="0.7" />
<text x="424.80" y="574.60" font-family='"Liberation Sans", "DejaVu Sans", sans-serif' font-size="6.60" fill="#222" text-anchor="middle" stroke="#222" stroke-width="0.145">15</text>
<line x1="438.25" y1="380.00" x2="438.25" y2="381.50" stroke="#111" stroke-width="0.6" />
<line x1="438.25" y1="442.20" x2="438.25" y2="440.70" stroke="#111" stroke-width="0.6" />
<line x1="438.25" y1="442.20" x2="438.25" y2="443.70" stroke="#111" stroke-width="0.6" />
<line x1="438.25" y1="566.00" x2="438.25" y2="564.50" stroke="#111" stroke-width="0.6" />
<line x1="451.70" y1="380.00" x2="451.70" y2="382.60" stroke="#111" stroke-width="0.7" />
<line x1="451.70" y1="442.20" x2="451.70" y2="439.60" stroke="#111" stroke-width="0.7" />
<line x1="451.70" y1="442.20" x2="451.70" y2="444.80" stroke="#111" stroke-width="0.7" />
<line x1="451.70" y1="566.00" x2="451.70" y2="563.40" stroke="#111" stroke-width="0.7" />
<text x="451.70" y="574.60" font-family='"Liberation Sans", "DejaVu Sans", sans-serif' font-size="6.60" fill="#222" text-anchor="middle" stroke="#222" stroke-width="0.145">20</text>
<line x1="465.15" y1="380.00" x2="465.15" y2="381.50" stroke="#111" stroke-width="0.6" />
<line x1="465.15" y1="442.20" x2="465.15" y2="440.70" stroke="#111" stroke-width="0.6" />
<line x1="465.15" y1="442.20" x2="465.15" y2="443.70" stroke="#111" stroke-width="0.6" />
<line x1="465.15" y1="566.00" x2="465.15" y2="564.50" stroke="#111" stroke-width="0.6" />
<line x1="478.60" y1="380.00" x2="478.60" y2="382.60" stroke="#111" stroke-width="0.7" />
<line x1="478.60" y1="442.20" x2="478.60" y2="439.60" stroke="#111" stroke-width="0.7" />
<line x1="478.60" y1="442.20" x2="478.60" y2="444.80" stroke="#111" stroke-width="0.7" />
<line x1="478.60" y1="566.00" x2="478.60" y2="563.40" stroke="#111" stroke-width="0.7" />
<text x="478.60" y="574.60" font-family='"Liberation Sans", "DejaVu Sans", sans-serif' font-size="6.60" fill="#222" text-anchor="middle" stroke="#222" stroke-width="0.145">25</text>
<line x1="492.05" y1="380.00" x2="492.05" y2="381.50" stroke="#111" stroke-width="0.6" />
<line x1="492.05" y1="442.20" x2="492.05" y2="440.70" stroke="#111" stroke-width="0.6" />
<line x1="492.05" y1="442.20" x2="492.05" y2="443.70" stroke="#111" stroke-width="0.6" />
<line x1="492.05" y1="566.00" x2="492.05" y2="564.50" stroke="#111" stroke-width="0.6" />
<line x1="505.50" y1="380.00" x2="505.50" y2="382.60" stroke="#111" stroke-width="0.7" />
<line x1="505.50" y1="442.20" x2="505.50" y2="439.60" stroke="#111" stroke-width="0.7" />
<line x1="505.50" y1="442.20" x2="505.50" y2="444.80" stroke="#111" stroke-width="0.7" />
<line x1="505.50" y1="566.00" x2="505.50" y2="563.40" stroke="#111" stroke-width="0.7" />
<text x="505.50" y="574.60" font-family='"Liberation Sans", "DejaVu Sans", sans-serif' font-size="6.60" fill="#222" text-anchor="middle" stroke="#222" stroke-width="0.145">30</text>
<line x1="518.95" y1="380.00" x2="518.95" y2="381.50" stroke="#111" stroke-width="0.6" />
<line x1="518.95" y1="442.20" x2="518.95" y2="440.70" stroke="#111" stroke-width="0.6" />
<line x1="518.95" y1="442.20" x2="518.95" y2="443.70" stroke="#111" stroke-width="0.6" />
<line x1="518.95" y1="566.00" x2="518.95" y2="564.50" stroke="#111" stroke-width="0.6" />
<line x1="341.60" y1="558.70" x2="344.20" y2="558.70" stroke="#111" stroke-width="0.7" />
<text x="338.60" y="561.10" font-family='"Liberation Sans", "DejaVu Sans", sans-serif' font-size="6.60" fill="#222" text-anchor="end" stroke="#222" stroke-width="0.145">0</text>
<line x1="341.60" y1="549.70" x2="343.10" y2="549.70" stroke="#111" stroke-width="0.6" />
<line x1="341.60" y1="540.70" x2="344.20" y2="540.70" stroke="#111" stroke-width="0.7" />
<text x="338.60" y="543.10" font-family='"Liberation Sans", "DejaVu Sans", sans-serif' font-size="6.60" fill="#222" text-anchor="end" stroke="#222" stroke-width="0.145">50</text>
<line x1="341.60" y1="531.70" x2="343.10" y2="531.70" stroke="#111" stroke-width="0.6" />
<line x1="341.60" y1="522.70" x2="344.20" y2="522.70" stroke="#111" stroke-width="0.7" />
<text x="338.60" y="525.10" font-family='"Liberation Sans", "DejaVu Sans", sans-serif' font-size="6.60" fill="#222" text-anchor="end" stroke="#222" stroke-width="0.145">100</text>
<line x1="341.60" y1="513.70" x2="343.10" y2="513.70" stroke="#111" stroke-width="0.6" />
<line x1="341.60" y1="504.70" x2="344.20" y2="504.70" stroke="#111" stroke-width="0.7" />
<text x="338.60" y="507.10" font-family='"Liberation Sans", "DejaVu Sans", sans-serif' font-size="6.60" fill="#222" text-anchor="end" stroke="#222" stroke-width="0.145">150</text>
<line x1="341.60" y1="495.70" x2="343.10" y2="495.70" stroke="#111" stroke-width="0.6" />
<line x1="341.60" y1="486.70" x2="344.20" y2="486.70" stroke="#111" stroke-width="0.7" />
<text x="338.60" y="489.10" font-family='"Liberation Sans", "DejaVu Sans", sans-serif' font-size="6.60" fill="#222" text-anchor="end" stroke="#222" stroke-width="0.145">200</text>
<line x1="341.60" y1="477.70" x2="343.10" y2="477.70" stroke="#111" stroke-width="0.6" />
<line x1="341.60" y1="468.70" x2="344.20" y2="468.70" stroke="#111" stroke-width="0.7" />
<text x="338.60" y="471.10" font-family='"Liberation Sans", "DejaVu Sans", sans-serif' font-size="6.60" fill="#222" text-anchor="end" stroke="#222" stroke-width="0.145">250</text>
<line x1="341.60" y1="459.70" x2="343.10" y2="459.70" stroke="#111" stroke-width="0.6" />
<line x1="341.60" y1="450.70" x2="344.20" y2="450.70" stroke="#111" stroke-width="0.7" />
<text x="338.60" y="453.10" font-family='"Liberation Sans", "DejaVu Sans", sans-serif' font-size="6.60" fill="#222" text-anchor="end" stroke="#222" stroke-width="0.145">300</text>
<line x1="525.00" y1="558.70" x2="527.60" y2="558.70" stroke="#111" stroke-width="0.7" />
<text x="531.00" y="561.10" font-family='"Liberation Sans", "DejaVu Sans", sans-serif' font-size="6.60" fill="#222" stroke="#222" stroke-width="0.145">0</text>
<line x1="525.00" y1="512.60" x2="527.60" y2="512.60" stroke="#111" stroke-width="0.7" />
<text x="531.00" y="515.00" font-family='"Liberation Sans", "DejaVu Sans", sans-serif' font-size="6.60" fill="#222" stroke="#222" stroke-width="0.145">4</text>
<line x1="525.00" y1="466.50" x2="527.60" y2="466.50" stroke="#111" stroke-width="0.7" />
<text x="531.00" y="468.90" font-family='"Liberation Sans", "DejaVu Sans", sans-serif' font-size="6.60" fill="#222" stroke="#222" stroke-width="0.145">8</text>
<line x1="526.10" y1="535.65" x2="527.60" y2="535.65" stroke="#111" stroke-width="0.6" />
<line x1="526.10" y1="489.55" x2="527.60" y2="489.55" stroke="#111" stroke-width="0.6" />
<line x1="526.10" y1="443.45" x2="527.60" y2="443.45" stroke="#111" stroke-width="0.6" />
<text x="321.00" y="412.00" font-family='"Liberation Sans", "DejaVu Sans", sans-serif' font-size="7.40" fill="#222" text-anchor="middle" transform="rotate(-90 321.00 412.00)" stroke="#222" stroke-width="0.163">Voltage [V]</text>
<text x="321.00" y="505.00" font-family='"Liberation Sans", "DejaVu Sans", sans-serif' font-size="7.40" fill="#222" text-anchor="middle" transform="rotate(-90 321.00 505.00)" stroke="#222" stroke-width="0.163">Gas evolution [µmol/m²<tspan dy="1.63" font-size="5.03"> CAM</tspan><tspan dy="-1.63">]</tspan></text>
<text x="543.20" y="504.00" font-family='"Liberation Sans", "DejaVu Sans", sans-serif' font-size="7.40" fill="#222" text-anchor="middle" transform="rotate(-90 543.20 504.00)" stroke="#222" stroke-width="0.163">Gas evolution [µmol/m²<tspan dy="1.63" font-size="5.03"> C</tspan><tspan dy="-1.63">]</tspan></text>
<text x="434.50" y="586.20" font-family='"Liberation Sans", "DejaVu Sans", sans-serif' font-size="7.40" fill="#222" text-anchor="middle" stroke="#222" stroke-width="0.163">Time [h]</text>
<line x1="341.60" y1="558.70" x2="527.60" y2="558.70" stroke="#b5b5b5" stroke-width="0.8" />
<polyline points="344.1,558.7 345.1,550.9 345.4,546.6 346.4,528.1 347.7,507.3 348.6,497.1 349.3,492.2 349.9,489.1 350.9,485.7 351.8,483.1 353.1,480.4 354.1,478.9 354.8,478.2 356.4,476.9 358.3,475.7 360.9,474.5 363.5,473.6 365.1,473.1 367.3,472.8 390.6,470.7 406.4,469.6 427.7,468.6 501.0,466.7 523.6,465.8" fill="none" stroke="#e8592a" stroke-width="1.4" stroke-dasharray="2.8 1.6"/>
<polyline points="344.1,558.4 345.1,553.2 346.7,543.1 348.3,537.0 348.9,535.4 349.6,533.2 351.8,528.0 352.5,526.7 356.0,521.2 356.4,521.1 356.7,520.5 357.3,519.9 358.3,518.6 358.6,518.4 359.3,517.6 359.9,517.3 360.9,515.9 362.2,514.4 362.5,514.3 363.1,513.7 363.5,513.6 363.8,513.2 364.4,512.8 364.8,512.2 365.4,512.0 365.7,511.6 366.4,511.4 368.6,509.7 369.3,509.7 369.6,509.8 369.9,509.5 370.2,509.6 370.9,508.9 371.9,508.8 372.2,508.5 373.5,508.1 373.8,507.8 374.1,507.8 375.1,507.2 375.4,507.3 376.4,506.6 376.7,506.6 377.0,506.7 377.3,506.7 377.7,506.5 378.3,506.3 379.0,505.6 379.3,505.6 379.6,505.3 380.3,505.8 380.6,505.6 382.2,505.0 382.5,505.0 382.8,505.1 383.5,504.9 383.8,504.6 384.1,504.7 384.8,504.6 385.1,504.5 385.4,504.2 385.7,504.1 386.1,504.1 386.7,503.9 387.4,503.9 388.0,503.4 389.0,503.4 389.3,503.5 390.3,503.1 390.9,503.2 391.6,502.8 391.9,502.8 392.5,502.4 393.8,502.5 394.8,501.9 395.4,502.0 396.7,501.7 398.0,500.6 398.7,500.4 399.0,500.5 399.3,500.3 400.3,500.4 401.2,500.1 401.6,500.2 401.9,500.1 402.2,500.3 402.5,500.0 403.5,499.8 404.1,500.0 404.5,499.9 404.8,499.6 405.4,499.6 405.8,499.5 406.4,499.8 407.4,499.4 407.7,499.0 408.3,498.8 409.0,498.1 409.3,498.3 409.6,498.3 410.0,498.1 411.6,498.4 412.5,497.5 412.9,497.4 413.2,497.6 414.5,497.1 414.8,497.3 415.1,497.1 415.4,497.2 415.8,497.1 416.7,496.3 417.1,496.6 417.7,496.2 418.3,495.9 418.7,496.0 419.3,495.6 420.6,495.5 421.9,494.6 422.5,494.6 423.5,494.7 425.4,494.3 426.1,493.7 427.4,493.8 428.7,493.0 429.6,493.1 431.6,492.5 432.2,492.9 432.9,492.6 433.8,492.8 434.2,493.0 435.1,492.9 436.4,492.4 437.1,492.3 437.4,491.9 437.7,492.0 438.0,491.7 438.4,491.9 439.0,491.7 439.3,491.8 439.6,492.2 440.0,491.9 440.6,492.1 441.6,491.8 441.9,491.7 442.2,491.9 442.6,491.7 442.9,491.7 443.2,491.6 443.8,491.2 444.8,491.2 445.1,491.5 446.1,491.6 446.8,491.4 447.4,490.8 447.7,491.0 448.0,490.9 448.4,491.0 450.0,490.4 450.3,490.4 450.6,490.7 450.9,490.8 451.9,490.8 452.2,490.4 452.6,490.4 452.9,490.1 453.2,490.1 453.5,489.8 453.9,490.0 454.2,489.8 454.5,490.0 455.1,489.6 455.8,489.8 456.4,489.7 456.8,489.8 457.7,489.2 458.0,489.1 458.7,489.3 459.0,489.0 459.3,489.2 459.7,489.2 460.6,488.6 461.0,488.8 461.3,488.5 463.2,488.5 463.5,488.3 464.2,488.7 465.2,488.2 465.5,487.9 466.1,487.9 467.1,487.5 468.4,488.0 468.7,487.8 469.7,487.8 470.0,487.5 471.3,487.3 471.9,487.0 472.3,487.1 473.5,486.7 474.5,486.8 474.8,487.0 475.8,486.8 476.8,487.0 477.1,486.8 477.7,486.8 478.1,487.0 478.4,487.0 478.7,487.4 479.0,487.1 479.7,486.9 480.3,487.1 481.9,486.4 482.3,486.6 483.2,486.9 483.9,487.2 484.5,487.1 485.2,486.8 485.5,486.5 486.1,486.8 486.8,486.6 487.1,486.7 488.1,486.0 489.4,486.0 489.7,485.8 490.3,485.8 490.7,486.1 491.3,485.7 491.9,485.6 492.3,485.8 492.9,486.0 493.6,485.8 493.9,486.0 494.5,486.0 494.8,485.6 496.1,485.4 497.1,485.6 497.4,485.3 497.8,485.3 498.4,485.5 499.4,485.4 499.7,485.2 500.3,485.2 501.3,484.8 501.9,484.9 502.9,484.5 504.2,484.3 504.5,484.5 505.2,484.6 505.5,484.4 505.8,484.4 506.1,484.2 506.5,484.4 506.8,484.4 507.8,484.1 508.1,484.4 509.1,484.2 509.4,484.4 509.7,484.2 510.0,484.5 511.0,484.0 512.3,484.1 513.6,483.7 513.9,483.5 514.2,483.8 514.5,483.8 515.2,483.5 516.5,483.5 517.8,483.6 518.1,483.4 518.4,483.5 519.1,482.9 519.4,482.9 519.7,482.6 520.0,482.7 520.3,482.4 521.0,482.7 521.3,482.7 521.6,482.4 522.0,482.6 522.3,482.5 522.9,482.8 523.6,482.7" fill="none" stroke="#b9c531" stroke-width="1.4" stroke-dasharray="2.4 1.5"/>
<polyline points="344.1,558.6 344.4,558.0 345.1,557.7 345.4,557.4 345.7,556.6 346.4,556.1 347.0,554.9 348.0,554.1 348.6,552.8 349.3,552.7 349.9,551.9 350.2,552.1 350.6,551.9 350.9,551.3 351.2,551.1 353.1,548.8 353.8,548.5 354.1,548.0 355.4,547.5 355.7,546.8 356.7,545.6 358.0,544.8 358.3,544.5 358.6,544.4 359.3,543.9 359.9,543.6 360.6,542.9 361.5,542.5 362.2,542.1 362.5,542.2 363.5,541.4 363.8,541.4 365.1,539.8 365.4,539.7 366.1,539.2 367.3,537.4 367.7,537.3 368.0,536.8 368.3,536.8 369.0,535.7 369.6,536.1 369.9,535.6 370.2,535.5 370.6,535.1 370.9,535.2 371.5,534.9 371.9,534.6 372.2,534.5 372.5,534.0 372.8,534.1 373.2,533.7 373.8,533.4 374.4,533.8 374.8,533.4 375.1,533.6 376.1,533.4 376.4,533.2 377.0,533.3 377.3,532.9 377.7,532.9 378.6,531.8 379.0,531.6 379.3,531.9 379.9,531.9 380.3,531.5 380.6,531.4 381.5,531.4 383.2,530.9 384.8,531.1 385.7,531.5 386.1,531.5 386.4,532.0 386.7,531.7 387.0,532.2 387.7,532.1 388.0,531.9 389.0,531.7 389.3,531.5 389.6,531.0 389.9,531.0 390.3,531.5 390.6,531.5 390.9,531.4 391.2,530.7 391.9,531.0 392.5,530.9 392.8,531.2 393.2,530.9 393.5,531.2 393.8,531.2 394.1,530.9 394.5,531.1 394.8,531.1 395.1,530.7 396.1,531.0 396.4,530.8 396.7,531.1 397.7,531.4 398.0,531.0 398.7,530.9 399.0,530.8 399.6,531.0 400.3,530.5 400.6,530.6 401.2,530.1 401.9,530.0 402.2,530.3 402.5,530.3 402.8,530.6 403.2,530.3 403.5,530.4 403.8,530.1 404.1,530.2 404.5,530.0 404.8,530.3 405.1,530.4 406.1,530.1 406.4,530.4 406.7,530.1 407.7,529.5 408.0,529.6 408.3,529.6 408.7,529.1 409.0,529.3 409.3,529.3 409.6,529.5 410.0,529.1 410.3,529.1 411.2,529.8 411.9,530.6 412.5,530.5 413.5,530.0 413.8,529.5 414.5,529.8 415.1,528.8 415.8,529.1 416.4,529.0 416.7,528.7 417.1,528.7 417.7,528.5 418.3,528.8 419.0,528.3 419.3,528.3 420.0,527.6 421.6,526.9 421.9,526.9 422.2,527.3 422.5,527.3 423.2,527.6 423.5,527.4 423.8,527.7 424.2,527.4 425.1,527.7 425.8,526.8 426.1,526.8 426.7,526.3 427.4,526.7 428.0,526.5 428.4,526.6 428.7,526.3 429.3,526.2 429.6,525.8 430.0,525.9 430.3,525.5 431.3,525.9 432.2,525.9 432.9,526.6 433.2,526.7 433.8,526.3 434.2,526.8 434.8,526.9 435.5,526.8 436.1,527.1 436.7,526.7 437.4,526.7 438.0,527.1 438.4,526.8 439.3,527.1 439.6,526.7 440.6,526.4 441.3,526.1 441.6,526.4 442.2,526.5 442.9,526.4 443.2,526.8 443.5,526.5 443.8,526.4 444.2,526.7 444.5,526.4 445.8,526.1 446.1,526.2 446.4,526.5 446.8,526.5 447.7,526.1 448.0,526.1 448.4,526.5 448.7,526.3 449.3,526.5 449.7,526.5 450.0,526.6 450.3,526.4 450.6,526.5 450.9,525.9 451.9,526.0 452.2,526.3 452.9,526.2 453.2,526.1 453.5,526.3 454.2,525.4 455.1,524.7 455.8,524.5 456.4,523.9 457.1,524.2 457.4,523.5 457.7,523.3 458.0,523.5 459.0,522.9 459.3,523.2 459.7,522.6 460.6,522.2 461.3,522.2 461.6,522.0 461.9,522.3 463.9,521.0 464.2,520.9 464.5,521.1 464.8,521.0 465.5,521.4 466.1,521.2 466.4,521.0 466.8,521.5 467.4,521.2 467.7,521.1 468.1,520.8 468.4,521.1 468.7,521.0 470.0,521.3 471.0,520.9 471.3,521.1 471.6,520.7 471.9,520.9 472.9,520.8 473.5,520.6 473.9,520.3 474.2,520.2 474.5,520.2 474.8,520.4 475.8,520.2 476.4,520.5 477.1,520.6 477.4,520.8 477.7,520.4 479.0,520.5 479.4,520.0 480.3,520.6 480.6,520.6 481.0,520.3 481.6,520.4 481.9,520.8 482.6,520.6 483.2,520.6 483.9,520.2 484.2,520.2 484.8,520.6 485.2,520.2 485.5,520.4 485.8,520.2 486.5,520.3 486.8,520.1 487.1,520.2 487.4,519.9 487.7,520.1 488.4,519.6 488.7,519.8 489.0,519.4 489.4,519.3 489.7,519.8 490.3,519.1 491.0,519.3 491.3,519.2 491.6,519.6 492.3,519.3 492.6,519.4 493.2,518.8 493.9,519.6 494.2,519.6 494.8,519.3 495.8,519.6 496.1,519.2 496.8,519.4 497.1,519.1 497.8,519.2 498.1,518.8 498.4,518.7 499.0,518.9 499.4,518.6 500.0,518.6 500.7,518.2 501.0,518.5 501.3,518.6 501.9,518.5 502.6,518.0 503.2,518.3 503.6,518.2 503.9,518.3 504.2,517.9 504.9,517.8 505.2,517.6 506.1,517.8 507.4,517.1 508.4,517.3 508.7,517.0 509.4,517.2 510.0,517.0 511.3,517.5 512.0,517.1 512.6,517.5 512.9,517.3 513.6,517.5 513.9,517.1 514.5,517.2 514.9,517.0 515.2,517.1 516.2,516.8 516.5,517.0 516.8,516.8 517.1,516.7 517.4,516.4 517.8,516.4 518.7,517.0 519.4,517.0 519.7,516.8 520.0,516.8 520.3,517.0 520.7,516.8 521.3,516.8 522.0,516.3 522.6,516.6 523.3,516.3 523.6,516.3" fill="none" stroke="#1c7fd8" stroke-width="1.55" stroke-linejoin="round"/>
<polyline points="344.1,558.6 344.4,558.7 345.7,558.1 346.7,556.9 347.3,556.4 348.0,555.5 348.3,555.4 349.3,554.1 349.9,552.9 352.5,548.9 353.5,546.8 353.8,546.4 354.8,544.5 356.7,541.3 357.3,540.7 358.0,539.5 358.3,539.3 359.3,537.3 359.9,536.4 360.6,534.9 361.9,533.3 362.5,532.8 363.5,531.5 364.8,529.3 365.7,526.7 367.0,517.4 368.6,509.4 370.2,504.4 371.5,501.4 371.9,500.9 372.2,500.8 373.2,499.4 373.8,498.9 374.1,498.4 375.1,497.7 375.4,497.3 375.7,497.4 376.1,497.2 377.7,496.1 378.6,495.8 379.0,496.0 379.3,495.7 379.6,495.7 380.3,495.2 380.9,495.1 381.2,495.2 381.5,495.5 381.9,495.4 382.2,495.5 382.5,495.3 384.5,496.3 384.8,496.7 385.1,496.7 385.4,496.5 386.7,494.8 387.4,494.4 387.7,494.6 388.0,495.1 388.6,495.4 389.0,495.4 389.9,496.1 390.3,496.1 390.6,496.3 390.9,496.2 391.6,496.1 392.2,496.4 392.5,496.3 392.8,496.6 393.2,496.5 393.5,496.6 394.5,496.3 394.8,496.7 395.1,496.6 396.4,497.5 397.0,497.7 397.7,497.7 398.0,498.1 399.3,498.7 399.9,498.7 400.3,498.9 401.9,498.6 402.8,498.9 403.5,498.9 404.1,498.7 404.8,499.1 406.4,499.0 406.7,499.2 407.4,499.3 408.0,499.1 408.7,499.3 409.0,498.9 410.3,499.0 410.6,498.6 411.6,498.1 411.9,498.2 412.9,496.5 414.5,492.6 415.1,491.9 415.4,491.8 416.4,490.6 417.4,489.0 418.0,488.3 419.3,487.9 420.0,487.4 420.3,487.5 421.6,487.1 422.5,487.0 423.2,487.1 423.8,486.9 424.5,486.3 425.1,486.6 425.4,486.9 426.4,487.3 426.7,487.6 427.4,487.4 428.0,487.5 428.7,487.2 429.0,487.4 429.3,487.2 429.6,487.5 430.3,487.7 430.6,487.5 431.6,487.3 432.2,487.6 432.5,487.5 433.5,488.2 433.8,488.3 434.2,488.1 435.1,488.1 435.5,488.4 436.1,488.6 436.4,488.4 436.7,488.6 438.4,488.7 438.7,488.6 439.0,488.7 439.3,489.1 440.0,488.8 440.9,488.8 441.9,489.5 442.6,489.5 443.2,489.9 443.5,489.7 444.5,490.0 444.8,489.8 446.4,489.4 447.7,489.6 448.0,489.9 449.3,490.4 449.7,490.2 450.6,490.3 450.9,490.2 451.3,490.4 451.6,490.4 452.2,490.0 452.9,489.7 453.2,489.9 453.5,489.8 454.5,489.0 454.8,489.1 455.1,488.9 456.1,487.4 457.7,484.1 458.0,483.8 459.3,483.2 460.0,483.0 461.0,482.2 462.6,481.4 463.5,481.1 464.2,481.1 464.5,481.4 464.8,481.3 465.2,481.0 466.4,481.0 467.4,480.6 468.7,480.7 469.0,480.4 469.7,480.5 470.0,480.1 471.0,480.0 471.3,480.1 471.6,480.0 472.6,480.2 473.9,479.3 475.2,479.4 475.8,479.0 477.4,478.9 477.7,479.0 478.1,478.9 478.7,479.1 480.3,478.7 480.6,478.8 481.6,478.5 481.9,478.6 482.3,478.4 482.9,478.2 483.5,478.2 483.9,478.1 484.2,478.3 484.8,478.4 485.5,478.3 485.8,478.1 486.1,478.3 486.5,478.1 487.1,477.9 487.4,478.0 487.7,477.9 488.4,477.9 488.7,478.2 489.4,478.0 489.7,478.3 491.3,478.1 491.6,477.9 491.9,478.0 492.3,477.7 492.6,477.7 492.9,477.7 493.6,478.1 493.9,477.9 494.5,478.0 495.5,477.5 496.1,477.8 496.5,477.6 497.1,477.3 497.4,476.9 498.1,476.7 498.4,476.3 498.7,476.1 499.4,476.1 499.7,475.8 500.0,475.9 500.7,475.3 501.6,474.7 501.9,474.3 503.2,473.5 504.5,473.0 504.9,472.7 505.2,472.8 506.1,472.3 506.8,471.8 507.1,471.8 507.8,471.4 508.1,471.6 508.7,471.4 509.1,471.3 509.4,470.9 510.3,471.1 511.0,470.8 511.3,471.1 512.0,470.5 512.3,470.8 512.6,470.9 514.2,470.1 514.5,470.2 514.9,470.1 515.5,470.1 515.8,470.3 516.2,470.2 516.5,469.9 517.8,469.8 518.4,469.6 518.7,469.5 519.1,469.7 519.4,469.4 520.0,469.3 520.7,469.3 521.0,469.4 521.6,469.2 522.3,468.7 522.6,468.8 522.9,468.5 523.6,468.4" fill="none" stroke="#1d3b78" stroke-width="1.7" stroke-linejoin="round"/>
<polyline points="344.1,559.1 344.4,558.7 344.7,559.0 345.1,558.5 345.4,559.0 345.7,558.7 346.0,558.7 346.7,558.2 347.0,558.1 347.3,558.3 347.7,557.9 348.0,557.7 348.3,558.1 348.6,557.7 348.9,558.1 349.9,558.0 350.2,557.6 350.6,558.4 350.9,557.6 351.2,558.4 351.5,557.6 351.8,557.4 352.2,558.2 352.5,557.8 352.8,557.9 353.1,558.3 353.8,557.1 354.1,557.1 354.4,556.6 355.1,557.2 355.4,556.7 355.7,557.2 356.4,556.4 357.0,556.6 357.7,556.3 358.0,556.6 358.3,558.0 358.6,557.5 358.9,557.5 359.3,556.5 359.6,556.5 360.6,555.5 360.9,556.1 361.2,555.2 361.9,555.3 362.2,556.1 362.5,555.3 362.8,555.4 363.1,555.3 363.5,555.9 363.8,555.3 364.1,555.1 364.4,555.7 364.8,555.1 365.1,556.1 365.7,555.2 366.4,553.6 367.3,541.4 367.7,540.6 368.3,540.0 368.6,538.9 369.3,538.6 369.6,539.1 369.9,539.2 370.2,538.9 370.6,539.0 371.2,537.7 371.5,537.5 372.2,536.6 372.5,537.0 372.8,536.0 373.2,536.9 373.5,535.3 373.8,535.7 374.8,534.6 375.1,534.8 375.4,534.2 375.7,534.8 376.1,534.1 376.4,534.0 377.0,533.2 377.3,533.7 378.0,533.8 379.0,532.8 379.3,532.7 379.6,532.8 379.9,532.6 380.6,532.0 380.9,531.5 381.2,532.3 381.5,532.5 381.9,533.3 382.2,533.6 382.8,532.9 383.2,533.5 383.5,533.5 384.5,534.0 384.8,534.5 385.1,535.6 385.4,536.0 385.7,535.5 386.1,535.5 386.4,534.6 386.7,535.1 387.0,535.0 387.7,536.7 388.0,536.5 388.3,535.8 388.6,536.1 389.0,536.5 389.9,536.7 390.3,537.0 390.9,538.2 391.6,538.2 391.9,538.7 392.2,537.9 392.5,537.8 392.8,538.3 393.2,538.1 393.5,537.3 394.1,538.2 394.5,538.1 394.8,539.1 395.4,539.7 395.7,539.3 396.1,540.1 396.4,539.8 397.4,540.2 397.7,539.6 398.3,540.7 398.7,540.4 399.0,540.7 399.3,540.4 400.3,540.8 400.9,542.3 401.2,541.0 401.6,541.7 401.9,541.4 402.2,542.0 402.8,542.0 403.2,541.4 403.5,541.7 404.1,543.0 404.8,542.2 405.4,541.0 405.8,542.3 406.1,542.5 406.4,543.1 407.0,542.5 407.4,543.4 407.7,542.8 408.0,542.6 408.7,543.1 409.0,542.3 409.3,542.5 409.6,543.1 410.6,542.0 410.9,543.0 411.2,543.2 412.2,542.2 412.5,542.6 412.9,541.9 413.2,541.7 413.5,542.3 413.8,542.5 414.1,542.3 414.5,542.7 415.1,542.1 415.4,542.1 415.8,541.8 416.1,541.1 416.4,541.7 416.7,541.6 417.1,541.9 417.4,541.3 417.7,541.1 418.3,542.0 418.7,541.7 419.0,541.9 419.3,542.5 419.6,542.8 420.0,542.7 420.3,541.6 420.9,541.3 421.2,541.4 421.9,541.2 422.2,542.3 422.9,542.3 423.5,542.5 423.8,543.9 424.2,543.6 424.5,544.1 424.8,543.5 425.1,543.8 425.8,543.9 426.1,544.8 426.4,544.6 426.7,545.0 427.1,544.3 427.7,545.0 428.0,544.4 428.7,545.1 429.3,545.1 429.6,545.0 430.0,545.4 430.3,544.9 430.6,544.9 430.9,544.4 431.3,544.5 431.6,545.3 431.9,544.9 432.2,545.2 432.5,545.3 432.9,546.5 433.2,546.7 433.5,545.7 433.8,545.3 434.2,546.2 434.8,545.8 435.1,545.4 435.8,546.8 436.1,546.4 437.1,546.9 437.4,546.2 437.7,546.6 438.0,546.1 438.4,546.0 438.7,546.5 439.3,545.8 440.0,546.4 440.3,546.2 440.6,546.8 440.9,546.6 441.3,546.1 441.9,547.8 442.2,547.2 442.6,547.5 442.9,547.6 443.2,547.4 443.5,547.6 443.8,547.5 444.2,547.9 444.5,547.9 444.8,547.8 445.1,547.5 445.5,547.7 446.4,547.3 446.8,547.6 447.1,547.2 447.4,547.8 447.7,547.4 448.4,547.2 448.7,547.8 449.0,547.6 449.3,547.7 449.7,548.4 450.0,548.5 450.3,549.0 450.9,548.0 451.3,547.9 451.9,549.1 452.6,549.0 452.9,548.7 453.2,548.9 453.5,548.5 453.9,549.0 454.2,548.6 454.5,549.5 454.8,549.6 455.1,549.5 455.5,549.1 455.8,549.1 456.4,550.2 457.1,549.9 457.4,550.1 457.7,550.0 458.0,550.5 458.7,549.7 459.3,550.6 459.7,550.0 460.0,549.7 461.0,551.4 461.3,550.9 461.9,550.7 462.2,549.8 462.9,550.6 463.2,550.6 463.5,550.9 463.9,550.5 464.2,550.8 464.5,550.9 464.8,550.1 465.5,551.5 465.8,551.4 466.4,551.9 467.1,551.3 467.4,552.0 467.7,552.0 468.1,552.7 468.4,552.0 468.7,552.4 469.3,551.2 469.7,551.0 470.0,551.2 470.3,552.4 470.6,551.5 471.0,552.0 471.3,551.7 471.6,552.2 471.9,552.3 472.3,551.7 472.6,552.7 472.9,553.1 473.2,553.0 473.5,552.4 473.9,553.5 474.2,552.7 474.5,552.9 474.8,552.6 475.2,551.6 475.5,551.9 476.1,551.7 476.4,552.4 477.1,552.9 477.4,552.9 478.4,553.6 478.7,553.2 479.0,553.9 479.4,553.7 479.7,553.0 480.3,554.5 480.6,553.9 481.3,554.3 481.6,553.9 481.9,553.7 482.3,554.1 482.6,554.2 482.9,554.7 483.2,554.7 484.2,553.9 484.5,553.4 484.8,553.8 485.2,553.6 485.5,553.8 485.8,554.5 486.8,554.2 487.1,554.2 487.4,554.3 487.7,554.9 488.1,555.0 489.0,554.4 489.7,554.5 490.0,554.2 490.3,554.5 491.0,555.7 491.6,555.2 491.9,555.5 492.3,554.9 492.6,555.5 492.9,555.7 493.2,555.7 493.6,556.2 493.9,555.6 494.8,557.0 495.5,555.6 496.1,556.8 496.8,556.6 497.1,556.7 497.4,556.4 497.8,556.8 498.1,555.8 498.4,556.0 498.7,555.8 499.0,556.3 499.7,555.7 500.0,556.4 500.3,556.6 500.7,556.3 501.0,556.4 501.3,557.0 501.6,557.2 501.9,557.0 502.3,556.9 502.6,557.3 502.9,557.2 503.2,558.2 504.2,557.0 504.5,557.4 505.2,557.4 505.5,557.6 506.1,558.5 506.5,558.5 506.8,558.8 507.1,559.4 507.4,558.4 507.8,558.9 508.4,558.9 508.7,559.5 509.1,558.9 509.4,559.5 509.7,558.4 510.0,559.1 510.3,559.3 511.3,559.0 512.3,557.4 512.6,558.5 512.9,558.2 513.2,558.1 513.9,559.2 514.2,558.1 514.5,557.9 514.9,559.0 515.2,558.4 515.8,558.5 516.2,558.4 516.5,558.9 516.8,559.0 517.1,558.6 518.1,560.2 518.4,559.5 518.7,559.8 519.4,559.7 519.7,559.3 520.0,559.1 520.3,559.5 520.7,558.8 521.3,558.9 521.6,559.2 522.3,559.5 523.3,559.1 523.6,559.3" fill="none" stroke="#0a0a0a" stroke-width="1.6" stroke-linejoin="round"/>
<rect x="373.40" y="445.20" width="101.80" height="20.60" fill="#fff" stroke="#222" stroke-width="0.7" />
<line x1="379.80" y1="450.50" x2="392.20" y2="450.50" stroke="#1d3b78" stroke-width="1.1" />
<text x="394.00" y="452.40" font-family='"Liberation Sans", "DejaVu Sans", sans-serif' font-size="5.40" fill="#222" stroke="#222" stroke-width="0.119">CO<tspan dy="1.19" font-size="3.67">2</tspan></text>
<line x1="408.80" y1="450.50" x2="422.00" y2="450.50" stroke="#1c7fd8" stroke-width="1.1" />
<text x="423.90" y="452.40" font-family='"Liberation Sans", "DejaVu Sans", sans-serif' font-size="5.40" fill="#222" stroke="#222" stroke-width="0.119">CO</text>
<line x1="436.70" y1="450.50" x2="448.80" y2="450.50" stroke="#0a0a0a" stroke-width="1.1" />
<text x="450.80" y="452.40" font-family='"Liberation Sans", "DejaVu Sans", sans-serif' font-size="5.40" fill="#222" stroke="#222" stroke-width="0.119">O<tspan dy="1.19" font-size="3.67">2</tspan><tspan dy="-1.19"> x10</tspan></text>
<line x1="379.80" y1="459.00" x2="392.20" y2="459.00" stroke="#b9c531" stroke-width="1.1" stroke-dasharray="3 2"/>
<text x="394.00" y="460.90" font-family='"Liberation Sans", "DejaVu Sans", sans-serif' font-size="5.40" fill="#222" stroke="#222" stroke-width="0.119">H<tspan dy="1.19" font-size="3.67">2</tspan><tspan dy="-1.19"> x0.5</tspan></text>
<line x1="436.70" y1="459.00" x2="448.80" y2="459.00" stroke="#e8592a" stroke-width="1.1" stroke-dasharray="3 2"/>
<text x="450.80" y="460.90" font-family='"Liberation Sans", "DejaVu Sans", sans-serif' font-size="5.40" fill="#222" stroke="#222" stroke-width="0.119">C<tspan dy="1.19" font-size="3.67">2</tspan><tspan dy="-1.19">H</tspan><tspan dy="1.19" font-size="3.67">4</tspan></text>
<text x="377.20" y="481.80" font-family='"Liberation Sans", "DejaVu Sans", sans-serif' font-size="8.00" fill="#e8592a" font-weight="bold" stroke="#e8592a" stroke-width="0.176">C<tspan dy="1.76" font-size="5.44">2</tspan><tspan dy="-1.76">H</tspan><tspan dy="1.76" font-size="5.44">4</tspan></text>
<text x="427.70" y="484.00" font-family='"Liberation Sans", "DejaVu Sans", sans-serif' font-size="8.00" fill="#1d3b78" font-weight="bold" stroke="#1d3b78" stroke-width="0.176">CO<tspan dy="1.76" font-size="5.44">2</tspan></text>
<text x="494.00" y="494.20" font-family='"Liberation Sans", "DejaVu Sans", sans-serif' font-size="8.00" fill="#b9c531" font-weight="bold" stroke="#b9c531" stroke-width="0.176">H<tspan dy="1.76" font-size="5.44">2 x0.5</tspan></text>
<text x="427.70" y="522.50" font-family='"Liberation Sans", "DejaVu Sans", sans-serif' font-size="8.00" fill="#1c7fd8" font-weight="bold" stroke="#1c7fd8" stroke-width="0.176">CO</text>
<text x="390.00" y="548.60" font-family='"Liberation Sans", "DejaVu Sans", sans-serif' font-size="8.00" fill="#0a0a0a" font-weight="bold" stroke="#0a0a0a" stroke-width="0.176">O<tspan dy="1.76" font-size="5.44">2 x10</tspan></text>
</g>
</g>
</svg>
</body></html>
